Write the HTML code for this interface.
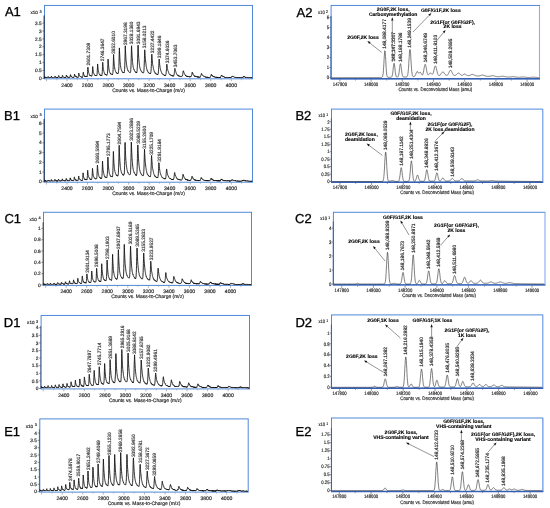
<!DOCTYPE html>
<html><head><meta charset="utf-8"><title>Figure</title>
<style>
html,body{margin:0;padding:0;background:#fff;}
body{width:550px;height:508px;overflow:hidden;}
svg{display:block;font-family:"Liberation Sans", Arial, sans-serif;text-rendering:geometricPrecision;}
</style></head><body>
<svg width="550" height="508" viewBox="0 0 550 508">
<defs><filter id="soft" x="0" y="0" width="550" height="508" filterUnits="userSpaceOnUse"><feGaussianBlur stdDeviation="0.32"/></filter></defs>
<rect x="0" y="0" width="550" height="508" fill="#ffffff"/>
<rect x="44.50" y="5.45" width="208.00" height="73.35" fill="#fff" stroke="#5088da" stroke-width="1"/>
<line x1="44.10" y1="15.60" x2="44.10" y2="78.80" stroke="#1a1a1a" stroke-width="0.9"/>
<line x1="42.30" y1="78.40" x2="44.10" y2="78.40" stroke="#333" stroke-width="0.5"/>
<line x1="42.30" y1="70.50" x2="44.10" y2="70.50" stroke="#333" stroke-width="0.5"/>
<line x1="42.30" y1="62.60" x2="44.10" y2="62.60" stroke="#333" stroke-width="0.5"/>
<line x1="42.30" y1="54.70" x2="44.10" y2="54.70" stroke="#333" stroke-width="0.5"/>
<line x1="42.30" y1="46.80" x2="44.10" y2="46.80" stroke="#333" stroke-width="0.5"/>
<line x1="42.30" y1="38.90" x2="44.10" y2="38.90" stroke="#333" stroke-width="0.5"/>
<line x1="42.30" y1="31.00" x2="44.10" y2="31.00" stroke="#333" stroke-width="0.5"/>
<line x1="42.30" y1="23.10" x2="44.10" y2="23.10" stroke="#333" stroke-width="0.5"/>
<line x1="46.46" y1="79.30" x2="46.46" y2="81.20" stroke="#667" stroke-width="0.5"/>
<line x1="56.73" y1="79.30" x2="56.73" y2="80.20" stroke="#667" stroke-width="0.5"/>
<line x1="67.00" y1="79.30" x2="67.00" y2="81.20" stroke="#667" stroke-width="0.5"/>
<line x1="77.27" y1="79.30" x2="77.27" y2="80.20" stroke="#667" stroke-width="0.5"/>
<line x1="87.54" y1="79.30" x2="87.54" y2="81.20" stroke="#667" stroke-width="0.5"/>
<line x1="97.81" y1="79.30" x2="97.81" y2="80.20" stroke="#667" stroke-width="0.5"/>
<line x1="108.08" y1="79.30" x2="108.08" y2="81.20" stroke="#667" stroke-width="0.5"/>
<line x1="118.35" y1="79.30" x2="118.35" y2="80.20" stroke="#667" stroke-width="0.5"/>
<line x1="128.62" y1="79.30" x2="128.62" y2="81.20" stroke="#667" stroke-width="0.5"/>
<line x1="138.89" y1="79.30" x2="138.89" y2="80.20" stroke="#667" stroke-width="0.5"/>
<line x1="149.16" y1="79.30" x2="149.16" y2="81.20" stroke="#667" stroke-width="0.5"/>
<line x1="159.43" y1="79.30" x2="159.43" y2="80.20" stroke="#667" stroke-width="0.5"/>
<line x1="169.70" y1="79.30" x2="169.70" y2="81.20" stroke="#667" stroke-width="0.5"/>
<line x1="179.97" y1="79.30" x2="179.97" y2="80.20" stroke="#667" stroke-width="0.5"/>
<line x1="190.24" y1="79.30" x2="190.24" y2="81.20" stroke="#667" stroke-width="0.5"/>
<line x1="200.51" y1="79.30" x2="200.51" y2="80.20" stroke="#667" stroke-width="0.5"/>
<line x1="210.78" y1="79.30" x2="210.78" y2="81.20" stroke="#667" stroke-width="0.5"/>
<line x1="221.05" y1="79.30" x2="221.05" y2="80.20" stroke="#667" stroke-width="0.5"/>
<line x1="231.32" y1="79.30" x2="231.32" y2="81.20" stroke="#667" stroke-width="0.5"/>
<line x1="241.59" y1="79.30" x2="241.59" y2="80.20" stroke="#667" stroke-width="0.5"/>
<rect x="44.50" y="109.10" width="208.00" height="73.10" fill="#fff" stroke="#5088da" stroke-width="1"/>
<line x1="44.10" y1="118.90" x2="44.10" y2="182.20" stroke="#1a1a1a" stroke-width="0.9"/>
<line x1="42.30" y1="181.80" x2="44.10" y2="181.80" stroke="#333" stroke-width="0.5"/>
<line x1="42.30" y1="172.05" x2="44.10" y2="172.05" stroke="#333" stroke-width="0.5"/>
<line x1="42.30" y1="162.30" x2="44.10" y2="162.30" stroke="#333" stroke-width="0.5"/>
<line x1="42.30" y1="152.55" x2="44.10" y2="152.55" stroke="#333" stroke-width="0.5"/>
<line x1="42.30" y1="142.80" x2="44.10" y2="142.80" stroke="#333" stroke-width="0.5"/>
<line x1="42.30" y1="133.05" x2="44.10" y2="133.05" stroke="#333" stroke-width="0.5"/>
<line x1="42.30" y1="123.30" x2="44.10" y2="123.30" stroke="#333" stroke-width="0.5"/>
<line x1="46.46" y1="182.70" x2="46.46" y2="184.60" stroke="#667" stroke-width="0.5"/>
<line x1="56.73" y1="182.70" x2="56.73" y2="183.60" stroke="#667" stroke-width="0.5"/>
<line x1="67.00" y1="182.70" x2="67.00" y2="184.60" stroke="#667" stroke-width="0.5"/>
<line x1="77.27" y1="182.70" x2="77.27" y2="183.60" stroke="#667" stroke-width="0.5"/>
<line x1="87.54" y1="182.70" x2="87.54" y2="184.60" stroke="#667" stroke-width="0.5"/>
<line x1="97.81" y1="182.70" x2="97.81" y2="183.60" stroke="#667" stroke-width="0.5"/>
<line x1="108.08" y1="182.70" x2="108.08" y2="184.60" stroke="#667" stroke-width="0.5"/>
<line x1="118.35" y1="182.70" x2="118.35" y2="183.60" stroke="#667" stroke-width="0.5"/>
<line x1="128.62" y1="182.70" x2="128.62" y2="184.60" stroke="#667" stroke-width="0.5"/>
<line x1="138.89" y1="182.70" x2="138.89" y2="183.60" stroke="#667" stroke-width="0.5"/>
<line x1="149.16" y1="182.70" x2="149.16" y2="184.60" stroke="#667" stroke-width="0.5"/>
<line x1="159.43" y1="182.70" x2="159.43" y2="183.60" stroke="#667" stroke-width="0.5"/>
<line x1="169.70" y1="182.70" x2="169.70" y2="184.60" stroke="#667" stroke-width="0.5"/>
<line x1="179.97" y1="182.70" x2="179.97" y2="183.60" stroke="#667" stroke-width="0.5"/>
<line x1="190.24" y1="182.70" x2="190.24" y2="184.60" stroke="#667" stroke-width="0.5"/>
<line x1="200.51" y1="182.70" x2="200.51" y2="183.60" stroke="#667" stroke-width="0.5"/>
<line x1="210.78" y1="182.70" x2="210.78" y2="184.60" stroke="#667" stroke-width="0.5"/>
<line x1="221.05" y1="182.70" x2="221.05" y2="183.60" stroke="#667" stroke-width="0.5"/>
<line x1="231.32" y1="182.70" x2="231.32" y2="184.60" stroke="#667" stroke-width="0.5"/>
<line x1="241.59" y1="182.70" x2="241.59" y2="183.60" stroke="#667" stroke-width="0.5"/>
<rect x="43.50" y="212.30" width="208.00" height="73.10" fill="#fff" stroke="#5088da" stroke-width="1"/>
<line x1="43.10" y1="222.30" x2="43.10" y2="285.40" stroke="#3a3a40" stroke-width="0.9"/>
<line x1="41.30" y1="285.00" x2="43.10" y2="285.00" stroke="#333" stroke-width="0.5"/>
<line x1="41.30" y1="273.68" x2="43.10" y2="273.68" stroke="#333" stroke-width="0.5"/>
<line x1="41.30" y1="262.36" x2="43.10" y2="262.36" stroke="#333" stroke-width="0.5"/>
<line x1="41.30" y1="251.04" x2="43.10" y2="251.04" stroke="#333" stroke-width="0.5"/>
<line x1="41.30" y1="239.72" x2="43.10" y2="239.72" stroke="#333" stroke-width="0.5"/>
<line x1="41.30" y1="228.40" x2="43.10" y2="228.40" stroke="#333" stroke-width="0.5"/>
<line x1="45.66" y1="285.90" x2="45.66" y2="287.80" stroke="#667" stroke-width="0.5"/>
<line x1="55.93" y1="285.90" x2="55.93" y2="286.80" stroke="#667" stroke-width="0.5"/>
<line x1="66.20" y1="285.90" x2="66.20" y2="287.80" stroke="#667" stroke-width="0.5"/>
<line x1="76.47" y1="285.90" x2="76.47" y2="286.80" stroke="#667" stroke-width="0.5"/>
<line x1="86.74" y1="285.90" x2="86.74" y2="287.80" stroke="#667" stroke-width="0.5"/>
<line x1="97.01" y1="285.90" x2="97.01" y2="286.80" stroke="#667" stroke-width="0.5"/>
<line x1="107.28" y1="285.90" x2="107.28" y2="287.80" stroke="#667" stroke-width="0.5"/>
<line x1="117.55" y1="285.90" x2="117.55" y2="286.80" stroke="#667" stroke-width="0.5"/>
<line x1="127.82" y1="285.90" x2="127.82" y2="287.80" stroke="#667" stroke-width="0.5"/>
<line x1="138.09" y1="285.90" x2="138.09" y2="286.80" stroke="#667" stroke-width="0.5"/>
<line x1="148.36" y1="285.90" x2="148.36" y2="287.80" stroke="#667" stroke-width="0.5"/>
<line x1="158.63" y1="285.90" x2="158.63" y2="286.80" stroke="#667" stroke-width="0.5"/>
<line x1="168.90" y1="285.90" x2="168.90" y2="287.80" stroke="#667" stroke-width="0.5"/>
<line x1="179.17" y1="285.90" x2="179.17" y2="286.80" stroke="#667" stroke-width="0.5"/>
<line x1="189.44" y1="285.90" x2="189.44" y2="287.80" stroke="#667" stroke-width="0.5"/>
<line x1="199.71" y1="285.90" x2="199.71" y2="286.80" stroke="#667" stroke-width="0.5"/>
<line x1="209.98" y1="285.90" x2="209.98" y2="287.80" stroke="#667" stroke-width="0.5"/>
<line x1="220.25" y1="285.90" x2="220.25" y2="286.80" stroke="#667" stroke-width="0.5"/>
<line x1="230.52" y1="285.90" x2="230.52" y2="287.80" stroke="#667" stroke-width="0.5"/>
<line x1="240.79" y1="285.90" x2="240.79" y2="286.80" stroke="#667" stroke-width="0.5"/>
<rect x="41.10" y="315.45" width="208.40" height="73.45" fill="#fff" stroke="#5088da" stroke-width="1"/>
<line x1="40.70" y1="326.00" x2="40.70" y2="388.90" stroke="#4a5f90" stroke-width="0.8"/>
<line x1="38.90" y1="388.50" x2="40.70" y2="388.50" stroke="#333" stroke-width="0.5"/>
<line x1="38.90" y1="380.90" x2="40.70" y2="380.90" stroke="#333" stroke-width="0.5"/>
<line x1="38.90" y1="373.30" x2="40.70" y2="373.30" stroke="#333" stroke-width="0.5"/>
<line x1="38.90" y1="365.70" x2="40.70" y2="365.70" stroke="#333" stroke-width="0.5"/>
<line x1="38.90" y1="358.10" x2="40.70" y2="358.10" stroke="#333" stroke-width="0.5"/>
<line x1="38.90" y1="350.50" x2="40.70" y2="350.50" stroke="#333" stroke-width="0.5"/>
<line x1="38.90" y1="342.90" x2="40.70" y2="342.90" stroke="#333" stroke-width="0.5"/>
<line x1="38.90" y1="335.30" x2="40.70" y2="335.30" stroke="#333" stroke-width="0.5"/>
<line x1="38.90" y1="327.70" x2="40.70" y2="327.70" stroke="#333" stroke-width="0.5"/>
<line x1="43.26" y1="389.40" x2="43.26" y2="391.30" stroke="#667" stroke-width="0.5"/>
<line x1="53.53" y1="389.40" x2="53.53" y2="390.30" stroke="#667" stroke-width="0.5"/>
<line x1="63.80" y1="389.40" x2="63.80" y2="391.30" stroke="#667" stroke-width="0.5"/>
<line x1="74.07" y1="389.40" x2="74.07" y2="390.30" stroke="#667" stroke-width="0.5"/>
<line x1="84.34" y1="389.40" x2="84.34" y2="391.30" stroke="#667" stroke-width="0.5"/>
<line x1="94.61" y1="389.40" x2="94.61" y2="390.30" stroke="#667" stroke-width="0.5"/>
<line x1="104.88" y1="389.40" x2="104.88" y2="391.30" stroke="#667" stroke-width="0.5"/>
<line x1="115.15" y1="389.40" x2="115.15" y2="390.30" stroke="#667" stroke-width="0.5"/>
<line x1="125.42" y1="389.40" x2="125.42" y2="391.30" stroke="#667" stroke-width="0.5"/>
<line x1="135.69" y1="389.40" x2="135.69" y2="390.30" stroke="#667" stroke-width="0.5"/>
<line x1="145.96" y1="389.40" x2="145.96" y2="391.30" stroke="#667" stroke-width="0.5"/>
<line x1="156.23" y1="389.40" x2="156.23" y2="390.30" stroke="#667" stroke-width="0.5"/>
<line x1="166.50" y1="389.40" x2="166.50" y2="391.30" stroke="#667" stroke-width="0.5"/>
<line x1="176.77" y1="389.40" x2="176.77" y2="390.30" stroke="#667" stroke-width="0.5"/>
<line x1="187.04" y1="389.40" x2="187.04" y2="391.30" stroke="#667" stroke-width="0.5"/>
<line x1="197.31" y1="389.40" x2="197.31" y2="390.30" stroke="#667" stroke-width="0.5"/>
<line x1="207.58" y1="389.40" x2="207.58" y2="391.30" stroke="#667" stroke-width="0.5"/>
<line x1="217.85" y1="389.40" x2="217.85" y2="390.30" stroke="#667" stroke-width="0.5"/>
<line x1="228.12" y1="389.40" x2="228.12" y2="391.30" stroke="#667" stroke-width="0.5"/>
<line x1="238.39" y1="389.40" x2="238.39" y2="390.30" stroke="#667" stroke-width="0.5"/>
<rect x="39.80" y="418.90" width="208.40" height="73.20" fill="#fff" stroke="#5088da" stroke-width="1"/>
<line x1="39.40" y1="429.30" x2="39.40" y2="492.10" stroke="#3d4f78" stroke-width="0.8"/>
<line x1="37.60" y1="491.70" x2="39.40" y2="491.70" stroke="#333" stroke-width="0.5"/>
<line x1="37.60" y1="484.37" x2="39.40" y2="484.37" stroke="#333" stroke-width="0.5"/>
<line x1="37.60" y1="477.03" x2="39.40" y2="477.03" stroke="#333" stroke-width="0.5"/>
<line x1="37.60" y1="469.69" x2="39.40" y2="469.69" stroke="#333" stroke-width="0.5"/>
<line x1="37.60" y1="462.36" x2="39.40" y2="462.36" stroke="#333" stroke-width="0.5"/>
<line x1="37.60" y1="455.02" x2="39.40" y2="455.02" stroke="#333" stroke-width="0.5"/>
<line x1="37.60" y1="447.69" x2="39.40" y2="447.69" stroke="#333" stroke-width="0.5"/>
<line x1="37.60" y1="440.36" x2="39.40" y2="440.36" stroke="#333" stroke-width="0.5"/>
<line x1="37.60" y1="433.02" x2="39.40" y2="433.02" stroke="#333" stroke-width="0.5"/>
<line x1="41.64" y1="492.60" x2="41.64" y2="494.50" stroke="#667" stroke-width="0.5"/>
<line x1="51.92" y1="492.60" x2="51.92" y2="493.50" stroke="#667" stroke-width="0.5"/>
<line x1="62.20" y1="492.60" x2="62.20" y2="494.50" stroke="#667" stroke-width="0.5"/>
<line x1="72.48" y1="492.60" x2="72.48" y2="493.50" stroke="#667" stroke-width="0.5"/>
<line x1="82.76" y1="492.60" x2="82.76" y2="494.50" stroke="#667" stroke-width="0.5"/>
<line x1="93.04" y1="492.60" x2="93.04" y2="493.50" stroke="#667" stroke-width="0.5"/>
<line x1="103.32" y1="492.60" x2="103.32" y2="494.50" stroke="#667" stroke-width="0.5"/>
<line x1="113.60" y1="492.60" x2="113.60" y2="493.50" stroke="#667" stroke-width="0.5"/>
<line x1="123.88" y1="492.60" x2="123.88" y2="494.50" stroke="#667" stroke-width="0.5"/>
<line x1="134.16" y1="492.60" x2="134.16" y2="493.50" stroke="#667" stroke-width="0.5"/>
<line x1="144.44" y1="492.60" x2="144.44" y2="494.50" stroke="#667" stroke-width="0.5"/>
<line x1="154.72" y1="492.60" x2="154.72" y2="493.50" stroke="#667" stroke-width="0.5"/>
<line x1="165.00" y1="492.60" x2="165.00" y2="494.50" stroke="#667" stroke-width="0.5"/>
<line x1="175.28" y1="492.60" x2="175.28" y2="493.50" stroke="#667" stroke-width="0.5"/>
<line x1="185.56" y1="492.60" x2="185.56" y2="494.50" stroke="#667" stroke-width="0.5"/>
<line x1="195.84" y1="492.60" x2="195.84" y2="493.50" stroke="#667" stroke-width="0.5"/>
<line x1="206.12" y1="492.60" x2="206.12" y2="494.50" stroke="#667" stroke-width="0.5"/>
<line x1="216.40" y1="492.60" x2="216.40" y2="493.50" stroke="#667" stroke-width="0.5"/>
<line x1="226.68" y1="492.60" x2="226.68" y2="494.50" stroke="#667" stroke-width="0.5"/>
<line x1="236.96" y1="492.60" x2="236.96" y2="493.50" stroke="#667" stroke-width="0.5"/>
<rect x="331.10" y="5.45" width="208.40" height="73.35" fill="#fff" stroke="#5088da" stroke-width="1"/>
<line x1="539.50" y1="5.95" x2="539.50" y2="78.80" stroke="#8db0ec" stroke-width="1.1"/>
<line x1="330.60" y1="78.80" x2="540.00" y2="78.80" stroke="#3560b5" stroke-width="1.4"/>
<line x1="331.00" y1="16.00" x2="331.00" y2="78.80" stroke="#3560b5" stroke-width="1.05"/>
<line x1="329.30" y1="77.60" x2="330.70" y2="77.60" stroke="#333" stroke-width="0.5"/>
<line x1="329.30" y1="67.60" x2="330.70" y2="67.60" stroke="#333" stroke-width="0.5"/>
<line x1="329.30" y1="57.60" x2="330.70" y2="57.60" stroke="#333" stroke-width="0.5"/>
<line x1="329.30" y1="47.60" x2="330.70" y2="47.60" stroke="#333" stroke-width="0.5"/>
<line x1="329.30" y1="37.60" x2="330.70" y2="37.60" stroke="#333" stroke-width="0.5"/>
<line x1="329.30" y1="27.60" x2="330.70" y2="27.60" stroke="#333" stroke-width="0.5"/>
<line x1="329.30" y1="17.60" x2="330.70" y2="17.60" stroke="#333" stroke-width="0.5"/>
<line x1="339.90" y1="79.40" x2="339.90" y2="81.70" stroke="#445" stroke-width="0.55"/>
<line x1="355.50" y1="79.40" x2="355.50" y2="80.50" stroke="#445" stroke-width="0.55"/>
<line x1="371.10" y1="79.40" x2="371.10" y2="81.70" stroke="#445" stroke-width="0.55"/>
<line x1="386.70" y1="79.40" x2="386.70" y2="80.50" stroke="#445" stroke-width="0.55"/>
<line x1="402.30" y1="79.40" x2="402.30" y2="81.70" stroke="#445" stroke-width="0.55"/>
<line x1="417.90" y1="79.40" x2="417.90" y2="80.50" stroke="#445" stroke-width="0.55"/>
<line x1="433.50" y1="79.40" x2="433.50" y2="81.70" stroke="#445" stroke-width="0.55"/>
<line x1="449.10" y1="79.40" x2="449.10" y2="80.50" stroke="#445" stroke-width="0.55"/>
<line x1="464.70" y1="79.40" x2="464.70" y2="81.70" stroke="#445" stroke-width="0.55"/>
<line x1="480.30" y1="79.40" x2="480.30" y2="80.50" stroke="#445" stroke-width="0.55"/>
<line x1="495.90" y1="79.40" x2="495.90" y2="81.70" stroke="#445" stroke-width="0.55"/>
<line x1="511.50" y1="79.40" x2="511.50" y2="80.50" stroke="#445" stroke-width="0.55"/>
<line x1="527.10" y1="79.40" x2="527.10" y2="81.70" stroke="#445" stroke-width="0.55"/>
<line x1="381.60" y1="52.40" x2="369.90" y2="43.00" stroke="#111" stroke-width="0.45"/>
<line x1="392.30" y1="62.00" x2="392.30" y2="20.40" stroke="#111" stroke-width="0.45"/>
<line x1="413.00" y1="32.00" x2="429.17" y2="15.30" stroke="#111" stroke-width="0.45"/>
<line x1="436.70" y1="40.70" x2="443.55" y2="32.46" stroke="#111" stroke-width="0.45"/>
<rect x="331.50" y="109.10" width="211.20" height="73.10" fill="#fff" stroke="#5088da" stroke-width="1"/>
<line x1="542.70" y1="109.60" x2="542.70" y2="182.20" stroke="#8db0ec" stroke-width="1.1"/>
<line x1="331.00" y1="182.20" x2="543.20" y2="182.20" stroke="#3560b5" stroke-width="1.4"/>
<line x1="331.40" y1="118.20" x2="331.40" y2="182.20" stroke="#3560b5" stroke-width="1.05"/>
<line x1="329.70" y1="181.50" x2="331.10" y2="181.50" stroke="#333" stroke-width="0.5"/>
<line x1="329.70" y1="174.04" x2="331.10" y2="174.04" stroke="#333" stroke-width="0.5"/>
<line x1="329.70" y1="166.57" x2="331.10" y2="166.57" stroke="#333" stroke-width="0.5"/>
<line x1="329.70" y1="159.11" x2="331.10" y2="159.11" stroke="#333" stroke-width="0.5"/>
<line x1="329.70" y1="151.65" x2="331.10" y2="151.65" stroke="#333" stroke-width="0.5"/>
<line x1="329.70" y1="144.19" x2="331.10" y2="144.19" stroke="#333" stroke-width="0.5"/>
<line x1="329.70" y1="136.72" x2="331.10" y2="136.72" stroke="#333" stroke-width="0.5"/>
<line x1="329.70" y1="129.26" x2="331.10" y2="129.26" stroke="#333" stroke-width="0.5"/>
<line x1="329.70" y1="121.80" x2="331.10" y2="121.80" stroke="#333" stroke-width="0.5"/>
<line x1="339.90" y1="182.80" x2="339.90" y2="185.10" stroke="#445" stroke-width="0.55"/>
<line x1="355.74" y1="182.80" x2="355.74" y2="183.90" stroke="#445" stroke-width="0.55"/>
<line x1="371.58" y1="182.80" x2="371.58" y2="185.10" stroke="#445" stroke-width="0.55"/>
<line x1="387.42" y1="182.80" x2="387.42" y2="183.90" stroke="#445" stroke-width="0.55"/>
<line x1="403.26" y1="182.80" x2="403.26" y2="185.10" stroke="#445" stroke-width="0.55"/>
<line x1="419.10" y1="182.80" x2="419.10" y2="183.90" stroke="#445" stroke-width="0.55"/>
<line x1="434.94" y1="182.80" x2="434.94" y2="185.10" stroke="#445" stroke-width="0.55"/>
<line x1="450.78" y1="182.80" x2="450.78" y2="183.90" stroke="#445" stroke-width="0.55"/>
<line x1="466.62" y1="182.80" x2="466.62" y2="185.10" stroke="#445" stroke-width="0.55"/>
<line x1="482.46" y1="182.80" x2="482.46" y2="183.90" stroke="#445" stroke-width="0.55"/>
<line x1="498.30" y1="182.80" x2="498.30" y2="185.10" stroke="#445" stroke-width="0.55"/>
<line x1="514.14" y1="182.80" x2="514.14" y2="183.90" stroke="#445" stroke-width="0.55"/>
<line x1="529.98" y1="182.80" x2="529.98" y2="185.10" stroke="#445" stroke-width="0.55"/>
<line x1="382.40" y1="155.40" x2="369.16" y2="145.51" stroke="#111" stroke-width="0.45"/>
<line x1="410.40" y1="131.00" x2="410.40" y2="124.80" stroke="#111" stroke-width="0.45"/>
<line x1="435.40" y1="140.70" x2="442.16" y2="133.79" stroke="#111" stroke-width="0.45"/>
<rect x="333.40" y="212.30" width="211.50" height="72.60" fill="#fff" stroke="#5088da" stroke-width="1"/>
<line x1="544.90" y1="212.80" x2="544.90" y2="284.90" stroke="#c3d4f6" stroke-width="1.5"/>
<line x1="332.90" y1="284.90" x2="545.40" y2="284.90" stroke="#3560b5" stroke-width="1.4"/>
<line x1="333.30" y1="221.50" x2="333.30" y2="284.90" stroke="#3560b5" stroke-width="1.05"/>
<line x1="331.60" y1="284.00" x2="333.00" y2="284.00" stroke="#333" stroke-width="0.5"/>
<line x1="331.60" y1="270.00" x2="333.00" y2="270.00" stroke="#333" stroke-width="0.5"/>
<line x1="331.60" y1="256.00" x2="333.00" y2="256.00" stroke="#333" stroke-width="0.5"/>
<line x1="331.60" y1="242.00" x2="333.00" y2="242.00" stroke="#333" stroke-width="0.5"/>
<line x1="331.60" y1="228.00" x2="333.00" y2="228.00" stroke="#333" stroke-width="0.5"/>
<line x1="341.70" y1="285.50" x2="341.70" y2="287.80" stroke="#445" stroke-width="0.55"/>
<line x1="357.56" y1="285.50" x2="357.56" y2="286.60" stroke="#445" stroke-width="0.55"/>
<line x1="373.42" y1="285.50" x2="373.42" y2="287.80" stroke="#445" stroke-width="0.55"/>
<line x1="389.28" y1="285.50" x2="389.28" y2="286.60" stroke="#445" stroke-width="0.55"/>
<line x1="405.14" y1="285.50" x2="405.14" y2="287.80" stroke="#445" stroke-width="0.55"/>
<line x1="421.00" y1="285.50" x2="421.00" y2="286.60" stroke="#445" stroke-width="0.55"/>
<line x1="436.86" y1="285.50" x2="436.86" y2="287.80" stroke="#445" stroke-width="0.55"/>
<line x1="452.72" y1="285.50" x2="452.72" y2="286.60" stroke="#445" stroke-width="0.55"/>
<line x1="468.58" y1="285.50" x2="468.58" y2="287.80" stroke="#445" stroke-width="0.55"/>
<line x1="484.44" y1="285.50" x2="484.44" y2="286.60" stroke="#445" stroke-width="0.55"/>
<line x1="500.30" y1="285.50" x2="500.30" y2="287.80" stroke="#445" stroke-width="0.55"/>
<line x1="516.16" y1="285.50" x2="516.16" y2="286.60" stroke="#445" stroke-width="0.55"/>
<line x1="532.02" y1="285.50" x2="532.02" y2="287.80" stroke="#445" stroke-width="0.55"/>
<line x1="385.00" y1="261.00" x2="375.00" y2="248.50" stroke="#111" stroke-width="0.45"/>
<line x1="409.00" y1="235.00" x2="402.02" y2="223.16" stroke="#111" stroke-width="0.45"/>
<line x1="440.50" y1="245.30" x2="448.07" y2="236.79" stroke="#111" stroke-width="0.45"/>
<rect x="331.50" y="314.90" width="211.20" height="73.30" fill="#fff" stroke="#5088da" stroke-width="1"/>
<line x1="542.70" y1="315.40" x2="542.70" y2="388.20" stroke="#8db0ec" stroke-width="1.1"/>
<line x1="331.00" y1="388.20" x2="543.20" y2="388.20" stroke="#3560b5" stroke-width="1.4"/>
<line x1="331.40" y1="324.50" x2="331.40" y2="388.20" stroke="#3560b5" stroke-width="1.05"/>
<line x1="329.70" y1="387.30" x2="331.10" y2="387.30" stroke="#333" stroke-width="0.5"/>
<line x1="329.70" y1="376.44" x2="331.10" y2="376.44" stroke="#333" stroke-width="0.5"/>
<line x1="329.70" y1="365.58" x2="331.10" y2="365.58" stroke="#333" stroke-width="0.5"/>
<line x1="329.70" y1="354.72" x2="331.10" y2="354.72" stroke="#333" stroke-width="0.5"/>
<line x1="329.70" y1="343.86" x2="331.10" y2="343.86" stroke="#333" stroke-width="0.5"/>
<line x1="329.70" y1="333.00" x2="331.10" y2="333.00" stroke="#333" stroke-width="0.5"/>
<line x1="339.60" y1="388.80" x2="339.60" y2="391.10" stroke="#445" stroke-width="0.55"/>
<line x1="355.50" y1="388.80" x2="355.50" y2="389.90" stroke="#445" stroke-width="0.55"/>
<line x1="371.40" y1="388.80" x2="371.40" y2="391.10" stroke="#445" stroke-width="0.55"/>
<line x1="387.30" y1="388.80" x2="387.30" y2="389.90" stroke="#445" stroke-width="0.55"/>
<line x1="403.20" y1="388.80" x2="403.20" y2="391.10" stroke="#445" stroke-width="0.55"/>
<line x1="419.10" y1="388.80" x2="419.10" y2="389.90" stroke="#445" stroke-width="0.55"/>
<line x1="435.00" y1="388.80" x2="435.00" y2="391.10" stroke="#445" stroke-width="0.55"/>
<line x1="450.90" y1="388.80" x2="450.90" y2="389.90" stroke="#445" stroke-width="0.55"/>
<line x1="466.80" y1="388.80" x2="466.80" y2="391.10" stroke="#445" stroke-width="0.55"/>
<line x1="482.70" y1="388.80" x2="482.70" y2="389.90" stroke="#445" stroke-width="0.55"/>
<line x1="498.60" y1="388.80" x2="498.60" y2="391.10" stroke="#445" stroke-width="0.55"/>
<line x1="514.50" y1="388.80" x2="514.50" y2="389.90" stroke="#445" stroke-width="0.55"/>
<line x1="530.40" y1="388.80" x2="530.40" y2="391.10" stroke="#445" stroke-width="0.55"/>
<line x1="383.00" y1="372.00" x2="366.73" y2="362.07" stroke="#111" stroke-width="0.45"/>
<line x1="400.40" y1="338.00" x2="387.40" y2="326.52" stroke="#111" stroke-width="0.45"/>
<line x1="431.60" y1="339.00" x2="431.60" y2="327.20" stroke="#111" stroke-width="0.45"/>
<line x1="455.80" y1="348.30" x2="461.54" y2="340.30" stroke="#111" stroke-width="0.45"/>
<rect x="331.50" y="418.00" width="211.30" height="73.50" fill="#fff" stroke="#5088da" stroke-width="1"/>
<line x1="542.80" y1="418.50" x2="542.80" y2="491.50" stroke="#8db0ec" stroke-width="1.1"/>
<line x1="331.00" y1="491.50" x2="543.30" y2="491.50" stroke="#3560b5" stroke-width="1.4"/>
<line x1="331.40" y1="428.00" x2="331.40" y2="491.50" stroke="#3560b5" stroke-width="1.05"/>
<line x1="329.70" y1="490.60" x2="331.10" y2="490.60" stroke="#333" stroke-width="0.5"/>
<line x1="329.70" y1="482.60" x2="331.10" y2="482.60" stroke="#333" stroke-width="0.5"/>
<line x1="329.70" y1="474.60" x2="331.10" y2="474.60" stroke="#333" stroke-width="0.5"/>
<line x1="329.70" y1="466.60" x2="331.10" y2="466.60" stroke="#333" stroke-width="0.5"/>
<line x1="329.70" y1="458.60" x2="331.10" y2="458.60" stroke="#333" stroke-width="0.5"/>
<line x1="329.70" y1="450.60" x2="331.10" y2="450.60" stroke="#333" stroke-width="0.5"/>
<line x1="329.70" y1="442.60" x2="331.10" y2="442.60" stroke="#333" stroke-width="0.5"/>
<line x1="329.70" y1="434.60" x2="331.10" y2="434.60" stroke="#333" stroke-width="0.5"/>
<line x1="339.30" y1="492.10" x2="339.30" y2="494.40" stroke="#445" stroke-width="0.55"/>
<line x1="355.20" y1="492.10" x2="355.20" y2="493.20" stroke="#445" stroke-width="0.55"/>
<line x1="371.10" y1="492.10" x2="371.10" y2="494.40" stroke="#445" stroke-width="0.55"/>
<line x1="387.00" y1="492.10" x2="387.00" y2="493.20" stroke="#445" stroke-width="0.55"/>
<line x1="402.90" y1="492.10" x2="402.90" y2="494.40" stroke="#445" stroke-width="0.55"/>
<line x1="418.80" y1="492.10" x2="418.80" y2="493.20" stroke="#445" stroke-width="0.55"/>
<line x1="434.70" y1="492.10" x2="434.70" y2="494.40" stroke="#445" stroke-width="0.55"/>
<line x1="450.60" y1="492.10" x2="450.60" y2="493.20" stroke="#445" stroke-width="0.55"/>
<line x1="466.50" y1="492.10" x2="466.50" y2="494.40" stroke="#445" stroke-width="0.55"/>
<line x1="482.40" y1="492.10" x2="482.40" y2="493.20" stroke="#445" stroke-width="0.55"/>
<line x1="498.30" y1="492.10" x2="498.30" y2="494.40" stroke="#445" stroke-width="0.55"/>
<line x1="514.20" y1="492.10" x2="514.20" y2="493.20" stroke="#445" stroke-width="0.55"/>
<line x1="530.10" y1="492.10" x2="530.10" y2="494.40" stroke="#445" stroke-width="0.55"/>
<line x1="434.00" y1="456.60" x2="408.86" y2="444.03" stroke="#111" stroke-width="0.45"/>
<line x1="461.40" y1="441.00" x2="461.40" y2="433.00" stroke="#111" stroke-width="0.45"/>
<line x1="487.60" y1="452.60" x2="494.40" y2="444.81" stroke="#111" stroke-width="0.45"/>
<g filter="url(#soft)">
<text x="4.90" y="16.10" font-size="13.0" fill="#000" stroke="#000" stroke-width="0.3">A1</text>
<text x="41.70" y="80.05" font-size="4.8" text-anchor="end" fill="#262626" stroke="#262626" stroke-width="0.16">0</text>
<text x="41.70" y="72.15" font-size="4.8" text-anchor="end" fill="#262626" stroke="#262626" stroke-width="0.16">0.5</text>
<text x="41.70" y="64.25" font-size="4.8" text-anchor="end" fill="#262626" stroke="#262626" stroke-width="0.16">1</text>
<text x="41.70" y="56.35" font-size="4.8" text-anchor="end" fill="#262626" stroke="#262626" stroke-width="0.16">1.5</text>
<text x="41.70" y="48.45" font-size="4.8" text-anchor="end" fill="#262626" stroke="#262626" stroke-width="0.16">2</text>
<text x="41.70" y="40.55" font-size="4.8" text-anchor="end" fill="#262626" stroke="#262626" stroke-width="0.16">2.5</text>
<text x="41.70" y="32.65" font-size="4.8" text-anchor="end" fill="#262626" stroke="#262626" stroke-width="0.16">3</text>
<text x="41.70" y="24.75" font-size="4.8" text-anchor="end" fill="#262626" stroke="#262626" stroke-width="0.16">3.5</text>
<text x="37.90" y="14.00" font-size="4.6" text-anchor="end" fill="#262626" stroke="#262626" stroke-width="0.16">x10</text>
<text x="39.50" y="12.70" font-size="3.8" fill="#262626" stroke="#262626" stroke-width="0.16">3</text>
<text x="67.00" y="86.60" font-size="5.1" text-anchor="middle" fill="#262626" stroke="#262626" stroke-width="0.16">2400</text>
<text x="87.54" y="86.60" font-size="5.1" text-anchor="middle" fill="#262626" stroke="#262626" stroke-width="0.16">2600</text>
<text x="108.08" y="86.60" font-size="5.1" text-anchor="middle" fill="#262626" stroke="#262626" stroke-width="0.16">2800</text>
<text x="128.62" y="86.60" font-size="5.1" text-anchor="middle" fill="#262626" stroke="#262626" stroke-width="0.16">3000</text>
<text x="149.16" y="86.60" font-size="5.1" text-anchor="middle" fill="#262626" stroke="#262626" stroke-width="0.16">3200</text>
<text x="169.70" y="86.60" font-size="5.1" text-anchor="middle" fill="#262626" stroke="#262626" stroke-width="0.16">3400</text>
<text x="190.24" y="86.60" font-size="5.1" text-anchor="middle" fill="#262626" stroke="#262626" stroke-width="0.16">3600</text>
<text x="210.78" y="86.60" font-size="5.1" text-anchor="middle" fill="#262626" stroke="#262626" stroke-width="0.16">3800</text>
<text x="231.32" y="86.60" font-size="5.1" text-anchor="middle" fill="#262626" stroke="#262626" stroke-width="0.16">4000</text>
<text x="148.50" y="91.70" font-size="4.95" text-anchor="middle" fill="#262626" stroke="#262626" stroke-width="0.16">Counts vs. Mass-to-Charge (m/z)</text>
<polyline points="44.5,76.82 44.6,76.83 44.7,76.71 44.8,77.02 44.9,76.86 45.0,77.52 45.1,76.96 45.2,77.46 45.3,77.35 45.4,77.50 45.5,77.26 45.6,77.88 45.7,77.63 45.8,77.66 45.9,77.43 46.0,77.82 46.1,77.68 46.2,77.81 46.3,77.67 46.5,77.59 46.6,77.87 46.7,77.51 46.8,77.56 46.9,77.63 47.0,77.57 47.1,77.83 47.2,77.74 47.3,77.88 47.4,77.76 47.5,77.60 47.6,77.73 47.7,77.53 47.8,77.32 47.9,76.98 48.0,76.62 48.1,76.63 48.2,77.02 48.3,76.95 48.4,76.85 48.5,77.10 48.6,77.34 48.7,77.53 48.8,77.56 48.9,77.20 49.0,77.51 49.1,77.65 49.2,77.54 49.3,77.25 49.4,77.59 49.5,77.53 49.6,77.59 49.7,77.71 49.8,77.85 49.9,77.73 50.0,77.71 50.1,77.59 50.3,77.55 50.4,77.54 50.5,77.65 50.6,77.55 50.7,77.83 50.8,77.49 50.9,77.59 51.0,77.67 51.1,77.43 51.2,77.31 51.3,76.77 51.4,76.31 51.5,76.02 51.6,76.85 51.7,77.05 51.8,77.05 51.9,77.06 52.0,77.05 52.1,77.22 52.2,77.68 52.3,77.45 52.4,77.30 52.5,77.44 52.6,77.38 52.7,77.57 52.8,77.59 52.9,77.55 53.0,77.52 53.1,77.57 53.2,77.60 53.3,77.74 53.4,77.57 53.5,77.62 53.6,77.46 53.7,77.45 53.8,77.63 53.9,77.72 54.1,77.77 54.2,77.59 54.3,77.65 54.4,77.70 54.5,77.59 54.6,77.61 54.7,77.19 54.8,77.06 54.9,76.33 55.0,76.04 55.1,76.08 55.2,76.62 55.3,76.61 55.4,76.69 55.5,77.11 55.6,77.10 55.7,77.15 55.8,77.46 55.9,77.24 56.0,77.20 56.1,77.53 56.2,77.36 56.3,77.67 56.4,77.48 56.5,77.77 56.6,77.33 56.7,77.47 56.8,77.55 56.9,77.69 57.0,77.36 57.1,77.25 57.2,77.89 57.3,77.38 57.4,77.33 57.5,77.54 57.6,77.80 57.7,77.46 57.9,77.64 58.0,77.70 58.1,77.77 58.2,77.40 58.3,77.20 58.4,77.14 58.5,76.51 58.6,76.25 58.7,75.53 58.8,75.94 58.9,76.25 59.0,76.46 59.1,76.49 59.2,76.66 59.3,76.82 59.4,76.99 59.5,77.09 59.6,77.07 59.7,77.19 59.8,77.17 59.9,77.37 60.0,77.76 60.1,77.21 60.2,77.05 60.3,77.36 60.4,77.47 60.5,77.49 60.6,77.50 60.7,77.49 60.8,77.69 60.9,77.60 61.0,77.69 61.1,77.49 61.2,77.59 61.3,77.46 61.4,77.57 61.5,77.38 61.7,77.51 61.8,77.16 61.9,77.79 62.0,77.46 62.1,76.98 62.2,76.33 62.3,76.26 62.4,75.61 62.5,75.35 62.6,75.46 62.7,76.03 62.8,76.11 62.9,76.48 63.0,76.81 63.1,76.69 63.2,76.77 63.3,76.74 63.4,77.06 63.5,77.21 63.6,77.07 63.7,77.17 63.8,77.21 63.9,77.30 64.0,77.13 64.1,77.29 64.2,77.05 64.3,77.20 64.4,77.30 64.5,77.69 64.6,77.33 64.7,77.38 64.8,77.32 64.9,77.29 65.0,77.54 65.1,77.34 65.2,77.58 65.3,77.17 65.5,77.71 65.6,77.77 65.7,77.73 65.8,77.54 65.9,77.43 66.0,76.66 66.1,76.60 66.2,76.18 66.3,75.12 66.4,75.11 66.5,75.61 66.6,75.58 66.7,75.89 66.8,76.29 66.9,76.18 67.0,76.54 67.1,76.43 67.2,76.73 67.3,76.64 67.4,76.96 67.5,77.25 67.6,76.70 67.7,77.24 67.8,77.23 67.9,77.34 68.0,77.29 68.1,77.25 68.2,77.28 68.3,77.22 68.4,77.05 68.5,77.38 68.6,77.58 68.7,77.58 68.8,77.51 68.9,77.69 69.0,77.28 69.1,77.51 69.3,77.48 69.4,77.43 69.5,77.67 69.6,77.57 69.7,77.28 69.8,77.22 69.9,77.25 70.0,76.60 70.1,76.67 70.2,75.88 70.3,75.15 70.4,75.07 70.5,74.66 70.6,75.29 70.7,75.83 70.8,75.58 70.9,76.04 71.0,76.25 71.1,76.58 71.2,76.59 71.3,76.97 71.4,76.68 71.5,76.95 71.6,76.93 71.7,76.81 71.8,77.02 71.9,77.06 72.0,77.10 72.1,77.30 72.2,77.06 72.3,76.97 72.4,77.12 72.5,77.12 72.6,77.43 72.7,77.44 72.8,77.55 72.9,77.11 73.1,77.37 73.2,77.11 73.3,77.48 73.4,77.42 73.5,77.34 73.6,77.20 73.7,77.34 73.8,77.29 73.9,77.26 74.0,77.10 74.1,77.06 74.2,76.43 74.3,75.85 74.4,75.04 74.5,74.20 74.6,74.32 74.7,74.69 74.8,75.11 74.9,75.32 75.0,75.53 75.1,76.05 75.2,75.99 75.3,75.91 75.4,76.64 75.5,76.66 75.6,76.77 75.7,76.75 75.8,76.51 75.9,76.84 76.0,77.02 76.1,76.85 76.2,77.09 76.3,76.84 76.4,77.01 76.5,76.85 76.6,77.22 76.7,76.63 76.9,77.01 77.0,77.06 77.1,77.19 77.2,77.31 77.3,77.35 77.4,77.23 77.5,77.35 77.6,77.18 77.7,77.37 77.8,77.13 77.9,77.07 78.0,77.33 78.1,76.97 78.2,77.11 78.3,76.69 78.4,76.46 78.5,75.79 78.6,75.35 78.7,74.26 78.8,73.14 78.9,73.52 79.0,74.29 79.1,74.73 79.2,75.21 79.3,75.47 79.4,75.47 79.5,75.42 79.6,75.91 79.7,75.95 79.8,76.17 79.9,76.28 80.0,76.42 80.1,76.51 80.2,76.48 80.3,76.82 80.4,76.52 80.5,76.59 80.7,76.82 80.8,76.69 80.9,76.97 81.0,76.98 81.1,76.89 81.2,76.97 81.3,77.03 81.4,77.09 81.5,77.08 81.6,76.85 81.7,77.34 81.8,76.97 81.9,77.08 82.0,76.92 82.1,76.96 82.2,77.51 82.3,76.95 82.4,76.97 82.5,76.97 82.6,76.94 82.7,76.50 82.8,76.32 82.9,75.32 83.0,74.62 83.1,73.23 83.2,72.57 83.3,72.20 83.4,72.49 83.5,73.06 83.6,73.70 83.7,74.39 83.8,74.58 83.9,74.72 84.0,75.12 84.1,75.34 84.2,75.55 84.3,75.84 84.5,75.92 84.6,76.19 84.7,75.77 84.8,76.23 84.9,76.14 85.0,76.46 85.1,76.21 85.2,76.70 85.3,76.28 85.4,76.47 85.5,76.14 85.6,76.73 85.7,76.53 85.8,76.50 85.9,76.37 86.0,76.66 86.1,76.58 86.2,76.96 86.3,76.75 86.4,76.54 86.5,76.44 86.6,76.67 86.7,76.28 86.8,76.32 86.9,76.59 87.0,76.91 87.1,76.66 87.2,76.22 87.3,75.41 87.4,74.71 87.5,73.82 87.6,71.74 87.7,69.32 87.8,67.63 87.9,67.14 88.0,67.91 88.1,69.31 88.3,70.31 88.4,70.95 88.5,71.68 88.6,72.33 88.7,72.56 88.8,73.00 88.9,73.42 89.0,73.89 89.1,73.96 89.2,74.40 89.3,74.53 89.4,74.61 89.5,74.81 89.6,74.79 89.7,75.13 89.8,75.59 89.9,75.60 90.0,75.26 90.1,75.61 90.2,75.56 90.3,75.82 90.4,75.57 90.5,75.84 90.6,75.58 90.7,75.95 90.8,75.71 90.9,75.82 91.0,76.09 91.1,75.81 91.2,76.17 91.3,76.18 91.4,75.94 91.5,76.17 91.6,76.16 91.7,76.08 91.8,76.08 91.9,75.53 92.1,75.19 92.2,74.62 92.3,73.54 92.4,71.91 92.5,69.75 92.6,67.85 92.7,66.55 92.8,67.15 92.9,68.41 93.0,69.39 93.1,69.88 93.2,70.99 93.3,71.62 93.4,72.41 93.5,72.79 93.6,72.89 93.7,73.43 93.8,73.54 93.9,74.08 94.0,74.26 94.1,74.23 94.2,74.28 94.3,74.58 94.4,74.62 94.5,74.66 94.6,74.88 94.7,75.30 94.8,75.25 94.9,75.21 95.0,75.45 95.1,75.37 95.2,75.76 95.3,75.68 95.4,75.50 95.5,76.00 95.6,75.85 95.7,75.70 95.8,76.01 96.0,75.74 96.1,75.90 96.2,75.84 96.3,75.85 96.4,75.78 96.5,75.91 96.6,75.78 96.7,75.82 96.8,75.49 96.9,75.01 97.0,74.75 97.1,73.91 97.2,72.83 97.3,70.70 97.4,68.65 97.5,66.19 97.6,63.98 97.7,64.56 97.8,65.78 97.9,66.91 98.0,68.27 98.1,69.05 98.2,69.56 98.3,70.37 98.4,71.01 98.5,71.43 98.6,72.20 98.7,72.39 98.8,72.61 98.9,72.88 99.0,73.55 99.1,73.70 99.2,73.80 99.3,74.10 99.4,74.28 99.5,74.25 99.6,74.55 99.8,74.91 99.9,74.65 100.0,74.88 100.1,75.01 100.2,75.22 100.3,74.86 100.4,75.46 100.5,75.43 100.6,75.24 100.7,75.04 100.8,75.07 100.9,75.51 101.0,75.39 101.1,75.64 101.2,75.25 101.3,75.69 101.4,75.48 101.5,75.30 101.6,75.50 101.7,75.18 101.8,75.47 101.9,75.07 102.0,74.62 102.1,74.15 102.2,72.87 102.3,71.50 102.4,69.80 102.5,66.36 102.6,64.27 102.7,62.32 102.8,63.28 102.9,64.50 103.0,65.86 103.1,66.79 103.2,67.81 103.3,68.42 103.4,69.45 103.6,70.04 103.7,70.64 103.8,71.23 103.9,71.68 104.0,71.86 104.1,72.26 104.2,72.80 104.3,73.15 104.4,73.21 104.5,73.22 104.6,73.61 104.7,73.48 104.8,74.05 104.9,74.03 105.0,74.59 105.1,74.38 105.2,74.43 105.3,74.38 105.4,74.26 105.5,74.61 105.6,74.44 105.7,74.62 105.8,74.62 105.9,74.91 106.0,74.65 106.1,75.09 106.2,74.87 106.3,75.14 106.4,75.09 106.5,75.28 106.6,75.14 106.7,75.00 106.8,75.07 106.9,75.25 107.0,74.70 107.1,74.73 107.2,74.30 107.4,73.79 107.5,73.13 107.6,71.96 107.7,69.84 107.8,66.93 107.9,64.32 108.0,61.04 108.1,59.21 108.2,60.37 108.3,62.38 108.4,63.33 108.5,64.79 108.6,65.75 108.7,66.85 108.8,67.61 108.9,68.52 109.0,69.05 109.1,70.02 109.2,70.47 109.3,70.63 109.4,71.17 109.5,71.57 109.6,71.88 109.7,72.06 109.8,72.49 109.9,72.54 110.0,72.98 110.1,73.08 110.2,73.01 110.3,73.14 110.4,73.63 110.5,73.43 110.6,73.85 110.7,73.65 110.8,74.17 110.9,74.12 111.0,74.09 111.2,74.10 111.3,73.89 111.4,74.03 111.5,73.96 111.6,74.07 111.7,74.35 111.8,74.39 111.9,74.20 112.0,74.39 112.1,74.45 112.2,74.66 112.3,74.45 112.4,74.87 112.5,74.42 112.6,74.35 112.7,73.79 112.8,73.49 112.9,72.64 113.0,71.08 113.1,69.60 113.2,66.81 113.3,63.97 113.4,60.04 113.5,56.58 113.6,54.48 113.7,56.84 113.8,58.54 113.9,60.22 114.0,61.76 114.1,63.04 114.2,64.15 114.3,65.19 114.4,66.33 114.5,67.17 114.6,67.27 114.7,68.00 114.8,69.11 115.0,69.31 115.1,69.73 115.2,70.11 115.3,70.56 115.4,71.06 115.5,71.22 115.6,71.53 115.7,71.65 115.8,71.92 115.9,72.08 116.0,72.06 116.1,72.17 116.2,72.70 116.3,72.70 116.4,72.87 116.5,72.63 116.6,72.93 116.7,72.76 116.8,73.16 116.9,73.14 117.0,73.43 117.1,73.05 117.2,73.37 117.3,73.61 117.4,73.50 117.5,73.82 117.6,73.48 117.7,73.48 117.8,73.47 117.9,73.28 118.0,73.56 118.1,73.32 118.2,73.28 118.3,73.12 118.4,72.98 118.5,71.73 118.6,70.78 118.8,68.90 118.9,66.57 119.0,62.95 119.1,58.87 119.2,54.41 119.3,50.33 119.4,47.95 119.5,50.61 119.6,53.00 119.7,54.66 119.8,57.16 119.9,58.77 120.0,60.35 120.1,61.41 120.2,62.76 120.3,64.13 120.4,64.81 120.5,65.43 120.6,66.02 120.7,67.10 120.8,67.54 120.9,68.00 121.0,68.58 121.1,68.80 121.2,69.27 121.3,69.57 121.4,70.06 121.5,69.97 121.6,70.49 121.7,70.51 121.8,71.01 121.9,71.04 122.0,71.42 122.1,71.63 122.2,71.74 122.3,71.77 122.4,71.92 122.6,71.75 122.7,72.30 122.8,72.39 122.9,72.01 123.0,72.28 123.1,72.77 123.2,72.45 123.3,72.56 123.4,73.02 123.5,72.78 123.6,72.77 123.7,72.69 123.8,72.69 123.9,72.85 124.0,72.68 124.1,72.82 124.2,72.79 124.3,72.52 124.4,71.78 124.5,71.38 124.6,69.66 124.7,68.06 124.8,65.30 124.9,61.69 125.0,57.38 125.1,53.30 125.2,48.79 125.3,45.84 125.4,48.18 125.5,50.42 125.6,53.13 125.7,54.71 125.8,56.48 125.9,58.13 126.0,59.38 126.1,61.04 126.2,61.79 126.4,63.12 126.5,63.80 126.6,64.80 126.7,65.36 126.8,66.03 126.9,67.01 127.0,67.34 127.1,67.82 127.2,68.30 127.3,68.79 127.4,68.72 127.5,69.33 127.6,69.41 127.7,70.04 127.8,70.37 127.9,70.40 128.0,70.73 128.1,70.43 128.2,70.96 128.3,70.98 128.4,71.36 128.5,71.51 128.6,71.59 128.7,71.65 128.8,71.67 128.9,71.94 129.0,72.13 129.1,72.28 129.2,72.20 129.3,72.16 129.4,72.26 129.5,72.40 129.6,72.56 129.7,72.49 129.8,72.47 129.9,72.61 130.0,72.61 130.2,72.64 130.3,72.41 130.4,72.51 130.5,72.15 130.6,71.67 130.7,70.89 130.8,69.62 130.9,68.07 131.0,65.72 131.1,62.94 131.2,58.73 131.3,54.04 131.4,50.06 131.5,46.36 131.6,45.74 131.7,48.15 131.8,50.57 131.9,52.84 132.0,54.65 132.1,56.17 132.2,57.76 132.3,58.84 132.4,60.31 132.5,61.54 132.6,62.50 132.7,63.57 132.8,64.49 132.9,65.04 133.0,65.66 133.1,66.58 133.2,66.99 133.3,67.47 133.4,67.82 133.5,68.32 133.6,68.58 133.7,68.98 133.8,69.14 134.0,69.88 134.1,69.59 134.2,69.87 134.3,70.32 134.4,70.42 134.5,70.62 134.6,71.02 134.7,71.03 134.8,71.07 134.9,71.29 135.0,71.29 135.1,71.57 135.2,71.68 135.3,71.93 135.4,71.95 135.5,72.06 135.6,71.79 135.7,72.11 135.8,72.39 135.9,72.23 136.0,72.39 136.1,72.92 136.2,72.39 136.3,72.78 136.4,72.45 136.5,72.72 136.6,72.78 136.7,72.39 136.8,72.55 136.9,72.08 137.0,71.46 137.1,70.59 137.2,69.35 137.3,67.73 137.4,65.47 137.5,61.90 137.6,58.53 137.8,53.86 137.9,49.91 138.0,46.02 138.1,45.18 138.2,48.07 138.3,50.12 138.4,52.12 138.5,53.99 138.6,55.83 138.7,57.27 138.8,58.76 138.9,60.14 139.0,60.91 139.1,62.19 139.2,62.80 139.3,63.77 139.4,64.78 139.5,65.36 139.6,66.02 139.7,66.69 139.8,66.99 139.9,67.64 140.0,67.73 140.1,68.26 140.2,68.92 140.3,69.12 140.4,69.47 140.5,69.98 140.6,69.83 140.7,70.07 140.8,70.30 140.9,70.74 141.0,70.68 141.1,71.07 141.2,71.05 141.3,71.06 141.4,71.49 141.6,71.88 141.7,71.83 141.8,71.79 141.9,71.80 142.0,72.30 142.1,72.24 142.2,72.27 142.3,72.32 142.4,72.33 142.5,72.71 142.6,72.70 142.7,72.53 142.8,72.70 142.9,72.75 143.0,72.69 143.1,72.90 143.2,72.86 143.3,73.00 143.4,73.13 143.5,73.02 143.6,72.58 143.7,72.28 143.8,71.78 143.9,70.76 144.0,69.70 144.1,67.79 144.2,65.52 144.3,62.79 144.4,59.66 144.5,55.38 144.6,52.05 144.7,49.84 144.8,49.85 144.9,51.79 145.0,53.79 145.1,55.37 145.2,57.18 145.4,58.41 145.5,59.73 145.6,60.92 145.7,61.99 145.8,62.89 145.9,63.65 146.0,64.69 146.1,65.41 146.2,65.98 146.3,66.64 146.4,67.12 146.5,67.58 146.6,67.95 146.7,68.62 146.8,69.37 146.9,69.37 147.0,69.64 147.1,70.04 147.2,70.32 147.3,70.96 147.4,70.71 147.5,71.08 147.6,71.48 147.7,71.57 147.8,71.75 147.9,71.68 148.0,71.84 148.1,71.83 148.2,72.11 148.3,72.57 148.4,72.70 148.5,72.39 148.6,72.43 148.7,72.83 148.8,72.79 148.9,73.22 149.0,73.38 149.2,73.33 149.3,73.27 149.4,73.37 149.5,73.39 149.6,73.50 149.7,73.37 149.8,73.30 149.9,73.58 150.0,73.30 150.1,73.78 150.2,73.79 150.3,73.64 150.4,73.74 150.5,73.41 150.6,73.56 150.7,72.98 150.8,72.76 150.9,71.74 151.0,71.34 151.1,70.05 151.2,68.34 151.3,66.63 151.4,63.66 151.5,60.87 151.6,58.05 151.7,55.75 151.8,54.14 151.9,55.18 152.0,56.67 152.1,58.05 152.2,59.79 152.3,61.02 152.4,61.99 152.5,63.28 152.6,63.97 152.7,64.57 152.8,65.21 153.0,66.13 153.1,66.55 153.2,67.35 153.3,67.93 153.4,68.48 153.5,68.88 153.6,69.38 153.7,69.74 153.8,70.19 153.9,70.36 154.0,70.71 154.1,71.24 154.2,71.29 154.3,71.63 154.4,72.05 154.5,71.84 154.6,71.85 154.7,71.90 154.8,72.20 154.9,72.76 155.0,72.56 155.1,72.71 155.2,73.35 155.3,73.00 155.4,73.15 155.5,73.33 155.6,73.41 155.7,73.54 155.8,73.36 155.9,73.78 156.0,73.83 156.1,73.87 156.2,73.90 156.3,74.30 156.4,73.84 156.5,74.10 156.6,74.10 156.8,74.21 156.9,74.33 157.0,74.41 157.1,74.38 157.2,74.41 157.3,74.29 157.4,74.45 157.5,74.55 157.6,74.21 157.7,74.73 157.8,74.69 157.9,74.31 158.0,74.23 158.1,74.21 158.2,73.54 158.3,72.99 158.4,71.83 158.5,70.99 158.6,69.28 158.7,67.62 158.8,65.71 158.9,63.51 159.0,61.33 159.1,60.05 159.2,59.12 159.3,60.51 159.4,61.32 159.5,62.80 159.6,63.47 159.7,64.97 159.8,65.24 159.9,66.09 160.0,66.87 160.1,67.48 160.2,68.09 160.3,68.52 160.4,69.10 160.6,69.84 160.7,69.99 160.8,69.98 160.9,70.70 161.0,70.99 161.1,71.41 161.2,71.59 161.3,71.85 161.4,72.17 161.5,72.21 161.6,72.71 161.7,72.77 161.8,72.85 161.9,73.15 162.0,73.46 162.1,73.31 162.2,73.70 162.3,73.74 162.4,73.93 162.5,73.92 162.6,74.08 162.7,74.18 162.8,74.09 162.9,73.99 163.0,74.43 163.1,74.36 163.2,74.58 163.3,74.58 163.4,74.47 163.5,74.71 163.6,74.92 163.7,74.96 163.8,75.00 163.9,74.95 164.0,74.85 164.1,75.27 164.2,75.26 164.4,75.29 164.5,75.46 164.6,74.99 164.7,75.26 164.8,74.97 164.9,75.55 165.0,75.13 165.1,75.48 165.2,75.44 165.3,75.54 165.4,75.51 165.5,75.51 165.6,75.16 165.7,75.25 165.8,74.83 165.9,74.43 166.0,73.82 166.1,73.24 166.2,72.34 166.3,71.23 166.4,70.04 166.5,68.54 166.6,67.25 166.7,65.77 166.8,64.18 166.9,64.31 167.0,65.30 167.1,65.77 167.2,66.77 167.3,67.53 167.4,68.30 167.5,68.51 167.6,69.36 167.7,69.76 167.8,70.02 167.9,70.52 168.0,70.95 168.2,71.33 168.3,71.44 168.4,71.56 168.5,72.31 168.6,72.39 168.7,72.41 168.8,72.77 168.9,73.28 169.0,73.43 169.1,73.64 169.2,73.86 169.3,73.97 169.4,73.97 169.5,74.25 169.6,74.13 169.7,74.38 169.8,74.57 169.9,74.47 170.0,74.66 170.1,74.76 170.2,74.72 170.3,74.88 170.4,75.07 170.5,74.96 170.6,75.14 170.7,74.77 170.8,75.13 170.9,75.18 171.0,75.21 171.1,75.46 171.2,75.31 171.3,75.57 171.4,75.76 171.5,75.75 171.6,75.61 171.7,76.00 171.8,75.74 172.0,75.93 172.1,75.73 172.2,76.00 172.3,75.60 172.4,75.81 172.5,76.18 172.6,75.70 172.7,76.06 172.8,76.17 172.9,76.24 173.0,75.99 173.1,75.85 173.2,76.20 173.3,76.26 173.4,76.26 173.5,75.78 173.6,75.68 173.7,75.90 173.8,75.58 173.9,75.42 174.0,75.09 174.1,74.47 174.2,73.98 174.3,73.29 174.4,72.55 174.5,71.41 174.6,70.58 174.7,69.52 174.8,68.62 174.9,68.33 175.0,68.67 175.1,69.24 175.2,69.69 175.3,70.38 175.4,70.84 175.5,70.79 175.6,71.25 175.8,71.64 175.9,71.82 176.0,72.35 176.1,72.72 176.2,72.89 176.3,73.52 176.4,73.62 176.5,73.52 176.6,73.83 176.7,74.23 176.8,74.08 176.9,74.18 177.0,74.38 177.1,74.63 177.2,74.89 177.3,74.85 177.4,74.91 177.5,75.14 177.6,75.08 177.7,75.21 177.8,75.30 177.9,75.77 178.0,75.33 178.1,75.29 178.2,75.71 178.3,75.95 178.4,75.65 178.5,75.89 178.6,76.03 178.7,75.71 178.8,76.19 178.9,75.88 179.0,76.25 179.1,75.84 179.2,76.04 179.3,76.20 179.4,76.17 179.6,76.13 179.7,76.12 179.8,76.14 179.9,76.22 180.0,76.42 180.1,76.25 180.2,76.60 180.3,76.24 180.4,76.29 180.5,76.22 180.6,76.57 180.7,76.46 180.8,76.37 180.9,76.48 181.0,76.62 181.1,76.51 181.2,76.56 181.3,76.42 181.4,76.70 181.5,76.54 181.6,76.55 181.7,76.46 181.8,76.57 181.9,76.50 182.0,76.46 182.1,76.34 182.2,76.20 182.3,76.06 182.4,75.27 182.5,75.53 182.6,75.15 182.7,74.56 182.8,73.93 182.9,73.12 183.0,72.16 183.1,71.39 183.2,71.00 183.4,71.04 183.5,70.82 183.6,71.51 183.7,71.75 183.8,72.21 183.9,72.28 184.0,72.76 184.1,72.81 184.2,73.12 184.3,73.48 184.4,73.65 184.5,73.73 184.6,74.14 184.7,74.10 184.8,74.43 184.9,74.54 185.0,74.60 185.1,74.65 185.2,74.91 185.3,75.11 185.4,75.11 185.5,75.59 185.6,75.16 185.7,75.74 185.8,75.46 185.9,75.78 186.0,75.68 186.1,75.85 186.2,75.85 186.3,76.10 186.4,76.38 186.5,76.01 186.6,76.23 186.7,76.28 186.8,76.34 186.9,75.94 187.0,76.40 187.2,76.29 187.3,76.57 187.4,76.16 187.5,76.54 187.6,76.91 187.7,76.06 187.8,76.72 187.9,76.35 188.0,76.47 188.1,76.51 188.2,76.68 188.3,76.63 188.4,76.48 188.5,76.75 188.6,76.68 188.7,76.58 188.8,76.74 188.9,76.84 189.0,76.55 189.1,76.75 189.2,76.84 189.3,76.96 189.4,77.01 189.5,76.71 189.6,76.72 189.7,77.25 189.8,77.00 189.9,76.75 190.0,76.51 190.1,76.56 190.2,76.77 190.3,76.70 190.4,77.00 190.5,76.77 190.6,77.08 190.7,76.93 190.8,76.72 191.0,76.32 191.1,76.44 191.2,76.35 191.3,76.21 191.4,76.13 191.5,75.48 191.6,75.24 191.7,74.68 191.8,74.35 191.9,73.65 192.0,73.39 192.1,72.59 192.2,72.12 192.3,72.30 192.4,72.40 192.5,72.98 192.6,73.21 192.7,73.46 192.8,73.92 192.9,73.62 193.0,74.02 193.1,74.41 193.2,74.69 193.3,74.60 193.4,74.71 193.5,74.97 193.6,75.09 193.7,75.28 193.8,75.36 193.9,75.25 194.0,75.33 194.1,75.91 194.2,75.73 194.3,76.03 194.4,76.13 194.5,75.89 194.6,76.19 194.8,76.64 194.9,76.07 195.0,76.02 195.1,75.95 195.2,76.40 195.3,76.14 195.4,76.86 195.5,76.64 195.6,76.42 195.7,76.47 195.8,76.36 195.9,76.45 196.0,76.66 196.1,76.42 196.2,76.59 196.3,76.45 196.4,76.89 196.5,76.73 196.6,76.87 196.7,76.69 196.8,76.88 196.9,76.91 197.0,77.10 197.1,76.85 197.2,76.73 197.3,76.77 197.4,77.45 197.5,77.24 197.6,76.65 197.7,77.03 197.8,77.03 197.9,76.83 198.0,77.00 198.1,77.15 198.2,77.09 198.3,76.75 198.4,77.31 198.5,76.87 198.7,77.15 198.8,77.15 198.9,76.81 199.0,77.23 199.1,76.99 199.2,77.20 199.3,77.38 199.4,77.17 199.5,76.95 199.6,77.17 199.7,77.04 199.8,77.09 199.9,77.09 200.0,77.13 200.1,76.99 200.2,77.27 200.3,76.91 200.4,77.01 200.5,76.50 200.6,76.28 200.7,76.22 200.8,75.66 200.9,75.38 201.0,75.01 201.1,74.72 201.2,74.17 201.3,73.70 201.4,73.68 201.5,73.58 201.6,73.49 201.7,74.29 201.8,74.55 201.9,74.61 202.0,74.46 202.1,74.63 202.2,74.73 202.3,74.95 202.5,74.85 202.6,74.97 202.7,75.16 202.8,75.66 202.9,75.52 203.0,75.82 203.1,75.85 203.2,76.03 203.3,75.94 203.4,75.93 203.5,76.08 203.6,76.36 203.7,76.48 203.8,76.41 203.9,76.47 204.0,76.27 204.1,76.50 204.2,76.53 204.3,76.57 204.4,76.41 204.5,76.36 204.6,76.59 204.7,76.74 204.8,76.50 204.9,76.69 205.0,76.87 205.1,76.66 205.2,76.82 205.3,77.12 205.4,76.80 205.5,76.88 205.6,77.26 205.7,77.33 205.8,76.97 205.9,76.90 206.0,76.93 206.1,77.27 206.3,77.12 206.4,76.97 206.5,77.35 206.6,77.09 206.7,77.09 206.8,76.98 206.9,77.56 207.0,77.14 207.1,76.84 207.2,77.29 207.3,77.25 207.4,77.05 207.5,77.34 207.6,77.03 207.7,77.14 207.8,77.50 207.9,77.23 208.0,77.50 208.1,77.11 208.2,77.55 208.3,77.58 208.4,77.48 208.5,77.43 208.6,77.08 208.7,77.31 208.8,77.26 208.9,77.14 209.0,77.44 209.1,77.42 209.2,77.46 209.3,77.18 209.4,77.03 209.5,77.25 209.6,77.37 209.7,77.32 209.8,77.37 209.9,77.00 210.1,77.22 210.2,76.98 210.3,77.00 210.4,76.95 210.5,76.86 210.6,76.36 210.7,75.91 210.8,75.72 210.9,75.40 211.0,75.24 211.1,74.94 211.2,74.74 211.3,74.41 211.4,74.28 211.5,74.80 211.6,75.16 211.7,74.87 211.8,75.38 211.9,75.25 212.0,75.54 212.1,75.56 212.2,75.11 212.3,75.91 212.4,75.97 212.5,75.90 212.6,76.05 212.7,76.19 212.8,76.31 212.9,76.17 213.0,76.15 213.1,76.55 213.2,76.64 213.3,76.20 213.4,76.79 213.5,76.49 213.6,76.58 213.7,76.88 213.9,76.61 214.0,76.96 214.1,76.99 214.2,77.08 214.3,76.74 214.4,76.98 214.5,76.76 214.6,77.10 214.7,76.89 214.8,76.79 214.9,77.06 215.0,77.25 215.1,77.14 215.2,76.90 215.3,77.00 215.4,77.21 215.5,77.45 215.6,77.06 215.7,76.93 215.8,76.94 215.9,77.15 216.0,77.27 216.1,77.38 216.2,77.36 216.3,77.55 216.4,76.94 216.5,77.31 216.6,76.92 216.7,77.34 216.8,77.60 216.9,77.03 217.0,77.49 217.1,77.43 217.2,77.10 217.3,77.14 217.4,77.72 217.5,77.39 217.7,77.58 217.8,77.32 217.9,77.11 218.0,77.51 218.1,77.18 218.2,77.59 218.3,77.08 218.4,77.58 218.5,77.53 218.6,77.41 218.7,77.69 218.8,77.21 218.9,77.65 219.0,77.37 219.1,77.69 219.2,77.46 219.3,77.48 219.4,77.54 219.5,77.40 219.6,77.66 219.7,77.21 219.8,77.41 219.9,77.89 220.0,77.07 220.1,77.29 220.2,77.05 220.3,77.27 220.4,77.54 220.5,77.13 220.6,77.14 220.7,76.80 220.8,76.71 220.9,76.41 221.0,76.54 221.1,76.03 221.2,75.91 221.3,75.54 221.5,75.77 221.6,75.47 221.7,75.23 221.8,75.81 221.9,75.60 222.0,75.60 222.1,75.92 222.2,75.85 222.3,75.92 222.4,75.91 222.5,76.31 222.6,76.34 222.7,76.26 222.8,76.58 222.9,76.50 223.0,76.69 223.1,77.01 223.2,76.62 223.3,76.44 223.4,76.83 223.5,76.79 223.6,76.92 223.7,77.01 223.8,76.90 223.9,76.78 224.0,76.62 224.1,76.88 224.2,77.21 224.3,77.31 224.4,76.89 224.5,77.08 224.6,77.25 224.7,77.35 224.8,77.33 224.9,77.01 225.0,77.24 225.1,77.49 225.3,77.13 225.4,77.24 225.5,77.35 225.6,77.22 225.7,77.47 225.8,77.19 225.9,77.59 226.0,77.52 226.1,77.61 226.2,77.46 226.3,77.53 226.4,77.48 226.5,77.42 226.6,77.34 226.7,77.42 226.8,77.41 226.9,77.20 227.0,77.51 227.1,77.72 227.2,77.33 227.3,77.19 227.4,77.47 227.5,77.37 227.6,77.62 227.7,77.49 227.8,77.42 227.9,77.47 228.0,77.63 228.1,77.27 228.2,77.52 228.3,77.40 228.4,77.49 228.5,77.42 228.6,77.41 228.7,77.61 228.8,77.44 228.9,77.22 229.1,77.25 229.2,77.46 229.3,77.31 229.4,77.81 229.5,77.35 229.6,77.59 229.7,77.90 229.8,77.58 229.9,77.44 230.0,77.72 230.1,77.29 230.2,77.38 230.3,77.81 230.4,77.43 230.5,77.57 230.6,77.67 230.7,77.61 230.8,77.61 230.9,77.71 231.0,77.55 231.1,77.31 231.2,77.13 231.3,77.05 231.4,77.30 231.5,77.13 231.6,77.14 231.7,76.70 231.8,77.00 231.9,76.81 232.0,76.54 232.1,76.26 232.2,76.23 232.3,76.08 232.4,76.09 232.5,76.14 232.6,76.43 232.7,76.39 232.9,76.30 233.0,76.42 233.1,76.34 233.2,76.71 233.3,76.49 233.4,76.45 233.5,76.77 233.6,76.75 233.7,76.80 233.8,76.79 233.9,76.85 234.0,76.71 234.1,76.91 234.2,76.88 234.3,77.00 234.4,77.26 234.5,77.05 234.6,77.18 234.7,77.28 234.8,77.35 234.9,77.23 235.0,77.34 235.1,76.93 235.2,77.02 235.3,77.35 235.4,77.21 235.5,77.15 235.6,77.39 235.7,77.07 235.8,77.24 235.9,77.42 236.0,77.72 236.1,77.59 236.2,77.39 236.3,77.53 236.4,77.47 236.5,77.61 236.7,77.45 236.8,77.57 236.9,77.76 237.0,77.57 237.1,77.62 237.2,77.79 237.3,77.31 237.4,77.56 237.5,77.61 237.6,77.44 237.7,77.58 237.8,77.45 237.9,77.83 238.0,77.76 238.1,77.51 238.2,77.35 238.3,77.60 238.4,77.58 238.5,77.75 238.6,77.63 238.7,77.74 238.8,77.66 238.9,77.52 239.0,77.97 239.1,77.61 239.2,77.78 239.3,77.76 239.4,77.47 239.5,77.61 239.6,77.51 239.7,77.96 239.8,77.74 239.9,77.75 240.0,77.77 240.1,77.61 240.2,77.53 240.3,77.87 240.5,77.85 240.6,77.90 240.7,77.50 240.8,77.78 240.9,77.71 241.0,77.75 241.1,77.86 241.2,77.64 241.3,77.64 241.4,77.54 241.5,77.74 241.6,77.75 241.7,77.79 241.8,77.44 241.9,77.52 242.0,77.68 242.1,77.55 242.2,77.74 242.3,77.28 242.4,77.69 242.5,77.62 242.6,77.57 242.7,77.18 242.8,77.37 242.9,77.15 243.0,77.27 243.1,77.36 243.2,76.93 243.3,77.07 243.4,77.08 243.5,76.83 243.6,76.57 243.7,76.31 243.8,76.80 243.9,76.99 244.0,76.53 244.1,76.68 244.3,76.88 244.4,76.76 244.5,76.75 244.6,76.60 244.7,76.98 244.8,76.78 244.9,77.11 245.0,77.15 245.1,77.03 245.2,77.31 245.3,77.38 245.4,77.03 245.5,77.54 245.6,77.22 245.7,77.32 245.8,77.35 245.9,77.53 246.0,77.67 246.1,77.46 246.2,77.56 246.3,77.46 246.4,77.39 246.5,77.54 246.6,77.61 246.7,77.40 246.8,77.59 246.9,77.64 247.0,77.54 247.1,77.45 247.2,77.16 247.3,77.26 247.4,77.74 247.5,77.77 247.6,77.54 247.7,77.47 247.8,77.60 247.9,77.22 248.1,77.40 248.2,77.33 248.3,77.68 248.4,77.76 248.5,77.80 248.6,77.65 248.7,77.84 248.8,77.74 248.9,77.72 249.0,77.49 249.1,77.73 249.2,77.89 249.3,77.74 249.4,77.64 249.5,77.58 249.6,77.83 249.7,77.58 249.8,77.46 249.9,77.61 250.0,77.66 250.1,77.77 250.2,77.80 250.3,78.04 250.4,77.61 250.5,77.77 250.6,77.69 250.7,77.64 250.8,77.85 250.9,77.56 251.0,77.71 251.1,77.48 251.2,77.70 251.3,77.68 251.4,77.78 251.5,77.49 251.6,78.09 251.7,77.83 251.9,77.80 252.0,78.00" fill="none" stroke="#0a0a0a" stroke-width="0.85" stroke-linejoin="round"/>
<text transform="translate(89.62 65.42) rotate(-90)" font-size="4.8" fill="#333" stroke="#333" stroke-width="0.16">2601.7309</text>
<text transform="translate(104.47 61.14) rotate(-90)" font-size="4.8" fill="#333" stroke="#333" stroke-width="0.16">2746.3647</text>
<text transform="translate(115.32 53.82) rotate(-90)" font-size="4.8" fill="#333" stroke="#333" stroke-width="0.16">2852.6010</text>
<text transform="translate(127.04 45.08) rotate(-90)" font-size="4.8" fill="#333" stroke="#333" stroke-width="0.16">2967.3198</text>
<text transform="translate(133.26 44.28) rotate(-90)" font-size="4.8" fill="#333" stroke="#333" stroke-width="0.16">3028.1380</text>
<text transform="translate(139.74 44.14) rotate(-90)" font-size="4.8" fill="#333" stroke="#333" stroke-width="0.16">3091.6943</text>
<text transform="translate(146.49 48.17) rotate(-90)" font-size="4.8" fill="#333" stroke="#333" stroke-width="0.16">3158.0213</text>
<text transform="translate(153.54 53.19) rotate(-90)" font-size="4.8" fill="#333" stroke="#333" stroke-width="0.16">3227.4422</text>
<text transform="translate(160.90 58.23) rotate(-90)" font-size="4.8" fill="#333" stroke="#333" stroke-width="0.16">3299.1846</text>
<text transform="translate(168.59 63.28) rotate(-90)" font-size="4.8" fill="#333" stroke="#333" stroke-width="0.16">3374.6036</text>
<text transform="translate(176.65 67.22) rotate(-90)" font-size="4.8" fill="#333" stroke="#333" stroke-width="0.16">3453.7063</text>
<text x="4.00" y="119.90" font-size="13.0" fill="#000" stroke="#000" stroke-width="0.3">B1</text>
<text x="41.70" y="183.45" font-size="4.8" text-anchor="end" fill="#262626" stroke="#262626" stroke-width="0.16">0</text>
<text x="41.70" y="173.70" font-size="4.8" text-anchor="end" fill="#262626" stroke="#262626" stroke-width="0.16">1</text>
<text x="41.70" y="163.95" font-size="4.8" text-anchor="end" fill="#262626" stroke="#262626" stroke-width="0.16">2</text>
<text x="41.70" y="154.20" font-size="4.8" text-anchor="end" fill="#262626" stroke="#262626" stroke-width="0.16">3</text>
<text x="41.70" y="144.45" font-size="4.8" text-anchor="end" fill="#262626" stroke="#262626" stroke-width="0.16">4</text>
<text x="41.70" y="134.70" font-size="4.8" text-anchor="end" fill="#262626" stroke="#262626" stroke-width="0.16">5</text>
<text x="41.70" y="124.95" font-size="4.8" text-anchor="end" fill="#262626" stroke="#262626" stroke-width="0.16">6</text>
<text x="37.90" y="117.50" font-size="4.6" text-anchor="end" fill="#262626" stroke="#262626" stroke-width="0.16">x10</text>
<text x="39.50" y="116.20" font-size="3.8" fill="#262626" stroke="#262626" stroke-width="0.16">3</text>
<text x="67.00" y="190.00" font-size="5.1" text-anchor="middle" fill="#262626" stroke="#262626" stroke-width="0.16">2400</text>
<text x="87.54" y="190.00" font-size="5.1" text-anchor="middle" fill="#262626" stroke="#262626" stroke-width="0.16">2600</text>
<text x="108.08" y="190.00" font-size="5.1" text-anchor="middle" fill="#262626" stroke="#262626" stroke-width="0.16">2800</text>
<text x="128.62" y="190.00" font-size="5.1" text-anchor="middle" fill="#262626" stroke="#262626" stroke-width="0.16">3000</text>
<text x="149.16" y="190.00" font-size="5.1" text-anchor="middle" fill="#262626" stroke="#262626" stroke-width="0.16">3200</text>
<text x="169.70" y="190.00" font-size="5.1" text-anchor="middle" fill="#262626" stroke="#262626" stroke-width="0.16">3400</text>
<text x="190.24" y="190.00" font-size="5.1" text-anchor="middle" fill="#262626" stroke="#262626" stroke-width="0.16">3600</text>
<text x="210.78" y="190.00" font-size="5.1" text-anchor="middle" fill="#262626" stroke="#262626" stroke-width="0.16">3800</text>
<text x="231.32" y="190.00" font-size="5.1" text-anchor="middle" fill="#262626" stroke="#262626" stroke-width="0.16">4000</text>
<text x="148.50" y="195.10" font-size="4.95" text-anchor="middle" fill="#262626" stroke="#262626" stroke-width="0.16">Counts vs. Mass-to-Charge (m/z)</text>
<polyline points="44.5,179.75 44.6,180.29 44.7,180.45 44.8,180.69 44.9,180.46 45.0,181.11 45.1,180.47 45.2,180.97 45.3,180.83 45.4,180.96 45.5,180.70 45.6,181.34 45.7,181.06 45.8,181.09 45.9,180.83 46.0,181.24 46.1,181.09 46.2,181.22 46.3,181.07 46.5,180.98 46.6,181.28 46.7,180.89 46.8,180.94 46.9,181.01 47.0,180.95 47.1,181.22 47.2,181.12 47.3,181.25 47.4,181.09 47.5,180.84 47.6,180.85 47.7,180.48 47.8,180.17 47.9,180.08 48.0,180.27 48.1,180.33 48.2,180.66 48.3,180.53 48.4,180.37 48.5,180.61 48.6,180.83 48.7,181.00 48.8,181.02 48.9,180.62 49.0,180.94 49.1,181.08 49.2,180.95 49.3,180.64 49.4,181.00 49.5,180.92 49.6,180.99 49.7,181.11 49.8,181.25 49.9,181.12 50.0,181.10 50.1,180.97 50.3,180.93 50.4,180.91 50.5,181.03 50.6,180.92 50.7,181.20 50.8,180.81 50.9,180.86 51.0,180.83 51.1,180.41 51.2,180.12 51.3,179.56 51.4,179.63 51.5,179.73 51.6,180.53 51.7,180.67 51.8,180.62 51.9,180.59 52.0,180.54 52.1,180.70 52.2,181.16 52.3,180.90 52.4,180.73 52.5,180.86 52.6,180.80 52.7,180.99 52.8,181.00 52.9,180.95 53.0,180.92 53.1,180.97 53.2,180.99 53.3,181.14 53.4,180.96 53.5,181.01 53.6,180.84 53.7,180.83 53.8,181.01 53.9,181.11 54.1,181.16 54.2,180.96 54.3,181.00 54.4,181.00 54.5,180.79 54.6,180.65 54.7,180.03 54.8,179.79 54.9,179.31 55.0,179.72 55.1,179.90 55.2,180.37 55.3,180.29 55.4,180.31 55.5,180.70 55.6,180.66 55.7,180.67 55.8,180.97 55.9,180.72 56.0,180.66 56.1,180.99 56.2,180.81 56.3,181.12 56.4,180.92 56.5,181.21 56.6,180.74 56.7,180.88 56.8,180.96 56.9,181.11 57.0,180.75 57.1,180.64 57.2,181.32 57.3,180.78 57.4,180.71 57.5,180.94 57.6,181.21 57.7,180.85 57.9,181.01 58.0,181.03 58.1,181.03 58.2,180.50 58.3,180.09 58.4,179.86 58.5,179.20 58.6,179.55 58.7,179.48 58.8,179.84 58.9,180.07 59.0,180.21 59.1,180.16 59.2,180.29 59.3,180.41 59.4,180.55 59.5,180.62 59.6,180.57 59.7,180.68 59.8,180.64 59.9,180.84 60.0,181.24 60.1,180.65 60.2,180.47 60.3,180.79 60.4,180.90 60.5,180.92 60.6,180.93 60.7,180.91 60.8,181.12 60.9,181.02 61.0,181.11 61.1,180.90 61.2,181.00 61.3,180.86 61.4,180.97 61.5,180.76 61.7,180.86 61.8,180.43 61.9,180.98 62.0,180.46 62.1,179.72 62.2,178.87 62.3,178.89 62.4,179.06 62.5,179.41 62.6,179.39 62.7,179.88 62.8,179.88 62.9,180.20 63.0,180.48 63.1,180.30 63.2,180.35 63.3,180.28 63.4,180.58 63.5,180.72 63.6,180.55 63.7,180.64 63.8,180.67 63.9,180.75 64.0,180.56 64.1,180.72 64.2,180.46 64.3,180.62 64.4,180.71 64.5,181.12 64.6,180.74 64.7,180.78 64.8,180.72 64.9,180.68 65.0,180.94 65.1,180.73 65.2,180.97 65.3,180.53 65.5,181.08 65.6,181.11 65.7,180.97 65.8,180.62 65.9,180.28 66.0,179.19 66.1,178.94 66.2,178.60 66.3,178.46 66.4,179.10 66.5,179.50 66.6,179.37 66.7,179.61 66.8,179.96 66.9,179.78 67.0,180.12 67.1,179.96 67.2,180.23 67.3,180.12 67.4,180.43 67.5,180.71 67.6,180.11 67.7,180.68 67.8,180.65 67.9,180.76 68.0,180.70 68.1,180.64 68.2,180.66 68.3,180.60 68.4,180.41 68.5,180.76 68.6,180.96 68.7,180.96 68.8,180.88 68.9,181.06 69.0,180.63 69.1,180.87 69.3,180.84 69.4,180.77 69.5,180.99 69.6,180.84 69.7,180.44 69.8,180.19 69.9,179.95 70.0,178.93 70.1,178.71 70.2,177.88 70.3,178.02 70.4,178.90 70.5,178.42 70.6,178.99 70.7,179.48 70.8,179.15 70.9,179.58 71.0,179.75 71.1,180.06 71.2,180.04 71.3,180.41 71.4,180.08 71.5,180.35 71.6,180.31 71.7,180.17 71.8,180.38 71.9,180.41 72.0,180.44 72.1,180.64 72.2,180.39 72.3,180.29 72.4,180.44 72.5,180.44 72.6,180.76 72.7,180.77 72.8,180.88 72.9,180.42 73.1,180.69 73.2,180.40 73.3,180.79 73.4,180.73 73.5,180.63 73.6,180.46 73.7,180.55 73.8,180.40 73.9,180.18 74.0,179.72 74.1,179.29 74.2,178.21 74.3,177.34 74.4,176.87 74.5,177.33 74.6,178.00 74.7,178.29 74.8,178.66 74.9,178.81 75.0,178.99 75.1,179.49 75.2,179.39 75.3,179.28 75.4,180.02 75.5,180.01 75.6,180.11 75.7,180.08 75.8,179.82 75.9,180.15 76.0,180.33 76.1,180.14 76.2,180.39 76.3,180.12 76.4,180.29 76.5,180.13 76.6,180.51 76.7,179.88 76.9,180.28 77.0,180.33 77.1,180.47 77.2,180.60 77.3,180.63 77.4,180.51 77.5,180.63 77.6,180.45 77.7,180.64 77.8,180.37 77.9,180.27 78.0,180.46 78.1,179.94 78.2,179.84 78.3,179.02 78.4,178.31 78.5,177.13 78.6,176.46 78.7,175.98 78.8,176.35 78.9,177.25 79.0,177.95 79.1,178.32 79.2,178.75 79.3,178.96 79.4,178.90 79.5,178.80 79.6,179.27 79.7,179.29 79.8,179.49 79.9,179.57 80.0,179.70 80.1,179.78 80.2,179.73 80.3,180.08 80.4,179.75 80.5,179.81 80.7,180.04 80.8,179.90 80.9,180.19 81.0,180.18 81.1,180.08 81.2,180.16 81.3,180.22 81.4,180.27 81.5,180.27 81.6,180.01 81.7,180.53 81.8,180.13 81.9,180.24 82.0,180.07 82.1,180.09 82.2,180.65 82.3,179.99 82.4,179.91 82.5,179.70 82.6,179.32 82.7,178.32 82.8,177.41 82.9,175.55 83.0,174.21 83.1,172.86 83.2,174.19 83.3,175.18 83.4,175.44 83.5,176.01 83.6,176.66 83.7,177.37 83.8,177.54 83.9,177.67 84.0,178.09 84.1,178.31 84.2,178.52 84.3,178.83 84.5,178.90 84.6,179.19 84.7,178.74 84.8,179.23 84.9,179.15 85.0,179.49 85.1,179.23 85.2,179.75 85.3,179.31 85.4,179.52 85.5,179.18 85.6,179.82 85.7,179.60 85.8,179.58 85.9,179.45 86.0,179.76 86.1,179.69 86.2,180.10 86.3,179.88 86.4,179.66 86.5,179.56 86.6,179.80 86.7,179.37 86.8,179.38 86.9,179.59 87.0,179.78 87.1,179.25 87.2,178.37 87.3,176.92 87.4,175.48 87.5,173.96 87.6,171.68 87.7,170.31 87.8,171.87 87.9,172.96 88.0,173.35 88.1,174.46 88.3,175.21 88.4,175.63 88.5,176.17 88.6,176.66 88.7,176.74 88.8,177.06 88.9,177.38 89.0,177.78 89.1,177.77 89.2,178.16 89.3,178.22 89.4,178.26 89.5,178.42 89.6,178.35 89.7,178.68 89.8,179.13 89.9,179.11 90.0,178.74 90.1,179.09 90.2,179.01 90.3,179.28 90.4,178.99 90.5,179.27 90.6,178.98 90.7,179.36 90.8,179.09 90.9,179.19 91.0,179.46 91.1,179.16 91.2,179.52 91.3,179.51 91.4,179.23 91.5,179.42 91.6,179.30 91.7,179.03 91.8,178.73 91.9,177.65 92.1,176.58 92.2,175.05 92.3,172.95 92.4,170.53 92.5,168.44 92.6,169.14 92.7,170.65 92.8,171.52 92.9,172.62 93.0,173.45 93.1,173.80 93.2,174.81 93.3,175.35 93.4,176.07 93.5,176.37 93.6,176.39 93.7,176.90 93.8,176.95 93.9,177.46 94.0,177.60 94.1,177.53 94.2,177.54 94.3,177.83 94.4,177.84 94.5,177.86 94.6,178.07 94.7,178.50 94.8,178.43 94.9,178.36 95.0,178.60 95.1,178.50 95.2,178.90 95.3,178.81 95.4,178.61 95.5,179.13 95.6,178.96 95.7,178.79 95.8,179.11 96.0,178.82 96.1,178.99 96.2,178.91 96.3,178.90 96.4,178.79 96.5,178.84 96.6,178.57 96.7,178.37 96.8,177.59 96.9,176.43 97.0,175.21 97.1,173.10 97.2,170.65 97.3,167.37 97.4,165.12 97.5,165.37 97.6,166.78 97.7,168.28 97.8,169.37 97.9,170.39 98.0,171.68 98.1,172.38 98.2,172.81 98.3,173.57 98.4,174.16 98.5,174.53 98.6,175.29 98.7,175.43 98.8,175.62 98.9,175.87 99.0,176.54 99.1,176.67 99.2,176.75 99.3,177.04 99.4,177.21 99.5,177.16 99.6,177.46 99.8,177.83 99.9,177.55 100.0,177.77 100.1,177.90 100.2,178.12 100.3,177.73 100.4,178.36 100.5,178.32 100.6,178.11 100.7,177.89 100.8,177.92 100.9,178.38 101.0,178.24 101.1,178.50 101.2,178.08 101.3,178.52 101.4,178.28 101.5,178.03 101.6,178.13 101.7,177.59 101.8,177.55 101.9,176.56 102.0,175.22 102.1,173.53 102.2,170.71 102.3,167.70 102.4,164.74 102.5,161.07 102.6,162.27 102.7,164.22 102.8,166.11 102.9,167.27 103.0,168.61 103.1,169.50 103.2,170.50 103.3,171.07 103.4,172.10 103.6,172.68 103.7,173.27 103.8,173.86 103.9,174.30 104.0,174.46 104.1,174.86 104.2,175.41 104.3,175.76 104.4,175.82 104.5,175.81 104.6,176.21 104.7,176.07 104.8,176.66 104.9,176.63 105.0,177.22 105.1,176.99 105.2,177.03 105.3,176.98 105.4,176.85 105.5,177.21 105.6,177.03 105.7,177.22 105.8,177.22 105.9,177.52 106.0,177.24 106.1,177.71 106.2,177.47 106.3,177.75 106.4,177.70 106.5,177.88 106.6,177.71 106.7,177.51 106.8,177.49 106.9,177.50 107.0,176.60 107.1,176.10 107.2,174.84 107.4,173.12 107.5,170.86 107.6,167.80 107.7,163.75 107.8,159.49 107.9,157.12 108.0,158.38 108.1,160.77 108.2,162.48 108.3,164.52 108.4,165.45 108.5,166.94 108.6,167.90 108.7,169.02 108.8,169.79 108.9,170.72 109.0,171.25 109.1,172.25 109.2,172.71 109.3,172.87 109.4,173.43 109.5,173.84 109.6,174.16 109.7,174.34 109.8,174.80 109.9,174.84 110.0,175.31 110.1,175.41 110.2,175.34 110.3,175.47 110.4,175.99 110.5,175.78 110.6,176.22 110.7,176.01 110.8,176.57 110.9,176.51 111.0,176.48 111.2,176.49 111.3,176.28 111.4,176.42 111.5,176.36 111.6,176.47 111.7,176.77 111.8,176.81 111.9,176.60 112.0,176.80 112.1,176.84 112.2,177.02 112.3,176.72 112.4,177.00 112.5,176.23 112.6,175.69 112.7,174.35 112.8,172.92 112.9,170.50 113.0,166.92 113.1,163.23 113.2,158.38 113.3,154.41 113.4,151.46 113.5,154.06 113.6,156.42 113.7,158.89 113.8,160.58 113.9,162.26 114.0,163.81 114.1,165.10 114.2,166.21 114.3,167.26 114.4,168.42 114.5,169.27 114.6,169.35 114.7,170.10 114.8,171.25 115.0,171.44 115.1,171.87 115.2,172.26 115.3,172.73 115.4,173.25 115.5,173.41 115.6,173.73 115.7,173.86 115.8,174.14 115.9,174.31 116.0,174.29 116.1,174.41 116.2,174.98 116.3,174.98 116.4,175.16 116.5,174.91 116.6,175.23 116.7,175.06 116.8,175.48 116.9,175.47 117.0,175.78 117.1,175.37 117.2,175.73 117.3,175.97 117.4,175.87 117.5,176.21 117.6,175.84 117.7,175.83 117.8,175.78 117.9,175.50 118.0,175.67 118.1,175.17 118.2,174.72 118.3,173.89 118.4,172.76 118.5,170.04 118.6,167.18 118.8,162.98 118.9,158.22 119.0,152.52 119.1,147.62 119.2,145.29 119.3,148.52 119.4,151.14 119.5,153.68 119.6,155.96 119.7,157.49 119.8,159.95 119.9,161.49 120.0,163.00 120.1,164.00 120.2,165.32 120.3,166.67 120.4,167.30 120.5,167.88 120.6,168.43 120.7,169.52 120.8,169.94 120.9,170.37 121.0,170.95 121.1,171.15 121.2,171.62 121.3,171.91 121.4,172.41 121.5,172.30 121.6,172.82 121.7,172.83 121.8,173.35 121.9,173.37 122.0,173.77 122.1,173.98 122.2,174.09 122.3,174.11 122.4,174.27 122.6,174.08 122.7,174.66 122.8,174.75 122.9,174.35 123.0,174.63 123.1,175.15 123.2,174.80 123.3,174.92 123.4,175.40 123.5,175.14 123.6,175.12 123.7,175.00 123.8,174.95 123.9,175.02 124.0,174.67 124.1,174.52 124.2,174.02 124.3,173.00 124.4,171.13 124.5,169.20 124.6,165.44 124.7,161.45 124.8,156.15 124.9,150.37 125.0,145.04 125.1,142.44 125.2,145.31 125.3,148.17 125.4,150.97 125.5,153.12 125.6,155.78 125.7,157.27 125.8,158.98 125.9,160.58 126.0,161.78 126.1,163.43 126.2,164.13 126.4,165.45 126.5,166.10 126.6,167.09 126.7,167.62 126.8,168.29 126.9,169.28 127.0,169.59 127.1,170.07 127.2,170.54 127.3,171.03 127.4,170.94 127.5,171.56 127.6,171.63 127.7,172.28 127.8,172.62 127.9,172.65 128.0,172.98 128.1,172.66 128.2,173.22 128.3,173.23 128.4,173.63 128.5,173.79 128.6,173.87 128.7,173.93 128.8,173.96 128.9,174.24 129.0,174.43 129.1,174.60 129.2,174.51 129.3,174.48 129.4,174.57 129.5,174.73 129.6,174.89 129.7,174.81 129.8,174.76 129.9,174.85 130.0,174.76 130.2,174.64 130.3,174.13 130.4,173.80 130.5,172.75 130.6,171.27 130.7,169.09 130.8,165.99 130.9,162.23 131.0,157.46 131.1,152.41 131.2,146.64 131.3,142.04 131.4,142.82 131.5,145.98 131.6,148.65 131.7,150.95 131.8,153.30 131.9,155.52 132.0,157.27 132.1,158.73 132.2,160.28 132.3,161.31 132.4,162.77 132.5,163.98 132.6,164.92 132.7,165.98 132.8,166.90 132.9,167.44 133.0,168.05 133.1,168.98 133.2,169.38 133.3,169.86 133.4,170.20 133.5,170.71 133.6,170.97 133.7,171.38 133.8,171.54 134.0,172.32 134.1,172.00 134.2,172.29 134.3,172.76 134.4,172.87 134.5,173.08 134.6,173.50 134.7,173.51 134.8,173.56 134.9,173.79 135.0,173.80 135.1,174.10 135.2,174.22 135.3,174.49 135.4,174.52 135.5,174.64 135.6,174.36 135.7,174.70 135.8,175.00 135.9,174.84 136.0,175.01 136.1,175.57 136.2,174.99 136.3,175.37 136.4,174.98 136.5,175.16 136.6,175.05 136.7,174.35 136.8,174.10 136.9,172.96 137.0,171.41 137.1,169.28 137.2,166.45 137.3,162.99 137.4,158.78 137.5,153.47 137.6,149.14 137.8,144.91 137.9,145.37 138.0,147.88 138.1,150.42 138.2,153.06 138.3,154.87 138.4,156.66 138.5,158.35 138.6,160.03 138.7,161.32 138.8,162.69 138.9,163.96 139.0,164.60 139.1,165.81 139.2,166.31 139.3,167.22 139.4,168.19 139.5,168.70 139.6,169.31 139.7,169.94 139.8,170.19 139.9,170.81 140.0,170.85 140.1,171.36 140.2,172.01 140.3,172.18 140.4,172.51 140.5,173.02 140.6,172.83 140.7,173.06 140.8,173.28 140.9,173.73 141.0,173.65 141.1,174.05 141.2,174.01 141.3,174.00 141.4,174.44 141.6,174.85 141.7,174.78 141.8,174.73 141.9,174.74 142.0,175.26 142.1,175.19 142.2,175.21 142.3,175.26 142.4,175.26 142.5,175.67 142.6,175.65 142.7,175.46 142.8,175.63 142.9,175.67 143.0,175.57 143.1,175.75 143.2,175.62 143.3,175.64 143.4,175.56 143.5,175.13 143.6,174.20 143.7,173.22 143.8,171.81 143.9,169.60 144.0,167.15 144.1,163.69 144.2,159.90 144.3,156.00 144.4,152.48 144.5,149.18 144.6,150.70 144.7,153.48 144.8,155.13 144.9,156.84 145.0,158.64 145.1,160.03 145.2,161.69 145.4,162.75 145.5,163.94 145.6,165.01 145.7,165.98 145.8,166.77 145.9,167.44 146.0,168.42 146.1,169.06 146.2,169.57 146.3,170.18 146.4,170.60 146.5,171.01 146.6,171.34 146.7,171.98 146.8,172.72 146.9,172.67 147.0,172.91 147.1,173.29 147.2,173.55 147.3,174.19 147.4,173.91 147.5,174.26 147.6,174.67 147.7,174.74 147.8,174.91 147.9,174.81 148.0,174.97 148.1,174.94 148.2,175.23 148.3,175.70 148.4,175.83 148.5,175.50 148.6,175.52 148.7,175.94 148.8,175.89 148.9,176.34 149.0,176.50 149.2,176.45 149.3,176.38 149.4,176.48 149.5,176.50 149.6,176.61 149.7,176.46 149.8,176.38 149.9,176.66 150.0,176.34 150.1,176.81 150.2,176.75 150.3,176.50 150.4,176.44 150.5,175.86 150.6,175.69 150.7,174.60 150.8,173.74 150.9,171.87 151.0,170.50 151.1,168.07 151.2,165.20 151.3,162.52 151.4,158.95 151.5,156.37 151.6,155.42 151.7,157.55 151.8,159.24 151.9,160.39 152.0,161.69 152.1,162.89 152.2,164.50 152.3,165.58 152.4,166.42 152.5,167.61 152.6,168.18 152.7,168.68 152.8,169.22 153.0,170.09 153.1,170.42 153.2,171.17 153.3,171.69 153.4,172.20 153.5,172.55 153.6,173.01 153.7,173.34 153.8,173.76 153.9,173.89 154.0,174.21 154.1,174.73 154.2,174.75 154.3,175.08 154.4,175.50 154.5,175.25 154.6,175.24 154.7,175.26 154.8,175.56 154.9,176.14 155.0,175.91 155.1,176.05 155.2,176.72 155.3,176.34 155.4,176.48 155.5,176.67 155.6,176.74 155.7,176.87 155.8,176.69 155.9,177.12 156.0,177.17 156.1,177.21 156.2,177.23 156.3,177.66 156.4,177.17 156.5,177.43 156.6,177.43 156.8,177.55 156.9,177.67 157.0,177.75 157.1,177.72 157.2,177.74 157.3,177.59 157.4,177.74 157.5,177.80 157.6,177.38 157.7,177.83 157.8,177.65 157.9,177.04 158.0,176.66 158.1,176.27 158.2,175.09 158.3,173.94 158.4,172.09 158.5,170.57 158.6,168.21 158.7,166.15 158.8,164.24 158.9,162.69 159.0,162.92 159.1,164.64 159.2,165.31 159.3,166.48 159.4,167.05 159.5,168.36 159.6,168.84 159.7,170.22 159.8,170.31 159.9,171.02 160.0,171.69 160.1,172.19 160.2,172.70 160.3,173.02 160.4,173.53 160.6,174.20 160.7,174.27 160.8,174.17 160.9,174.85 161.0,175.09 161.1,175.47 161.2,175.60 161.3,175.82 161.4,176.11 161.5,176.10 161.6,176.59 161.7,176.62 161.8,176.66 161.9,176.94 162.0,177.25 162.1,177.06 162.2,177.45 162.3,177.47 162.4,177.64 162.5,177.61 162.6,177.76 162.7,177.86 162.8,177.74 162.9,177.63 163.0,178.08 163.1,177.99 163.2,178.21 163.3,178.20 163.4,178.08 163.5,178.33 163.6,178.53 163.7,178.57 163.8,178.60 163.9,178.54 164.0,178.44 164.1,178.87 164.2,178.86 164.4,178.88 164.5,179.06 164.6,178.56 164.7,178.83 164.8,178.52 164.9,179.12 165.0,178.65 165.1,179.00 165.2,178.92 165.3,178.97 165.4,178.86 165.5,178.75 165.6,178.23 165.7,178.14 165.8,177.44 165.9,176.74 166.0,175.76 166.1,174.82 166.2,173.56 166.3,172.18 166.4,170.91 166.5,169.60 166.6,168.96 166.7,169.31 166.8,169.62 166.9,170.67 167.0,171.45 167.1,171.70 167.2,172.52 167.3,173.13 167.4,173.74 167.5,173.79 167.6,174.52 167.7,174.80 167.8,174.94 167.9,175.34 168.0,175.68 168.2,175.98 168.3,175.99 168.4,176.03 168.5,176.74 168.6,176.74 168.7,176.69 168.8,177.02 168.9,177.49 169.0,177.59 169.1,177.76 169.2,177.95 169.3,178.02 169.4,177.98 169.5,178.23 169.6,178.08 169.7,178.30 169.8,178.48 169.9,178.34 170.0,178.51 170.1,178.60 170.2,178.53 170.3,178.67 170.4,178.86 170.5,178.73 170.6,178.89 170.7,178.49 170.8,178.85 170.9,178.89 171.0,178.91 171.1,179.17 171.2,178.99 171.3,179.25 171.4,179.44 171.5,179.43 171.6,179.27 171.7,179.67 171.8,179.39 172.0,179.58 172.1,179.35 172.2,179.64 172.3,179.20 172.4,179.42 172.5,179.80 172.6,179.29 172.7,179.66 172.8,179.76 172.9,179.82 173.0,179.54 173.1,179.37 173.2,179.71 173.3,179.73 173.4,179.68 173.5,179.09 173.6,178.87 173.7,178.97 173.8,178.47 173.9,178.11 174.0,177.54 174.1,176.66 174.2,175.93 174.3,175.05 174.4,174.23 174.5,173.15 174.6,172.66 174.7,172.50 174.8,173.01 174.9,173.76 175.0,174.06 175.1,174.49 175.2,174.81 175.3,175.39 175.4,175.74 175.5,175.56 175.6,175.93 175.8,176.25 175.9,176.33 176.0,176.81 176.1,177.11 176.2,177.21 176.3,177.81 176.4,177.84 176.5,177.68 176.6,177.95 176.7,178.32 176.8,178.11 176.9,178.17 177.0,178.34 177.1,178.56 177.2,178.80 177.3,178.73 177.4,178.76 177.5,178.97 177.6,178.88 177.7,179.00 177.8,179.06 177.9,179.54 178.0,179.05 178.1,178.99 178.2,179.42 178.3,179.65 178.4,179.33 178.5,179.57 178.6,179.69 178.7,179.35 178.8,179.84 178.9,179.51 179.0,179.89 179.1,179.44 179.2,179.64 179.3,179.80 179.4,179.76 179.6,179.71 179.7,179.69 179.8,179.71 179.9,179.78 180.0,179.98 180.1,179.80 180.2,180.17 180.3,179.78 180.4,179.82 180.5,179.75 180.6,180.11 180.7,179.99 180.8,179.89 180.9,180.00 181.0,180.14 181.1,180.02 181.2,180.07 181.3,179.91 181.4,180.19 181.5,180.00 181.6,179.98 181.7,179.85 181.8,179.92 181.9,179.77 182.0,179.65 182.1,179.41 182.2,179.14 182.3,178.84 182.4,177.84 182.5,177.95 182.6,177.40 182.7,176.67 182.8,175.97 182.9,175.20 183.0,174.44 183.1,174.25 183.2,174.90 183.4,175.75 183.5,175.59 183.6,176.20 183.7,176.35 183.8,176.74 183.9,176.71 184.0,177.13 184.1,177.11 184.2,177.36 184.3,177.68 184.4,177.80 184.5,177.81 184.6,178.19 184.7,178.11 184.8,178.40 184.9,178.48 185.0,178.50 185.1,178.51 185.2,178.76 185.3,178.93 185.4,178.90 185.5,179.38 185.6,178.90 185.7,179.49 185.8,179.17 185.9,179.49 186.0,179.36 186.1,179.53 186.2,179.51 186.3,179.75 186.4,180.04 186.5,179.63 186.6,179.85 186.7,179.90 186.8,179.95 186.9,179.51 187.0,179.99 187.2,179.86 187.3,180.15 187.4,179.71 187.5,180.10 187.6,180.49 187.7,179.58 187.8,180.27 187.9,179.87 188.0,179.99 188.1,180.03 188.2,180.20 188.3,180.14 188.4,179.98 188.5,180.27 188.6,180.18 188.7,180.08 188.8,180.24 188.9,180.35 189.0,180.03 189.1,180.24 189.2,180.34 189.3,180.46 189.4,180.51 189.5,180.19 189.6,180.19 189.7,180.75 189.8,180.48 189.9,180.21 190.0,179.95 190.1,180.00 190.2,180.20 190.3,180.11 190.4,180.41 190.5,180.14 190.6,180.42 190.7,180.21 190.8,179.92 191.0,179.42 191.1,179.45 191.2,179.25 191.3,178.99 191.4,178.80 191.5,178.01 191.6,177.69 191.7,177.09 191.8,176.83 191.9,176.27 192.0,176.41 192.1,176.34 192.2,176.47 192.3,176.79 192.4,176.81 192.5,177.34 192.6,177.51 192.7,177.70 192.8,178.12 192.9,177.75 193.0,178.11 193.1,178.47 193.2,178.72 193.3,178.58 193.4,178.65 193.5,178.89 193.6,178.98 193.7,179.14 193.8,179.20 193.9,179.05 194.0,179.11 194.1,179.70 194.2,179.48 194.3,179.78 194.4,179.86 194.5,179.58 194.6,179.89 194.8,180.34 194.9,179.73 195.0,179.66 195.1,179.57 195.2,180.04 195.3,179.75 195.4,180.50 195.5,180.26 195.6,180.01 195.7,180.05 195.8,179.93 195.9,180.02 196.0,180.23 196.1,179.97 196.2,180.14 196.3,179.98 196.4,180.45 196.5,180.27 196.6,180.42 196.7,180.22 196.8,180.42 196.9,180.44 197.0,180.65 197.1,180.37 197.2,180.25 197.3,180.28 197.4,181.00 197.5,180.77 197.6,180.14 197.7,180.54 197.8,180.55 197.9,180.33 198.0,180.51 198.1,180.66 198.2,180.60 198.3,180.24 198.4,180.82 198.5,180.36 198.7,180.65 198.8,180.65 198.9,180.28 199.0,180.73 199.1,180.47 199.2,180.69 199.3,180.87 199.4,180.65 199.5,180.41 199.6,180.63 199.7,180.48 199.8,180.50 199.9,180.48 200.0,180.49 200.1,180.29 200.2,180.55 200.3,180.11 200.4,180.16 200.5,179.56 200.6,179.27 200.7,179.16 200.8,178.55 200.9,178.28 201.0,177.96 201.1,177.79 201.2,177.46 201.3,177.48 201.4,177.97 201.5,178.17 201.6,177.99 201.7,178.76 201.8,178.96 201.9,178.96 202.0,178.73 202.1,178.86 202.2,178.91 202.3,179.09 202.5,178.93 202.6,179.02 202.7,179.18 202.8,179.67 202.9,179.48 203.0,179.76 203.1,179.77 203.2,179.92 203.3,179.80 203.4,179.76 203.5,179.89 203.6,180.17 203.7,180.27 203.8,180.18 203.9,180.23 204.0,179.99 204.1,180.22 204.2,180.23 204.3,180.26 204.4,180.07 204.5,180.00 204.6,180.24 204.7,180.39 204.8,180.12 204.9,180.31 205.0,180.49 205.1,180.26 205.2,180.42 205.3,180.72 205.4,180.38 205.5,180.45 205.6,180.85 205.7,180.92 205.8,180.53 205.9,180.45 206.0,180.47 206.1,180.83 206.3,180.67 206.4,180.50 206.5,180.90 206.6,180.62 206.7,180.61 206.8,180.49 206.9,181.10 207.0,180.65 207.1,180.33 207.2,180.80 207.3,180.76 207.4,180.54 207.5,180.85 207.6,180.52 207.7,180.63 207.8,181.01 207.9,180.72 208.0,181.00 208.1,180.58 208.2,181.05 208.3,181.08 208.4,180.97 208.5,180.91 208.6,180.54 208.7,180.78 208.8,180.73 208.9,180.59 209.0,180.89 209.1,180.87 209.2,180.90 209.3,180.60 209.4,180.42 209.5,180.62 209.6,180.73 209.7,180.64 209.8,180.66 209.9,180.22 210.1,180.40 210.2,180.09 210.3,180.05 210.4,179.95 210.5,179.82 210.6,179.26 210.7,178.79 210.8,178.63 210.9,178.39 211.0,178.39 211.1,178.45 211.2,178.62 211.3,178.54 211.4,178.35 211.5,178.86 211.6,179.19 211.7,178.84 211.8,179.34 211.9,179.16 212.0,179.43 212.1,179.42 212.2,178.92 212.3,179.72 212.4,179.77 212.5,179.67 212.6,179.80 212.7,179.93 212.8,180.03 212.9,179.86 213.0,179.82 213.1,180.23 213.2,180.30 213.3,179.82 213.4,180.44 213.5,180.10 213.6,180.18 213.7,180.48 213.9,180.19 214.0,180.55 214.1,180.57 214.2,180.65 214.3,180.29 214.4,180.54 214.5,180.29 214.6,180.64 214.7,180.41 214.8,180.29 214.9,180.58 215.0,180.78 215.1,180.65 215.2,180.39 215.3,180.50 215.4,180.71 215.5,180.96 215.6,180.54 215.7,180.39 215.8,180.40 215.9,180.63 216.0,180.75 216.1,180.86 216.2,180.84 216.3,181.04 216.4,180.38 216.5,180.77 216.6,180.35 216.7,180.79 216.8,181.07 216.9,180.47 217.0,180.95 217.1,180.89 217.2,180.53 217.3,180.57 217.4,181.19 217.5,180.84 217.7,181.03 217.8,180.75 217.9,180.54 218.0,180.95 218.1,180.60 218.2,181.03 218.3,180.49 218.4,181.02 218.5,180.96 218.6,180.84 218.7,181.14 218.8,180.62 218.9,181.08 219.0,180.79 219.1,181.12 219.2,180.88 219.3,180.89 219.4,180.95 219.5,180.79 219.6,181.05 219.7,180.56 219.8,180.76 219.9,181.24 220.0,180.35 220.1,180.55 220.2,180.27 220.3,180.46 220.4,180.70 220.5,180.23 220.6,180.21 220.7,179.82 220.8,179.71 220.9,179.40 221.0,179.56 221.1,179.09 221.2,179.07 221.3,178.94 221.5,179.45 221.6,179.33 221.7,179.06 221.8,179.65 221.9,179.39 222.0,179.37 222.1,179.68 222.2,179.57 222.3,179.63 222.4,179.60 222.5,180.00 222.6,180.01 222.7,179.90 222.8,180.23 222.9,180.13 223.0,180.31 223.1,180.64 223.2,180.21 223.3,180.01 223.4,180.41 223.5,180.36 223.6,180.49 223.7,180.57 223.8,180.44 223.9,180.31 224.0,180.13 224.1,180.40 224.2,180.74 224.3,180.84 224.4,180.38 224.5,180.58 224.6,180.76 224.7,180.85 224.8,180.83 224.9,180.48 225.0,180.72 225.1,180.98 225.3,180.59 225.4,180.70 225.5,180.82 225.6,180.68 225.7,180.94 225.8,180.64 225.9,181.07 226.0,180.99 226.1,181.08 226.2,180.92 226.3,180.99 226.4,180.93 226.5,180.87 226.6,180.78 226.7,180.86 226.8,180.85 226.9,180.62 227.0,180.96 227.1,181.17 227.2,180.75 227.3,180.61 227.4,180.90 227.5,180.79 227.6,181.06 227.7,180.92 227.8,180.84 227.9,180.89 228.0,181.06 228.1,180.68 228.2,180.94 228.3,180.81 228.4,180.91 228.5,180.83 228.6,180.83 228.7,181.03 228.8,180.85 228.9,180.62 229.1,180.65 229.2,180.87 229.3,180.71 229.4,181.24 229.5,180.76 229.6,181.00 229.7,181.33 229.8,180.99 229.9,180.85 230.0,181.14 230.1,180.67 230.2,180.77 230.3,181.22 230.4,180.81 230.5,180.95 230.6,181.04 230.7,180.97 230.8,180.95 230.9,181.03 231.0,180.84 231.1,180.57 231.2,180.35 231.3,180.25 231.4,180.50 231.5,180.30 231.6,180.30 231.7,179.84 231.8,180.19 231.9,180.03 232.0,179.82 232.1,179.64 232.2,179.82 232.3,179.82 232.4,179.89 232.5,179.92 232.6,180.20 232.7,180.13 232.9,180.02 233.0,180.12 233.1,180.03 233.2,180.39 233.3,180.14 233.4,180.09 233.5,180.41 233.6,180.37 233.7,180.41 233.8,180.39 233.9,180.44 234.0,180.28 234.1,180.48 234.2,180.44 234.3,180.56 234.4,180.82 234.5,180.59 234.6,180.72 234.7,180.82 234.8,180.88 234.9,180.75 235.0,180.86 235.1,180.42 235.2,180.51 235.3,180.85 235.4,180.69 235.5,180.63 235.6,180.88 235.7,180.53 235.8,180.71 235.9,180.90 236.0,181.21 236.1,181.07 236.2,180.85 236.3,181.00 236.4,180.93 236.5,181.07 236.7,180.90 236.8,181.03 236.9,181.23 237.0,181.03 237.1,181.07 237.2,181.25 237.3,180.74 237.4,181.00 237.5,181.05 237.6,180.87 237.7,181.02 237.8,180.88 237.9,181.28 238.0,181.20 238.1,180.93 238.2,180.77 238.3,181.03 238.4,181.00 238.5,181.19 238.6,181.05 238.7,181.17 238.8,181.08 238.9,180.93 239.0,181.41 239.1,181.03 239.2,181.21 239.3,181.18 239.4,180.87 239.5,181.02 239.6,180.91 239.7,181.39 239.8,181.16 239.9,181.17 240.0,181.19 240.1,181.01 240.2,180.94 240.3,181.29 240.5,181.27 240.6,181.32 240.7,180.90 240.8,181.19 240.9,181.12 241.0,181.16 241.1,181.27 241.2,181.04 241.3,181.03 241.4,180.93 241.5,181.13 241.6,181.14 241.7,181.18 241.8,180.81 241.9,180.87 242.0,181.04 242.1,180.89 242.2,181.08 242.3,180.58 242.4,180.99 242.5,180.90 242.6,180.84 242.7,180.40 242.8,180.60 242.9,180.35 243.0,180.47 243.1,180.57 243.2,180.13 243.3,180.30 243.4,180.35 243.5,180.16 243.6,180.02 243.7,179.87 243.8,180.47 243.9,180.66 244.0,180.15 244.1,180.30 244.3,180.49 244.4,180.36 244.5,180.34 244.6,180.16 244.7,180.55 244.8,180.33 244.9,180.67 245.0,180.70 245.1,180.56 245.2,180.86 245.3,180.91 245.4,180.54 245.5,181.07 245.6,180.73 245.7,180.82 245.8,180.85 245.9,181.04 246.0,181.18 246.1,180.95 246.2,181.05 246.3,180.94 246.4,180.86 246.5,181.02 246.6,181.09 246.7,180.86 246.8,181.06 246.9,181.10 247.0,181.00 247.1,180.90 247.2,180.59 247.3,180.69 247.4,181.20 247.5,181.22 247.6,180.99 247.7,180.91 247.8,181.03 247.9,180.64 248.1,180.82 248.2,180.74 248.3,181.11 248.4,181.20 248.5,181.24 248.6,181.07 248.7,181.28 248.8,181.18 248.9,181.14 249.0,180.91 249.1,181.16 249.2,181.33 249.3,181.16 249.4,181.06 249.5,181.00 249.6,181.26 249.7,180.99 249.8,180.86 249.9,181.02 250.0,181.07 250.1,181.19 250.2,181.22 250.3,181.48 250.4,181.02 250.5,181.19 250.6,181.10 250.7,181.04 250.8,181.27 250.9,180.96 251.0,181.12 251.1,180.88 251.2,181.11 251.3,181.09 251.4,181.19 251.5,180.89 251.6,181.52 251.7,181.24 251.9,181.20 252.0,181.42" fill="none" stroke="#0a0a0a" stroke-width="0.85" stroke-linejoin="round"/>
<text transform="translate(99.14 163.42) rotate(-90)" font-size="4.8" fill="#333" stroke="#333" stroke-width="0.16">2693.5994</text>
<text transform="translate(109.59 155.92) rotate(-90)" font-size="4.8" fill="#333" stroke="#333" stroke-width="0.16">2795.1773</text>
<text transform="translate(120.86 144.41) rotate(-90)" font-size="4.8" fill="#333" stroke="#333" stroke-width="0.16">2904.7594</text>
<text transform="translate(133.04 140.78) rotate(-90)" font-size="4.8" fill="#333" stroke="#333" stroke-width="0.16">3023.2886</text>
<text transform="translate(139.51 143.68) rotate(-90)" font-size="4.8" fill="#333" stroke="#333" stroke-width="0.16">3089.5229</text>
<text transform="translate(146.26 148.63) rotate(-90)" font-size="4.8" fill="#333" stroke="#333" stroke-width="0.16">3155.2600</text>
<text transform="translate(153.31 154.68) rotate(-90)" font-size="4.8" fill="#333" stroke="#333" stroke-width="0.16">3225.1709</text>
<text transform="translate(160.66 161.71) rotate(-90)" font-size="4.8" fill="#333" stroke="#333" stroke-width="0.16">3291.9184</text>
<text x="4.40" y="223.20" font-size="13.0" fill="#000" stroke="#000" stroke-width="0.3">C1</text>
<text x="40.70" y="286.65" font-size="4.8" text-anchor="end" fill="#262626" stroke="#262626" stroke-width="0.16">0</text>
<text x="40.70" y="275.33" font-size="4.8" text-anchor="end" fill="#262626" stroke="#262626" stroke-width="0.16">0.2</text>
<text x="40.70" y="264.01" font-size="4.8" text-anchor="end" fill="#262626" stroke="#262626" stroke-width="0.16">0.4</text>
<text x="40.70" y="252.69" font-size="4.8" text-anchor="end" fill="#262626" stroke="#262626" stroke-width="0.16">0.6</text>
<text x="40.70" y="241.37" font-size="4.8" text-anchor="end" fill="#262626" stroke="#262626" stroke-width="0.16">0.8</text>
<text x="40.70" y="230.05" font-size="4.8" text-anchor="end" fill="#262626" stroke="#262626" stroke-width="0.16">1</text>
<text x="36.90" y="220.70" font-size="4.6" text-anchor="end" fill="#262626" stroke="#262626" stroke-width="0.16">x10</text>
<text x="38.50" y="219.40" font-size="3.8" fill="#262626" stroke="#262626" stroke-width="0.16">4</text>
<text x="66.20" y="293.20" font-size="5.1" text-anchor="middle" fill="#262626" stroke="#262626" stroke-width="0.16">2400</text>
<text x="86.74" y="293.20" font-size="5.1" text-anchor="middle" fill="#262626" stroke="#262626" stroke-width="0.16">2600</text>
<text x="107.28" y="293.20" font-size="5.1" text-anchor="middle" fill="#262626" stroke="#262626" stroke-width="0.16">2800</text>
<text x="127.82" y="293.20" font-size="5.1" text-anchor="middle" fill="#262626" stroke="#262626" stroke-width="0.16">3000</text>
<text x="148.36" y="293.20" font-size="5.1" text-anchor="middle" fill="#262626" stroke="#262626" stroke-width="0.16">3200</text>
<text x="168.90" y="293.20" font-size="5.1" text-anchor="middle" fill="#262626" stroke="#262626" stroke-width="0.16">3400</text>
<text x="189.44" y="293.20" font-size="5.1" text-anchor="middle" fill="#262626" stroke="#262626" stroke-width="0.16">3600</text>
<text x="209.98" y="293.20" font-size="5.1" text-anchor="middle" fill="#262626" stroke="#262626" stroke-width="0.16">3800</text>
<text x="230.52" y="293.20" font-size="5.1" text-anchor="middle" fill="#262626" stroke="#262626" stroke-width="0.16">4000</text>
<text x="147.50" y="298.30" font-size="4.95" text-anchor="middle" fill="#262626" stroke="#262626" stroke-width="0.16">Counts vs. Mass-to-Charge (m/z)</text>
<polyline points="43.5,283.84 43.6,284.01 43.7,283.81 43.8,284.01 43.9,283.79 44.0,284.41 44.1,283.80 44.2,284.28 44.3,284.14 44.4,284.28 44.5,284.01 44.6,284.64 44.7,284.36 44.8,284.39 44.9,284.14 45.0,284.53 45.1,284.39 45.2,284.51 45.3,284.36 45.5,284.28 45.6,284.57 45.7,284.19 45.8,284.23 45.9,284.31 46.0,284.24 46.1,284.51 46.2,284.42 46.3,284.56 46.4,284.44 46.5,284.29 46.6,284.47 46.7,284.34 46.8,284.25 46.9,284.06 47.0,283.79 47.1,283.61 47.2,283.95 47.3,283.83 47.4,283.68 47.5,283.91 47.6,284.13 47.7,284.30 47.8,284.31 47.9,283.93 48.0,284.24 48.1,284.38 48.2,284.25 48.3,283.94 48.4,284.29 48.5,284.22 48.6,284.28 48.7,284.40 48.8,284.54 48.9,284.41 49.0,284.39 49.1,284.26 49.3,284.22 49.4,284.21 49.5,284.32 49.6,284.22 49.7,284.50 49.8,284.16 49.9,284.27 50.0,284.38 50.1,284.19 50.2,284.16 50.3,283.75 50.4,283.41 50.5,283.06 50.6,283.78 50.7,283.93 50.8,283.89 50.9,283.87 51.0,283.83 51.1,283.99 51.2,284.43 51.3,284.18 51.4,284.03 51.5,284.16 51.6,284.09 51.7,284.27 51.8,284.29 51.9,284.23 52.0,284.21 52.1,284.25 52.2,284.27 52.3,284.41 52.4,284.24 52.5,284.29 52.6,284.12 52.7,284.12 52.8,284.29 52.9,284.39 53.1,284.43 53.2,284.25 53.3,284.31 53.4,284.37 53.5,284.28 53.6,284.34 53.7,283.99 53.8,283.97 53.9,283.37 54.0,283.15 54.1,282.98 54.2,283.48 54.3,283.44 54.4,283.48 54.5,283.89 54.6,283.86 54.7,283.89 54.8,284.19 54.9,283.96 55.0,283.91 55.1,284.23 55.2,284.06 55.3,284.36 55.4,284.17 55.5,284.45 55.6,284.00 55.7,284.14 55.8,284.22 55.9,284.36 56.0,284.02 56.1,283.91 56.2,284.56 56.3,284.04 56.4,283.98 56.5,284.20 56.6,284.46 56.7,284.12 56.9,284.29 57.0,284.36 57.1,284.45 57.2,284.09 57.3,283.95 57.4,283.99 57.5,283.47 57.6,283.32 57.7,282.58 57.8,282.78 57.9,283.06 58.0,283.25 58.1,283.25 58.2,283.40 58.3,283.55 58.4,283.71 58.5,283.79 58.6,283.77 58.7,283.88 58.8,283.85 58.9,284.06 59.0,284.45 59.1,283.88 59.2,283.71 59.3,284.03 59.4,284.13 59.5,284.15 59.6,284.16 59.7,284.15 59.8,284.35 59.9,284.25 60.0,284.34 60.1,284.14 60.2,284.23 60.3,284.10 60.4,284.22 60.5,284.03 60.7,284.15 60.8,283.81 60.9,284.46 61.0,284.17 61.1,283.75 61.2,283.18 61.3,283.22 61.4,282.64 61.5,282.26 61.6,282.22 61.7,282.78 61.8,282.84 61.9,283.20 62.0,283.52 62.1,283.38 62.2,283.46 62.3,283.42 62.4,283.73 62.5,283.88 62.6,283.73 62.7,283.83 62.8,283.86 62.9,283.95 63.0,283.77 63.1,283.93 63.2,283.69 63.3,283.84 63.4,283.93 63.5,284.33 63.6,283.96 63.7,284.00 63.8,283.94 63.9,283.91 64.0,284.16 64.1,283.96 64.2,284.20 64.3,283.78 64.5,284.33 64.6,284.40 64.7,284.36 64.8,284.18 64.9,284.10 65.0,283.36 65.1,283.38 65.2,283.01 65.3,281.95 65.4,281.75 65.5,282.16 65.6,282.14 65.7,282.46 65.8,282.87 65.9,282.75 66.0,283.12 66.1,283.00 66.2,283.30 66.3,283.22 66.4,283.54 66.5,283.83 66.6,283.27 66.7,283.82 66.8,283.81 66.9,283.92 67.0,283.87 67.1,283.82 67.2,283.85 67.3,283.79 67.4,283.61 67.5,283.95 67.6,284.15 67.7,284.15 67.8,284.08 67.9,284.25 68.0,283.84 68.1,284.07 68.3,284.04 68.4,283.99 68.5,284.23 68.6,284.13 68.7,283.84 68.8,283.78 68.9,283.82 69.0,283.17 69.1,283.25 69.2,282.42 69.3,281.61 69.4,281.36 69.5,280.77 69.6,281.47 69.7,282.07 69.8,281.84 69.9,282.35 70.0,282.59 70.1,282.94 70.2,282.97 70.3,283.37 70.4,283.09 70.5,283.38 70.6,283.37 70.7,283.25 70.8,283.46 70.9,283.52 71.0,283.55 71.1,283.76 71.2,283.52 71.3,283.43 71.4,283.59 71.5,283.58 71.6,283.90 71.7,283.91 71.8,284.02 71.9,283.58 72.1,283.84 72.2,283.57 72.3,283.95 72.4,283.89 72.5,283.81 72.6,283.67 72.7,283.80 72.8,283.75 72.9,283.72 73.0,283.54 73.1,283.49 73.2,282.81 73.3,282.14 73.4,281.17 73.5,280.09 73.6,279.87 73.7,280.36 73.8,280.89 73.9,281.19 74.0,281.48 74.1,282.08 74.2,282.07 74.3,282.03 74.4,282.81 74.5,282.85 74.6,282.99 74.7,283.00 74.8,282.77 74.9,283.13 75.0,283.32 75.1,283.15 75.2,283.41 75.3,283.16 75.4,283.34 75.5,283.19 75.6,283.57 75.7,282.96 75.9,283.36 76.0,283.41 76.1,283.54 76.2,283.67 76.3,283.71 76.4,283.59 76.5,283.71 76.6,283.54 76.7,283.73 76.8,283.49 76.9,283.43 77.0,283.69 77.1,283.31 77.2,283.44 77.3,282.97 77.4,282.67 77.5,281.86 77.6,281.22 77.7,279.81 77.8,278.31 77.9,278.36 78.0,279.35 78.1,279.96 78.2,280.59 78.3,280.98 78.4,281.08 78.5,281.12 78.6,281.69 78.7,281.80 78.8,282.07 78.9,282.22 79.0,282.40 79.1,282.53 79.2,282.53 79.3,282.90 79.4,282.61 79.5,282.70 79.7,282.95 79.8,282.83 79.9,283.13 80.0,283.14 80.1,283.06 80.2,283.15 80.3,283.22 80.4,283.28 80.5,283.28 80.6,283.04 80.7,283.55 80.8,283.17 80.9,283.28 81.0,283.13 81.1,283.17 81.2,283.73 81.3,283.16 81.4,283.17 81.5,283.16 81.6,283.09 81.7,282.58 81.8,282.27 81.9,281.04 82.0,280.00 82.1,278.12 82.2,276.90 82.3,275.93 82.4,276.47 82.5,277.34 82.6,278.24 82.7,279.16 82.8,279.53 82.9,279.82 83.0,280.37 83.1,280.70 83.2,281.01 83.3,281.40 83.5,281.55 83.6,281.90 83.7,281.52 83.8,282.04 83.9,282.01 84.0,282.37 84.1,282.16 84.2,282.69 84.3,282.29 84.4,282.52 84.5,282.21 84.6,282.84 84.7,282.65 84.8,282.64 84.9,282.52 85.0,282.84 85.1,282.78 85.2,283.18 85.3,282.98 85.4,282.78 85.5,282.68 85.6,282.93 85.7,282.55 85.8,282.60 85.9,282.89 86.0,283.24 86.1,283.03 86.2,282.63 86.3,281.88 86.4,281.29 86.5,280.56 86.6,278.64 86.7,276.36 86.8,274.74 86.9,273.86 87.0,274.59 87.1,275.96 87.3,276.94 87.4,277.56 87.5,278.27 87.6,278.91 87.7,279.11 87.8,279.55 87.9,279.96 88.0,280.43 88.1,280.49 88.2,280.92 88.3,281.04 88.4,281.12 88.5,281.31 88.6,281.28 88.7,281.63 88.8,282.09 88.9,282.09 89.0,281.75 89.1,282.10 89.2,282.05 89.3,282.31 89.4,282.05 89.5,282.32 89.6,282.05 89.7,282.42 89.8,282.17 89.9,282.28 90.0,282.54 90.1,282.25 90.2,282.61 90.3,282.61 90.4,282.36 90.5,282.59 90.6,282.56 90.7,282.47 90.8,282.46 90.9,281.86 91.1,281.47 91.2,280.79 91.3,279.53 91.4,277.63 91.5,275.10 91.6,272.75 91.7,271.00 91.8,271.47 91.9,272.99 92.0,274.18 92.1,274.85 92.2,276.12 92.3,276.90 92.4,277.81 92.5,278.29 92.6,278.47 92.7,279.10 92.8,279.27 92.9,279.87 93.0,280.10 93.1,280.11 93.2,280.19 93.3,280.53 93.4,280.60 93.5,280.66 93.6,280.91 93.7,281.36 93.8,281.32 93.9,281.29 94.0,281.55 94.1,281.48 94.2,281.89 94.3,281.82 94.4,281.64 94.5,282.15 94.6,282.00 94.7,281.86 94.9,282.18 95.0,281.91 95.1,282.08 95.2,282.02 95.3,282.03 95.4,281.97 95.5,282.09 95.6,281.96 95.7,282.00 95.8,281.64 95.9,281.13 96.0,280.82 96.1,279.87 96.2,278.62 96.3,276.21 96.4,273.81 96.5,270.92 96.6,268.28 96.7,268.70 96.8,270.15 96.9,271.50 97.0,273.05 97.1,273.99 97.2,274.63 97.3,275.57 97.4,276.31 97.5,276.82 97.6,277.67 97.7,277.93 97.8,278.20 97.9,278.52 98.0,279.25 98.1,279.43 98.2,279.56 98.3,279.89 98.4,280.10 98.5,280.08 98.6,280.40 98.8,280.78 98.9,280.53 99.0,280.77 99.1,280.91 99.2,281.13 99.3,280.77 99.4,281.39 99.5,281.36 99.6,281.17 99.7,280.96 99.8,280.99 99.9,281.45 100.0,281.32 100.1,281.57 100.2,281.17 100.3,281.62 100.4,281.41 100.5,281.21 100.6,281.41 100.7,281.07 100.8,281.33 100.9,280.86 101.0,280.28 101.1,279.61 101.2,278.00 101.3,276.13 101.4,273.76 101.5,269.45 101.6,266.45 101.7,263.73 101.8,264.79 101.9,266.50 102.0,268.31 102.1,269.63 102.2,270.99 102.3,271.88 102.4,273.18 102.6,274.00 102.7,274.79 102.8,275.56 102.9,276.17 103.0,276.47 103.1,276.99 103.2,277.64 103.3,278.09 103.4,278.23 103.5,278.31 103.6,278.76 103.7,278.69 103.8,279.32 103.9,279.34 104.0,279.95 104.1,279.77 104.2,279.85 104.3,279.83 104.4,279.73 104.5,280.11 104.6,279.96 104.7,280.17 104.8,280.19 104.9,280.50 105.0,280.24 105.1,280.71 105.2,280.49 105.3,280.78 105.4,280.75 105.5,280.94 105.6,280.81 105.7,280.68 105.8,280.75 105.9,280.93 106.0,280.35 106.1,280.33 106.2,279.81 106.4,279.13 106.5,278.21 106.6,276.64 106.7,273.93 106.8,270.25 106.9,266.74 107.0,262.55 107.1,260.08 107.2,261.63 107.3,264.15 107.4,265.52 107.5,267.38 107.6,268.68 107.7,270.08 107.8,271.10 107.9,272.25 108.0,272.98 108.1,274.14 108.2,274.75 108.3,275.04 108.4,275.71 108.5,276.22 108.6,276.63 108.7,276.89 108.8,277.41 108.9,277.52 109.0,278.03 109.1,278.18 109.2,278.16 109.3,278.34 109.4,278.88 109.5,278.70 109.6,279.16 109.7,278.99 109.8,279.55 109.9,279.52 110.0,279.51 110.2,279.53 110.3,279.34 110.4,279.50 110.5,279.45 110.6,279.57 110.7,279.87 110.8,279.92 110.9,279.73 111.0,279.94 111.1,280.01 111.2,280.23 111.3,280.02 111.4,280.45 111.5,279.96 111.6,279.86 111.7,279.21 111.8,278.77 111.9,277.67 112.0,275.72 112.1,273.68 112.2,270.13 112.3,266.35 112.4,261.36 112.5,256.95 112.6,254.38 112.7,257.45 112.8,259.69 112.9,261.85 113.0,263.82 113.1,265.48 113.2,266.92 113.3,268.25 113.4,269.66 113.5,270.74 113.6,271.03 113.7,271.95 113.8,273.25 114.0,273.58 114.1,274.13 114.2,274.63 114.3,275.20 114.4,275.79 114.5,276.04 114.6,276.42 114.7,276.61 114.8,276.95 114.9,277.17 115.0,277.19 115.1,277.36 115.2,277.94 115.3,277.98 115.4,278.19 115.5,277.98 115.6,278.32 115.7,278.18 115.8,278.60 115.9,278.61 116.0,278.93 116.1,278.56 116.2,278.91 116.3,279.17 116.4,279.08 116.5,279.42 116.6,279.09 116.7,279.10 116.8,279.11 116.9,278.92 117.0,279.21 117.1,278.96 117.2,278.90 117.3,278.69 117.4,278.48 117.5,277.07 117.6,275.89 117.8,273.65 117.9,270.84 118.0,266.59 118.1,261.78 118.2,256.56 118.3,251.87 118.4,249.66 118.5,252.74 118.6,255.50 118.7,257.48 118.8,260.29 118.9,262.17 119.0,263.98 119.1,265.24 119.2,266.78 119.3,268.32 119.4,269.14 119.5,269.88 119.6,270.58 119.7,271.78 119.8,272.31 119.9,272.85 120.0,273.50 120.1,273.78 120.2,274.32 120.3,274.67 120.4,275.21 120.5,275.15 120.6,275.71 120.7,275.76 120.8,276.30 120.9,276.35 121.0,276.76 121.1,276.99 121.2,277.12 121.3,277.16 121.4,277.33 121.6,277.16 121.7,277.74 121.8,277.83 121.9,277.46 122.0,277.74 122.1,278.25 122.2,277.92 122.3,278.04 122.4,278.51 122.5,278.27 122.6,278.27 122.7,278.19 122.8,278.19 122.9,278.34 123.0,278.16 123.1,278.27 123.2,278.19 123.3,277.83 123.4,276.92 123.5,276.26 123.6,274.14 123.7,271.98 123.8,268.44 123.9,263.85 124.0,258.40 124.1,253.17 124.2,247.68 124.3,244.42 124.4,247.81 124.5,250.63 124.6,253.87 124.7,255.91 124.8,258.08 124.9,260.11 125.0,261.68 125.1,263.65 125.2,264.66 125.4,266.23 125.5,267.12 125.6,268.32 125.7,269.05 125.8,269.88 125.9,271.01 126.0,271.46 126.1,272.06 126.2,272.64 126.3,273.22 126.4,273.23 126.5,273.93 126.6,274.07 126.7,274.78 126.8,275.17 126.9,275.26 127.0,275.64 127.1,275.38 127.2,275.96 127.3,276.01 127.4,276.44 127.5,276.63 127.6,276.74 127.7,276.82 127.8,276.88 127.9,277.17 128.0,277.39 128.1,277.56 128.2,277.50 128.3,277.49 128.4,277.60 128.5,277.77 128.6,277.95 128.7,277.89 128.8,277.88 128.9,278.04 129.0,278.04 129.2,278.08 129.3,277.83 129.4,277.89 129.5,277.46 129.6,276.86 129.7,275.86 129.8,274.29 129.9,272.30 130.0,269.35 130.1,265.81 130.2,260.69 130.3,255.05 130.4,250.24 130.5,246.07 130.6,246.37 130.7,249.25 130.8,252.10 130.9,254.76 131.0,256.92 131.1,258.75 131.2,260.62 131.3,261.95 131.4,263.66 131.5,265.10 131.6,266.25 131.7,267.49 131.8,268.57 131.9,269.26 132.0,270.00 132.1,271.05 132.2,271.55 132.3,272.13 132.4,272.56 132.5,273.15 132.6,273.48 132.7,273.95 132.8,274.16 133.0,274.98 133.1,274.72 133.2,275.06 133.3,275.56 133.4,275.70 133.5,275.94 133.6,276.37 133.7,276.42 133.8,276.49 133.9,276.74 134.0,276.77 134.1,277.08 134.2,277.22 134.3,277.49 134.4,277.54 134.5,277.67 134.6,277.40 134.7,277.75 134.8,278.06 134.9,277.91 135.0,278.09 135.1,278.65 135.2,278.12 135.3,278.52 135.4,278.20 135.5,278.48 135.6,278.54 135.7,278.11 135.8,278.25 135.9,277.71 136.0,276.98 136.1,275.93 136.2,274.44 136.3,272.48 136.4,269.77 136.5,265.65 136.6,261.69 136.8,256.42 136.9,252.01 137.0,247.96 137.1,248.21 137.2,251.37 137.3,253.66 137.4,255.88 137.5,257.95 137.6,259.96 137.7,261.56 137.8,263.21 137.9,264.72 138.0,265.60 138.1,267.00 138.2,267.70 138.3,268.77 138.4,269.87 138.5,270.52 138.6,271.24 138.7,271.99 138.8,272.34 138.9,273.04 139.0,273.17 139.1,273.75 139.2,274.46 139.3,274.69 139.4,275.07 139.5,275.62 139.6,275.49 139.7,275.76 139.8,276.02 139.9,276.49 140.0,276.45 140.1,276.87 140.2,276.86 140.3,276.88 140.4,277.33 140.6,277.75 140.7,277.70 140.8,277.68 140.9,277.70 141.0,278.22 141.1,278.17 141.2,278.21 141.3,278.27 141.4,278.29 141.5,278.69 141.6,278.69 141.7,278.52 141.8,278.70 141.9,278.76 142.0,278.71 142.1,278.93 142.2,278.88 142.3,279.02 142.4,279.14 142.5,279.00 142.6,278.51 142.7,278.12 142.8,277.50 142.9,276.29 143.0,274.99 143.1,272.76 143.2,270.10 143.3,266.92 143.4,263.33 143.5,258.64 143.6,255.07 143.7,252.98 143.8,254.06 143.9,256.18 144.0,258.33 144.1,260.05 144.2,262.00 144.4,263.34 144.5,264.77 144.6,266.06 144.7,267.22 144.8,268.20 144.9,269.03 145.0,270.16 145.1,270.93 145.2,271.57 145.3,272.28 145.4,272.81 145.5,273.31 145.6,273.73 145.7,274.44 145.8,275.24 145.9,275.27 146.0,275.56 146.1,275.99 146.2,276.30 146.3,276.98 146.4,276.75 146.5,277.14 146.6,277.58 146.7,277.68 146.8,277.88 146.9,277.82 147.0,278.01 147.1,278.01 147.2,278.31 147.3,278.80 147.4,278.94 147.5,278.64 147.6,278.69 147.7,279.11 147.8,279.08 147.9,279.54 148.0,279.71 148.2,279.67 148.3,279.62 148.4,279.73 148.5,279.76 148.6,279.88 148.7,279.76 148.8,279.70 148.9,280.00 149.0,279.71 149.1,280.21 149.2,280.23 149.3,280.08 149.4,280.18 149.5,279.84 149.6,279.99 149.7,279.37 149.8,279.12 149.9,278.04 150.0,277.59 150.1,276.22 150.2,274.42 150.3,272.65 150.4,269.62 150.5,266.83 150.6,264.11 150.7,262.05 150.8,261.25 150.9,262.56 151.0,263.99 151.1,265.32 151.2,267.01 151.3,268.20 151.4,269.13 151.5,270.39 151.6,271.04 151.7,271.60 151.8,272.21 152.0,273.12 152.1,273.51 152.2,274.29 152.3,274.85 152.4,275.40 152.5,275.78 152.6,276.26 152.7,276.62 152.8,277.06 152.9,277.22 153.0,277.56 153.1,278.09 153.2,278.13 153.3,278.47 153.4,278.89 153.5,278.66 153.6,278.67 153.7,278.71 153.8,279.01 153.9,279.58 154.0,279.37 154.1,279.52 154.2,280.17 154.3,279.80 154.4,279.96 154.5,280.14 154.6,280.22 154.7,280.35 154.8,280.17 154.9,280.60 155.0,280.65 155.1,280.69 155.2,280.71 155.3,281.13 155.4,280.66 155.5,280.92 155.6,280.92 155.8,281.04 155.9,281.16 156.0,281.24 156.1,281.21 156.2,281.25 156.3,281.12 156.4,281.29 156.5,281.39 156.6,281.04 156.7,281.58 156.8,281.54 156.9,281.15 157.0,281.07 157.1,281.05 157.2,280.38 157.3,279.85 157.4,278.71 157.5,277.93 157.6,276.29 157.7,274.76 157.8,273.04 157.9,271.08 158.0,269.23 158.1,268.38 158.2,268.26 158.3,269.48 158.4,270.11 158.5,271.45 158.6,271.98 158.7,273.38 158.8,273.52 158.9,274.26 159.0,274.95 159.1,275.47 159.2,276.00 159.3,276.35 159.4,276.87 159.6,277.55 159.7,277.64 159.8,277.56 159.9,278.24 160.0,278.49 160.1,278.87 160.2,279.01 160.3,279.24 160.4,279.52 160.5,279.53 160.6,280.01 160.7,280.05 160.8,280.10 160.9,280.37 161.0,280.67 161.1,280.50 161.2,280.88 161.3,280.90 161.4,281.07 161.5,281.04 161.6,281.19 161.7,281.28 161.8,281.17 161.9,281.06 162.0,281.50 162.1,281.42 162.2,281.63 162.3,281.61 162.4,281.50 162.5,281.74 162.6,281.94 162.7,281.97 162.8,282.00 162.9,281.95 163.0,281.84 163.1,282.26 163.2,282.25 163.4,282.27 163.5,282.44 163.6,281.96 163.7,282.22 163.8,281.92 163.9,282.51 164.0,282.08 164.1,282.43 164.2,282.39 164.3,282.48 164.4,282.45 164.5,282.45 164.6,282.09 164.7,282.19 164.8,281.77 164.9,281.39 165.0,280.80 165.1,280.27 165.2,279.43 165.3,278.42 165.4,277.37 165.5,276.05 165.6,275.01 165.7,273.82 165.8,272.58 165.9,273.29 166.0,274.13 166.1,274.44 166.2,275.31 166.3,275.96 166.4,276.61 166.5,276.71 166.6,277.47 166.7,277.78 166.8,277.95 166.9,278.38 167.0,278.74 167.2,279.06 167.3,279.10 167.4,279.17 167.5,279.87 167.6,279.90 167.7,279.87 167.8,280.20 167.9,280.67 168.0,280.79 168.1,280.97 168.2,281.16 168.3,281.24 168.4,281.21 168.5,281.47 168.6,281.33 168.7,281.55 168.8,281.73 168.9,281.60 169.0,281.78 169.1,281.86 169.2,281.80 169.3,281.95 169.4,282.13 169.5,282.01 169.6,282.17 169.7,281.78 169.8,282.14 169.9,282.18 170.0,282.20 170.1,282.45 170.2,282.28 170.3,282.54 170.4,282.72 170.5,282.71 170.6,282.56 170.7,282.95 170.8,282.68 171.0,282.87 171.1,282.65 171.2,282.93 171.3,282.51 171.4,282.72 171.5,283.09 171.6,282.60 171.7,282.96 171.8,283.06 171.9,283.13 172.0,282.87 172.1,282.72 172.2,283.08 172.3,283.14 172.4,283.14 172.5,282.64 172.6,282.54 172.7,282.76 172.8,282.44 172.9,282.29 173.0,281.97 173.1,281.37 173.2,280.92 173.3,280.29 173.4,279.64 173.5,278.61 173.6,277.93 173.7,277.06 173.8,276.40 173.9,276.57 174.0,276.92 174.1,277.39 174.2,277.75 174.3,278.35 174.4,278.73 174.5,278.59 174.6,278.98 174.8,279.32 174.9,279.43 175.0,279.91 175.1,280.23 175.2,280.35 175.3,280.95 175.4,281.00 175.5,280.86 175.6,281.14 175.7,281.51 175.8,281.32 175.9,281.39 176.0,281.57 176.1,281.80 176.2,282.04 176.3,281.97 176.4,282.01 176.5,282.23 176.6,282.15 176.7,282.27 176.8,282.34 176.9,282.80 177.0,282.34 177.1,282.28 177.2,282.70 177.3,282.93 177.4,282.62 177.5,282.86 177.6,282.98 177.7,282.65 177.8,283.13 177.9,282.81 178.0,283.18 178.1,282.75 178.2,282.95 178.3,283.11 178.4,283.07 178.6,283.02 178.7,283.00 178.8,283.03 178.9,283.10 179.0,283.30 179.1,283.12 179.2,283.48 179.3,283.11 179.4,283.15 179.5,283.08 179.6,283.43 179.7,283.32 179.8,283.22 179.9,283.33 180.0,283.47 180.1,283.36 180.2,283.41 180.3,283.26 180.4,283.54 180.5,283.38 180.6,283.38 180.7,283.29 180.8,283.41 180.9,283.33 181.0,283.30 181.1,283.19 181.2,283.06 181.3,282.93 181.4,282.15 181.5,282.47 181.6,282.14 181.7,281.62 181.8,281.08 181.9,280.39 182.0,279.57 182.1,278.98 182.2,278.79 182.4,279.15 182.5,279.00 182.6,279.61 182.7,279.76 182.8,280.14 182.9,280.13 183.0,280.54 183.1,280.52 183.2,280.77 183.3,281.08 183.4,281.20 183.5,281.22 183.6,281.59 183.7,281.51 183.8,281.80 183.9,281.87 184.0,281.89 184.1,281.91 184.2,282.15 184.3,282.32 184.4,282.29 184.5,282.76 184.6,282.29 184.7,282.87 184.8,282.55 184.9,282.86 185.0,282.74 185.1,282.90 185.2,282.88 185.3,283.12 185.4,283.39 185.5,283.00 185.6,283.21 185.7,283.25 185.8,283.30 185.9,282.88 186.0,283.34 186.2,283.22 186.3,283.50 186.4,283.07 186.5,283.45 186.6,283.82 186.7,282.94 186.8,283.61 186.9,283.22 187.0,283.34 187.1,283.37 187.2,283.54 187.3,283.49 187.4,283.33 187.5,283.60 187.6,283.52 187.7,283.42 187.8,283.58 187.9,283.68 188.0,283.37 188.1,283.57 188.2,283.66 188.3,283.78 188.4,283.83 188.5,283.52 188.6,283.52 188.7,284.06 188.8,283.80 188.9,283.54 189.0,283.30 189.1,283.35 189.2,283.56 189.3,283.48 189.4,283.80 189.5,283.56 189.6,283.87 189.7,283.72 189.8,283.51 190.0,283.11 190.1,283.23 190.2,283.16 190.3,283.03 190.4,282.98 190.5,282.36 190.6,282.17 190.7,281.67 190.8,281.43 190.9,280.83 191.0,280.70 191.1,280.03 191.2,279.77 191.3,280.09 191.4,280.12 191.5,280.65 191.6,280.82 191.7,281.01 191.8,281.42 191.9,281.07 192.0,281.43 192.1,281.78 192.2,282.03 192.3,281.90 192.4,281.97 192.5,282.20 192.6,282.30 192.7,282.46 192.8,282.51 192.9,282.37 193.0,282.44 193.1,283.01 193.2,282.80 193.3,283.09 193.4,283.17 193.5,282.90 193.6,283.20 193.8,283.64 193.9,283.04 194.0,282.98 194.1,282.89 194.2,283.35 194.3,283.07 194.4,283.80 194.5,283.56 194.6,283.33 194.7,283.37 194.8,283.25 194.9,283.34 195.0,283.54 195.1,283.29 195.2,283.46 195.3,283.30 195.4,283.75 195.5,283.59 195.6,283.73 195.7,283.54 195.8,283.73 195.9,283.75 196.0,283.95 196.1,283.68 196.2,283.56 196.3,283.59 196.4,284.29 196.5,284.07 196.6,283.46 196.7,283.85 196.8,283.85 196.9,283.64 197.0,283.81 197.1,283.96 197.2,283.90 197.3,283.55 197.4,284.12 197.6,283.67 197.7,283.95 197.8,283.95 197.9,283.60 198.0,284.03 198.1,283.79 198.2,284.00 198.3,284.18 198.4,283.97 198.5,283.74 198.6,283.97 198.7,283.84 198.8,283.89 198.9,283.89 199.0,283.94 199.1,283.81 199.2,284.11 199.3,283.76 199.4,283.89 199.5,283.41 199.6,283.23 199.7,283.23 199.8,282.73 199.9,282.54 200.0,282.28 200.1,282.11 200.2,281.69 200.3,281.36 200.4,281.50 200.5,281.63 200.6,281.45 200.7,282.19 200.8,282.38 200.9,282.38 201.0,282.16 201.1,282.28 201.2,282.33 201.3,282.50 201.5,282.34 201.6,282.42 201.7,282.58 201.8,283.05 201.9,282.86 202.0,283.14 202.1,283.14 202.2,283.29 202.3,283.17 202.4,283.13 202.5,283.26 202.6,283.52 202.7,283.62 202.8,283.53 202.9,283.58 203.0,283.35 203.1,283.57 203.2,283.58 203.3,283.60 203.4,283.42 203.5,283.36 203.6,283.59 203.7,283.73 203.8,283.47 203.9,283.65 204.0,283.82 204.1,283.60 204.2,283.75 204.3,284.05 204.4,283.71 204.5,283.79 204.6,284.17 204.7,284.23 204.8,283.86 204.9,283.78 205.0,283.80 205.1,284.15 205.3,283.99 205.4,283.82 205.5,284.21 205.6,283.94 205.7,283.93 205.8,283.82 205.9,284.40 206.0,283.97 206.1,283.66 206.2,284.11 206.3,284.07 206.4,283.86 206.5,284.16 206.6,283.84 206.7,283.95 206.8,284.31 206.9,284.04 207.0,284.31 207.1,283.90 207.2,284.35 207.3,284.38 207.4,284.27 207.5,284.22 207.6,283.86 207.7,284.09 207.8,284.04 207.9,283.91 208.0,284.21 208.1,284.19 208.2,284.24 208.3,283.95 208.4,283.80 208.5,284.02 208.6,284.15 208.7,284.10 208.8,284.16 208.9,283.79 209.1,284.03 209.2,283.80 209.3,283.84 209.4,283.83 209.5,283.79 209.6,283.32 209.7,282.94 209.8,282.81 209.9,282.58 210.0,282.52 210.1,282.32 210.2,282.23 210.3,282.08 210.4,281.89 210.5,282.38 210.6,282.69 210.7,282.34 210.8,282.82 210.9,282.64 211.0,282.90 211.1,282.88 211.2,282.39 211.3,283.17 211.4,283.20 211.5,283.10 211.6,283.22 211.7,283.34 211.8,283.44 211.9,283.27 212.0,283.23 212.1,283.62 212.2,283.69 212.3,283.22 212.4,283.81 212.5,283.48 212.6,283.56 212.7,283.85 212.9,283.57 213.0,283.91 213.1,283.93 213.2,284.01 213.3,283.65 213.4,283.89 213.5,283.65 213.6,283.99 213.7,283.77 213.8,283.65 213.9,283.92 214.0,284.11 214.1,283.99 214.2,283.74 214.3,283.84 214.4,284.04 214.5,284.29 214.6,283.88 214.7,283.74 214.8,283.74 214.9,283.96 215.0,284.08 215.1,284.19 215.2,284.16 215.3,284.35 215.4,283.72 215.5,284.09 215.6,283.69 215.7,284.11 215.8,284.38 215.9,283.80 216.0,284.27 216.1,284.20 216.2,283.85 216.3,283.89 216.4,284.49 216.5,284.15 216.7,284.34 216.8,284.07 216.9,283.86 217.0,284.26 217.1,283.92 217.2,284.34 217.3,283.81 217.4,284.33 217.5,284.27 217.6,284.15 217.7,284.44 217.8,283.94 217.9,284.39 218.0,284.10 218.1,284.43 218.2,284.19 218.3,284.21 218.4,284.28 218.5,284.12 218.6,284.39 218.7,283.93 218.8,284.14 218.9,284.64 219.0,283.80 219.1,284.03 219.2,283.80 219.3,284.04 219.4,284.33 219.5,283.93 219.6,283.97 219.7,283.66 219.8,283.61 219.9,283.36 220.0,283.55 220.1,283.10 220.2,283.05 220.3,282.75 220.5,283.07 220.6,282.89 220.7,282.62 220.8,283.18 220.9,282.93 221.0,282.89 221.1,283.18 221.2,283.07 221.3,283.12 221.4,283.09 221.5,283.46 221.6,283.47 221.7,283.36 221.8,283.66 221.9,283.57 222.0,283.73 222.1,284.05 222.2,283.63 222.3,283.43 222.4,283.81 222.5,283.76 222.6,283.88 222.7,283.95 222.8,283.83 222.9,283.69 223.0,283.52 223.1,283.78 223.2,284.10 223.3,284.20 223.4,283.75 223.5,283.93 223.6,284.11 223.7,284.20 223.8,284.17 223.9,283.84 224.0,284.06 224.1,284.31 224.3,283.94 224.4,284.04 224.5,284.16 224.6,284.01 224.7,284.27 224.8,283.97 224.9,284.39 225.0,284.31 225.1,284.39 225.2,284.24 225.3,284.30 225.4,284.24 225.5,284.19 225.6,284.10 225.7,284.18 225.8,284.17 225.9,283.94 226.0,284.27 226.1,284.47 226.2,284.07 226.3,283.92 226.4,284.21 226.5,284.10 226.6,284.36 226.7,284.22 226.8,284.15 226.9,284.20 227.0,284.36 227.1,283.99 227.2,284.24 227.3,284.12 227.4,284.21 227.5,284.13 227.6,284.13 227.7,284.33 227.8,284.15 227.9,283.93 228.1,283.96 228.2,284.17 228.3,284.02 228.4,284.53 228.5,284.06 228.6,284.30 228.7,284.62 228.8,284.29 228.9,284.15 229.0,284.43 229.1,283.99 229.2,284.08 229.3,284.53 229.4,284.13 229.5,284.28 229.6,284.38 229.7,284.33 229.8,284.33 229.9,284.44 230.0,284.28 230.1,284.05 230.2,283.89 230.3,283.83 230.4,284.11 230.5,283.96 230.6,284.01 230.7,283.60 230.8,283.96 230.9,283.82 231.0,283.61 231.1,283.38 231.2,283.42 231.3,283.34 231.4,283.40 231.5,283.41 231.6,283.68 231.7,283.60 231.9,283.49 232.0,283.58 232.1,283.48 232.2,283.83 232.3,283.58 232.4,283.52 232.5,283.82 232.6,283.78 232.7,283.82 232.8,283.79 232.9,283.84 233.0,283.68 233.1,283.87 233.2,283.83 233.3,283.94 233.4,284.19 233.5,283.96 233.6,284.09 233.7,284.17 233.8,284.23 233.9,284.11 234.0,284.21 234.1,283.77 234.2,283.86 234.3,284.19 234.4,284.04 234.5,283.97 234.6,284.21 234.7,283.87 234.8,284.04 234.9,284.22 235.0,284.52 235.1,284.39 235.2,284.18 235.3,284.31 235.4,284.25 235.5,284.39 235.7,284.22 235.8,284.34 235.9,284.53 236.0,284.33 236.1,284.38 236.2,284.55 236.3,284.05 236.4,284.31 236.5,284.36 236.6,284.18 236.7,284.33 236.8,284.19 236.9,284.57 237.0,284.50 237.1,284.23 237.2,284.08 237.3,284.33 237.4,284.30 237.5,284.48 237.6,284.35 237.7,284.47 237.8,284.38 237.9,284.23 238.0,284.69 238.1,284.32 238.2,284.50 238.3,284.47 238.4,284.17 238.5,284.32 238.6,284.21 238.7,284.67 238.8,284.44 238.9,284.45 239.0,284.48 239.1,284.31 239.2,284.23 239.3,284.57 239.5,284.55 239.6,284.60 239.7,284.19 239.8,284.48 239.9,284.41 240.0,284.45 240.1,284.56 240.2,284.33 240.3,284.33 240.4,284.24 240.5,284.43 240.6,284.44 240.7,284.49 240.8,284.14 240.9,284.21 241.0,284.38 241.1,284.26 241.2,284.46 241.3,283.99 241.4,284.42 241.5,284.36 241.6,284.34 241.7,283.95 241.8,284.18 241.9,283.98 242.0,284.13 242.1,284.27 242.2,283.88 242.3,284.06 242.4,284.12 242.5,283.92 242.6,283.71 242.7,283.49 242.8,284.06 242.9,284.22 243.0,283.72 243.1,283.86 243.3,284.03 243.4,283.89 243.5,283.86 243.6,283.68 243.7,284.04 243.8,283.83 243.9,284.14 244.0,284.17 244.1,284.02 244.2,284.30 244.3,284.35 244.4,283.98 244.5,284.49 244.6,284.15 244.7,284.24 244.8,284.26 244.9,284.43 245.0,284.56 245.1,284.34 245.2,284.44 245.3,284.32 245.4,284.24 245.5,284.39 245.6,284.46 245.7,284.23 245.8,284.42 245.9,284.46 246.0,284.35 246.1,284.26 246.2,283.96 246.3,284.05 246.4,284.54 246.5,284.56 246.6,284.33 246.7,284.25 246.8,284.37 246.9,283.98 247.1,284.16 247.2,284.08 247.3,284.43 247.4,284.52 247.5,284.55 247.6,284.39 247.7,284.59 247.8,284.49 247.9,284.46 248.0,284.23 248.1,284.47 248.2,284.63 248.3,284.47 248.4,284.37 248.5,284.31 248.6,284.56 248.7,284.30 248.8,284.17 248.9,284.33 249.0,284.37 249.1,284.49 249.2,284.52 249.3,284.76 249.4,284.32 249.5,284.48 249.6,284.40 249.7,284.34 249.8,284.56 249.9,284.25 250.0,284.41 250.1,284.18 250.2,284.40 250.3,284.38 250.4,284.48 250.5,284.18 250.6,284.79 250.7,284.53 250.9,284.49 251.0,284.70" fill="none" stroke="#0a0a0a" stroke-width="0.85" stroke-linejoin="round"/>
<text transform="translate(88.63 272.65) rotate(-90)" font-size="4.8" fill="#333" stroke="#333" stroke-width="0.16">2601.9134</text>
<text transform="translate(98.35 266.94) rotate(-90)" font-size="4.8" fill="#333" stroke="#333" stroke-width="0.16">2696.5008</text>
<text transform="translate(108.79 259.04) rotate(-90)" font-size="4.8" fill="#333" stroke="#333" stroke-width="0.16">2798.1903</text>
<text transform="translate(120.06 248.89) rotate(-90)" font-size="4.8" fill="#333" stroke="#333" stroke-width="0.16">2907.8907</text>
<text transform="translate(132.24 244.36) rotate(-90)" font-size="4.8" fill="#333" stroke="#333" stroke-width="0.16">3026.5189</text>
<text transform="translate(138.72 246.65) rotate(-90)" font-size="4.8" fill="#333" stroke="#333" stroke-width="0.16">3089.5365</text>
<text transform="translate(145.47 251.74) rotate(-90)" font-size="4.8" fill="#333" stroke="#333" stroke-width="0.16">3155.2833</text>
<text transform="translate(152.51 260.21) rotate(-90)" font-size="4.8" fill="#333" stroke="#333" stroke-width="0.16">3223.9527</text>
<text x="3.80" y="326.80" font-size="13.0" fill="#000" stroke="#000" stroke-width="0.3">D1</text>
<text x="38.30" y="390.15" font-size="4.8" text-anchor="end" fill="#262626" stroke="#262626" stroke-width="0.16">0</text>
<text x="38.30" y="382.55" font-size="4.8" text-anchor="end" fill="#262626" stroke="#262626" stroke-width="0.16">0.5</text>
<text x="38.30" y="374.95" font-size="4.8" text-anchor="end" fill="#262626" stroke="#262626" stroke-width="0.16">1</text>
<text x="38.30" y="367.35" font-size="4.8" text-anchor="end" fill="#262626" stroke="#262626" stroke-width="0.16">1.5</text>
<text x="38.30" y="359.75" font-size="4.8" text-anchor="end" fill="#262626" stroke="#262626" stroke-width="0.16">2</text>
<text x="38.30" y="352.15" font-size="4.8" text-anchor="end" fill="#262626" stroke="#262626" stroke-width="0.16">2.5</text>
<text x="38.30" y="344.55" font-size="4.8" text-anchor="end" fill="#262626" stroke="#262626" stroke-width="0.16">3</text>
<text x="38.30" y="336.95" font-size="4.8" text-anchor="end" fill="#262626" stroke="#262626" stroke-width="0.16">3.5</text>
<text x="38.30" y="329.35" font-size="4.8" text-anchor="end" fill="#262626" stroke="#262626" stroke-width="0.16">4</text>
<text x="34.50" y="324.00" font-size="4.6" text-anchor="end" fill="#262626" stroke="#262626" stroke-width="0.16">x10</text>
<text x="36.10" y="322.70" font-size="3.8" fill="#262626" stroke="#262626" stroke-width="0.16">3</text>
<text x="63.80" y="396.70" font-size="5.1" text-anchor="middle" fill="#262626" stroke="#262626" stroke-width="0.16">2400</text>
<text x="84.34" y="396.70" font-size="5.1" text-anchor="middle" fill="#262626" stroke="#262626" stroke-width="0.16">2600</text>
<text x="104.88" y="396.70" font-size="5.1" text-anchor="middle" fill="#262626" stroke="#262626" stroke-width="0.16">2800</text>
<text x="125.42" y="396.70" font-size="5.1" text-anchor="middle" fill="#262626" stroke="#262626" stroke-width="0.16">3000</text>
<text x="145.96" y="396.70" font-size="5.1" text-anchor="middle" fill="#262626" stroke="#262626" stroke-width="0.16">3200</text>
<text x="166.50" y="396.70" font-size="5.1" text-anchor="middle" fill="#262626" stroke="#262626" stroke-width="0.16">3400</text>
<text x="187.04" y="396.70" font-size="5.1" text-anchor="middle" fill="#262626" stroke="#262626" stroke-width="0.16">3600</text>
<text x="207.58" y="396.70" font-size="5.1" text-anchor="middle" fill="#262626" stroke="#262626" stroke-width="0.16">3800</text>
<text x="228.12" y="396.70" font-size="5.1" text-anchor="middle" fill="#262626" stroke="#262626" stroke-width="0.16">4000</text>
<text x="145.30" y="401.80" font-size="4.95" text-anchor="middle" fill="#262626" stroke="#262626" stroke-width="0.16">Counts vs. Mass-to-Charge (m/z)</text>
<polyline points="41.1,386.60 41.2,386.56 41.3,386.47 41.4,386.83 41.5,386.69 41.6,387.43 41.7,386.82 41.8,387.38 41.9,387.27 42.0,387.44 42.1,387.19 42.2,387.87 42.3,387.59 42.4,387.64 42.5,387.38 42.6,387.81 42.7,387.66 42.8,387.81 42.9,387.65 43.1,387.56 43.2,387.88 43.3,387.48 43.4,387.53 43.5,387.61 43.6,387.54 43.7,387.83 43.8,387.74 43.9,387.88 44.0,387.75 44.1,387.56 44.2,387.68 44.3,387.42 44.4,387.12 44.5,386.67 44.6,386.23 44.7,386.33 44.8,386.79 44.9,386.74 45.0,386.65 45.1,386.95 45.2,387.22 45.3,387.44 45.4,387.48 45.5,387.09 45.6,387.44 45.7,387.60 45.8,387.48 45.9,387.16 46.0,387.55 46.1,387.48 46.2,387.55 46.3,387.68 46.4,387.84 46.5,387.70 46.6,387.69 46.7,387.55 46.9,387.51 47.0,387.50 47.1,387.62 47.2,387.52 47.3,387.81 47.4,387.44 47.5,387.54 47.6,387.61 47.7,387.30 47.8,387.09 47.9,386.40 48.0,385.81 48.1,385.57 48.2,386.53 48.3,386.79 48.4,386.81 48.5,386.85 48.6,386.85 48.7,387.06 48.8,387.58 48.9,387.34 49.0,387.19 49.1,387.34 49.2,387.29 49.3,387.50 49.4,387.53 49.5,387.48 49.6,387.46 49.7,387.51 49.8,387.54 49.9,387.70 50.0,387.52 50.1,387.57 50.2,387.40 50.3,387.39 50.4,387.58 50.5,387.69 50.7,387.74 50.8,387.55 50.9,387.61 51.0,387.66 51.1,387.52 51.2,387.49 51.3,386.97 51.4,386.72 51.5,385.81 51.6,385.44 51.7,385.65 51.8,386.28 51.9,386.31 52.0,386.41 52.1,386.90 52.2,386.91 52.3,386.97 52.4,387.33 52.5,387.10 52.6,387.07 52.7,387.43 52.8,387.26 52.9,387.60 53.0,387.40 53.1,387.71 53.2,387.23 53.3,387.38 53.4,387.48 53.5,387.63 53.6,387.27 53.7,387.15 53.8,387.86 53.9,387.30 54.0,387.24 54.1,387.48 54.2,387.77 54.3,387.39 54.5,387.58 54.6,387.64 54.7,387.70 54.8,387.25 54.9,386.96 55.0,386.79 55.1,385.94 55.2,385.53 55.3,384.84 55.4,385.40 55.5,385.80 55.6,386.07 55.7,386.13 55.8,386.35 55.9,386.55 56.0,386.75 56.1,386.87 56.2,386.86 56.3,387.01 56.4,386.99 56.5,387.23 56.6,387.66 56.7,387.06 56.8,386.88 56.9,387.23 57.0,387.35 57.1,387.38 57.2,387.39 57.3,387.38 57.4,387.61 57.5,387.51 57.6,387.60 57.7,387.39 57.8,387.49 57.9,387.36 58.0,387.48 58.1,387.27 58.3,387.40 58.4,387.00 58.5,387.66 58.6,387.24 58.7,386.59 58.8,385.71 58.9,385.41 59.0,384.55 59.1,384.51 59.2,384.71 59.3,385.40 59.4,385.55 59.5,386.01 59.6,386.41 59.7,386.31 59.8,386.43 59.9,386.41 60.0,386.78 60.1,386.96 60.2,386.82 60.3,386.95 60.4,387.00 60.5,387.11 60.6,386.92 60.7,387.10 60.8,386.85 60.9,387.02 61.0,387.13 61.1,387.56 61.2,387.17 61.3,387.22 61.4,387.17 61.5,387.13 61.6,387.41 61.7,387.19 61.8,387.46 61.9,387.00 62.1,387.60 62.2,387.66 62.3,387.59 62.4,387.33 62.5,387.13 62.6,386.13 62.7,385.86 62.8,385.15 62.9,383.84 63.0,384.13 63.1,384.77 63.2,384.82 63.3,385.23 63.4,385.72 63.5,385.64 63.6,386.08 63.7,385.99 63.8,386.34 63.9,386.27 64.0,386.64 64.1,386.97 64.2,386.38 64.3,386.99 64.4,386.98 64.5,387.12 64.6,387.07 64.7,387.03 64.8,387.06 64.9,387.01 65.0,386.82 65.1,387.19 65.2,387.42 65.3,387.42 65.4,387.34 65.5,387.54 65.6,387.09 65.7,387.34 65.9,387.32 66.0,387.26 66.1,387.51 66.2,387.39 66.3,387.06 66.4,386.93 66.5,386.86 66.6,385.98 66.7,385.81 66.8,384.66 66.9,383.65 67.0,383.82 67.1,383.56 67.2,384.35 67.3,385.02 67.4,384.81 67.5,385.37 67.6,385.65 67.7,386.04 67.8,386.09 67.9,386.53 68.0,386.24 68.1,386.56 68.2,386.55 68.3,386.44 68.4,386.67 68.5,386.73 68.6,386.78 68.7,387.00 68.8,386.75 68.9,386.66 69.0,386.83 69.1,386.83 69.2,387.17 69.3,387.19 69.4,387.31 69.5,386.83 69.7,387.12 69.8,386.82 69.9,387.23 70.0,387.18 70.1,387.08 70.2,386.93 70.3,387.06 70.4,386.97 70.5,386.87 70.6,386.57 70.7,386.31 70.8,385.30 70.9,384.24 71.0,382.94 71.1,381.82 71.2,382.50 71.3,383.08 71.4,383.69 71.5,384.04 71.6,384.39 71.7,385.05 71.8,385.06 71.9,385.04 72.0,385.89 72.1,385.95 72.2,386.11 72.3,386.13 72.4,385.90 72.5,386.29 72.6,386.50 72.7,386.33 72.8,386.61 72.9,386.35 73.0,386.55 73.1,386.39 73.2,386.80 73.3,386.16 73.5,386.59 73.6,386.64 73.7,386.79 73.8,386.93 73.9,386.98 74.0,386.86 74.1,386.99 74.2,386.80 74.3,387.01 74.4,386.75 74.5,386.68 74.6,386.94 74.7,386.49 74.8,386.55 74.9,385.90 75.0,385.35 75.1,384.19 75.2,383.20 75.3,381.52 75.4,380.15 75.5,381.28 75.6,382.34 75.7,383.00 75.8,383.67 75.9,384.09 76.0,384.19 76.1,384.23 76.2,384.85 76.3,384.96 76.4,385.26 76.5,385.43 76.6,385.62 76.7,385.76 76.8,385.76 76.9,386.16 77.0,385.85 77.1,385.95 77.3,386.22 77.4,386.10 77.5,386.42 77.6,386.44 77.7,386.35 77.8,386.45 77.9,386.53 78.0,386.60 78.1,386.60 78.2,386.35 78.3,386.89 78.4,386.49 78.5,386.61 78.6,386.45 78.7,386.50 78.8,387.10 78.9,386.47 79.0,386.47 79.1,386.41 79.2,386.26 79.3,385.57 79.4,385.04 79.5,383.46 79.6,382.10 79.7,379.97 79.8,378.93 79.9,379.41 80.0,379.98 80.1,380.82 80.2,381.71 80.3,382.63 80.4,382.97 80.5,383.24 80.6,383.78 80.7,384.11 80.8,384.41 80.9,384.81 81.1,384.95 81.2,385.30 81.3,384.88 81.4,385.43 81.5,385.38 81.6,385.76 81.7,385.53 81.8,386.10 81.9,385.66 82.0,385.90 82.1,385.56 82.2,386.24 82.3,386.03 82.4,386.02 82.5,385.89 82.6,386.23 82.7,386.16 82.8,386.60 82.9,386.38 83.0,386.16 83.1,386.06 83.2,386.33 83.3,385.91 83.4,385.96 83.5,386.26 83.6,386.60 83.7,386.31 83.8,385.77 83.9,384.80 84.0,383.94 84.1,382.89 84.2,380.62 84.3,378.18 84.4,376.93 84.5,377.75 84.6,378.37 84.7,379.71 84.9,380.64 85.0,381.21 85.1,381.89 85.2,382.50 85.3,382.66 85.4,383.07 85.5,383.47 85.6,383.93 85.7,383.96 85.8,384.40 85.9,384.50 86.0,384.57 86.1,384.76 86.2,384.71 86.3,385.07 86.4,385.56 86.5,385.55 86.6,385.17 86.7,385.54 86.8,385.47 86.9,385.75 87.0,385.46 87.1,385.76 87.2,385.46 87.3,385.85 87.4,385.58 87.5,385.69 87.6,385.97 87.7,385.66 87.8,386.04 87.9,386.04 88.0,385.76 88.1,386.00 88.2,385.95 88.3,385.81 88.4,385.73 88.5,384.97 88.7,384.37 88.8,383.39 88.9,381.75 89.0,379.45 89.1,376.66 89.2,374.48 89.3,374.29 89.4,375.53 89.5,376.97 89.6,378.08 89.7,378.66 89.8,379.89 89.9,380.62 90.0,381.50 90.1,381.93 90.2,382.06 90.3,382.67 90.4,382.80 90.5,383.41 90.6,383.61 90.7,383.58 90.8,383.64 90.9,383.98 91.0,384.03 91.1,384.08 91.2,384.32 91.3,384.79 91.4,384.74 91.5,384.69 91.6,384.96 91.7,384.87 91.8,385.30 91.9,385.21 92.0,385.02 92.1,385.56 92.2,385.40 92.3,385.23 92.5,385.57 92.6,385.28 92.7,385.46 92.8,385.39 92.9,385.39 93.0,385.31 93.1,385.43 93.2,385.26 93.3,385.25 93.4,384.77 93.5,384.06 93.6,383.47 93.7,382.11 93.8,380.36 93.9,377.38 94.0,374.58 94.1,371.71 94.2,370.43 94.3,372.30 94.4,373.70 94.5,375.00 94.6,376.55 94.7,377.46 94.8,378.05 94.9,378.98 95.0,379.71 95.1,380.19 95.2,381.06 95.3,381.29 95.4,381.55 95.5,381.86 95.6,382.61 95.7,382.78 95.8,382.90 95.9,383.23 96.0,383.44 96.1,383.41 96.2,383.74 96.4,384.14 96.5,383.86 96.6,384.11 96.7,384.26 96.8,384.49 96.9,384.10 97.0,384.76 97.1,384.72 97.2,384.51 97.3,384.29 97.4,384.32 97.5,384.81 97.6,384.67 97.7,384.94 97.8,384.51 97.9,384.99 98.0,384.76 98.1,384.54 98.2,384.73 98.3,384.32 98.4,384.53 98.5,383.89 98.6,383.08 98.7,382.07 98.8,379.98 98.9,377.57 99.0,374.71 99.1,370.03 99.2,367.35 99.3,366.74 99.4,369.13 99.5,370.71 99.6,372.42 99.7,373.62 99.8,374.90 99.9,375.71 100.0,376.97 100.2,377.73 100.3,378.49 100.4,379.22 100.5,379.79 100.6,380.05 100.7,380.55 100.8,381.20 100.9,381.63 101.0,381.74 101.1,381.79 101.2,382.25 101.3,382.14 101.4,382.79 101.5,382.80 101.6,383.44 101.7,383.22 101.8,383.30 101.9,383.26 102.0,383.14 102.1,383.54 102.2,383.36 102.3,383.58 102.4,383.59 102.5,383.92 102.6,383.64 102.7,384.14 102.8,383.90 102.9,384.21 103.0,384.17 103.1,384.37 103.2,384.22 103.3,384.07 103.4,384.13 103.5,384.29 103.6,383.60 103.7,383.47 103.8,382.75 104.0,381.77 104.1,380.45 104.2,378.36 104.3,375.04 104.4,370.85 104.5,367.22 104.6,363.56 104.7,364.17 104.8,366.27 104.9,368.67 105.0,369.88 105.1,371.64 105.2,372.83 105.3,374.15 105.4,375.09 105.5,376.19 105.6,376.85 105.7,377.99 105.8,378.55 105.9,378.79 106.0,379.44 106.1,379.92 106.2,380.31 106.3,380.55 106.4,381.06 106.5,381.15 106.6,381.66 106.7,381.80 106.8,381.75 106.9,381.92 107.0,382.48 107.1,382.27 107.2,382.75 107.3,382.55 107.4,383.14 107.5,383.10 107.6,383.08 107.8,383.11 107.9,382.89 108.0,383.06 108.1,383.00 108.2,383.13 108.3,383.45 108.4,383.50 108.5,383.30 108.6,383.52 108.7,383.58 108.8,383.81 108.9,383.58 109.0,384.01 109.1,383.44 109.2,383.25 109.3,382.43 109.4,381.77 109.5,380.35 109.6,377.96 109.7,375.49 109.8,371.50 109.9,367.56 110.0,362.85 110.1,359.60 110.2,361.01 110.3,363.76 110.4,365.68 110.5,367.58 110.6,369.31 110.7,370.76 110.8,372.02 110.9,373.19 111.0,374.48 111.1,375.43 111.2,375.56 111.3,376.39 111.4,377.64 111.6,377.88 111.7,378.36 111.8,378.79 111.9,379.31 112.0,379.87 112.1,380.06 112.2,380.41 112.3,380.56 112.4,380.87 112.5,381.06 112.6,381.04 112.7,381.18 112.8,381.77 112.9,381.79 113.0,381.98 113.1,381.73 113.2,382.07 113.3,381.89 113.4,382.33 113.5,382.32 113.6,382.64 113.7,382.23 113.8,382.59 113.9,382.85 114.0,382.74 114.1,383.10 114.2,382.73 114.3,382.73 114.4,382.72 114.5,382.49 114.6,382.77 114.7,382.45 114.8,382.30 114.9,381.95 115.0,381.52 115.1,379.73 115.2,378.10 115.4,375.28 115.5,371.84 115.6,366.99 115.7,361.88 115.8,356.94 115.9,353.62 116.0,355.70 116.1,358.50 116.2,361.02 116.3,362.75 116.4,365.42 116.5,367.12 116.6,368.79 116.7,369.90 116.8,371.34 116.9,372.80 117.0,373.51 117.1,374.15 117.2,374.76 117.3,375.93 117.4,376.39 117.5,376.87 117.6,377.48 117.7,377.71 117.8,378.21 117.9,378.53 118.0,379.05 118.1,378.94 118.2,379.50 118.3,379.51 118.4,380.05 118.5,380.07 118.6,380.49 118.7,380.71 118.8,380.82 118.9,380.85 119.0,381.01 119.2,380.81 119.3,381.41 119.4,381.50 119.5,381.09 119.6,381.38 119.7,381.91 119.8,381.55 119.9,381.67 120.0,382.17 120.1,381.91 120.2,381.89 120.3,381.80 120.4,381.78 120.5,381.93 120.6,381.69 120.7,381.75 120.8,381.58 120.9,381.04 121.0,379.85 121.1,378.86 121.2,376.22 121.3,373.49 121.4,369.31 121.5,364.17 121.6,358.47 121.7,353.63 121.8,349.52 121.9,351.21 122.0,354.42 122.1,356.92 122.2,359.93 122.3,361.69 122.4,363.65 122.5,365.49 122.6,366.88 122.7,368.72 122.8,369.57 123.0,371.05 123.1,371.82 123.2,372.94 123.3,373.56 123.4,374.32 123.5,375.41 123.6,375.79 123.7,376.34 123.8,376.87 123.9,377.43 124.0,377.37 124.1,378.05 124.2,378.15 124.3,378.86 124.4,379.24 124.5,379.29 124.6,379.67 124.7,379.35 124.8,379.96 124.9,379.98 125.0,380.42 125.1,380.60 125.2,380.70 125.3,380.78 125.4,380.82 125.5,381.13 125.6,381.35 125.7,381.53 125.8,381.45 125.9,381.43 126.0,381.54 126.1,381.72 126.2,381.90 126.3,381.84 126.4,381.82 126.5,381.97 126.6,381.96 126.8,381.97 126.9,381.67 127.0,381.68 127.1,381.13 127.2,380.36 127.3,379.15 127.4,377.29 127.5,375.00 127.6,371.75 127.7,368.06 127.8,362.98 127.9,357.81 128.0,354.21 128.1,353.04 128.2,355.75 128.3,358.09 128.4,360.48 128.5,362.73 128.6,364.51 128.7,365.99 128.8,367.56 128.9,368.60 129.0,370.08 129.1,371.31 129.2,372.26 129.3,373.34 129.4,374.27 129.5,374.80 129.6,375.41 129.7,376.36 129.8,376.75 129.9,377.23 130.0,377.57 130.1,378.08 130.2,378.33 130.3,378.75 130.4,378.89 130.6,379.69 130.7,379.34 130.8,379.63 130.9,380.11 131.0,380.21 131.1,380.41 131.2,380.84 131.3,380.84 131.4,380.88 131.5,381.11 131.6,381.11 131.7,381.41 131.8,381.53 131.9,381.79 132.0,381.82 132.1,381.93 132.2,381.63 132.3,381.98 132.4,382.29 132.5,382.11 132.6,382.28 132.7,382.87 132.8,382.28 132.9,382.69 133.0,382.33 133.1,382.60 133.2,382.63 133.3,382.12 133.4,382.20 133.5,381.52 133.6,380.62 133.7,379.36 133.8,377.62 133.9,375.40 134.0,372.46 134.1,368.18 134.2,364.37 134.4,359.56 134.5,356.27 134.6,354.83 134.7,357.41 134.8,360.12 134.9,361.96 135.0,363.77 135.1,365.49 135.2,367.20 135.3,368.51 135.4,369.90 135.5,371.19 135.6,371.83 135.7,373.06 135.8,373.56 135.9,374.48 136.0,375.46 136.1,375.97 136.2,376.58 136.3,377.22 136.4,377.46 136.5,378.09 136.6,378.12 136.7,378.63 136.8,379.30 136.9,379.46 137.0,379.79 137.1,380.30 137.2,380.10 137.3,380.32 137.4,380.54 137.5,380.99 137.6,380.90 137.7,381.30 137.8,381.25 137.9,381.24 138.0,381.68 138.2,382.10 138.3,382.02 138.4,381.96 138.5,381.96 138.6,382.49 138.7,382.42 138.8,382.43 138.9,382.48 139.0,382.48 139.1,382.89 139.2,382.87 139.3,382.68 139.4,382.85 139.5,382.90 139.6,382.82 139.7,383.04 139.8,382.96 139.9,383.08 140.0,383.17 140.1,382.97 140.2,382.38 140.3,381.88 140.4,381.12 140.5,379.72 140.6,378.24 140.7,375.81 140.8,373.03 140.9,369.88 141.0,366.57 141.1,362.44 141.2,360.02 141.3,360.97 141.4,362.61 141.5,364.31 141.6,366.11 141.7,367.49 141.8,369.16 142.0,370.21 142.1,371.40 142.2,372.47 142.3,373.43 142.4,374.22 142.5,374.88 142.6,375.87 142.7,376.50 142.8,377.00 142.9,377.61 143.0,378.02 143.1,378.43 143.2,378.75 143.3,379.40 143.4,380.15 143.5,380.08 143.6,380.32 143.7,380.70 143.8,380.96 143.9,381.62 144.0,381.31 144.1,381.67 144.2,382.08 144.3,382.15 144.4,382.32 144.5,382.21 144.6,382.37 144.7,382.33 144.8,382.62 144.9,383.11 145.0,383.24 145.1,382.89 145.2,382.91 145.3,383.34 145.4,383.29 145.5,383.76 145.6,383.92 145.8,383.86 145.9,383.79 146.0,383.89 146.1,383.91 146.2,384.02 146.3,383.87 146.4,383.79 146.5,384.10 146.6,383.78 146.7,384.30 146.8,384.29 146.9,384.11 147.0,384.20 147.1,383.80 147.2,383.92 147.3,383.22 147.4,382.91 147.5,381.71 147.6,381.21 147.7,379.77 147.8,377.94 147.9,376.26 148.0,373.40 148.1,371.03 148.2,368.99 148.3,368.05 148.4,369.36 148.5,370.30 148.6,371.40 148.7,372.43 148.8,373.89 148.9,374.83 149.0,375.54 149.1,376.61 149.2,377.06 149.3,377.44 149.4,377.89 149.6,378.67 149.7,378.92 149.8,379.60 149.9,380.06 150.0,380.50 150.1,380.79 150.2,381.20 150.3,381.47 150.4,381.85 150.5,381.93 150.6,382.21 150.7,382.70 150.8,382.68 150.9,382.98 151.0,383.37 151.1,383.07 151.2,383.02 151.3,383.02 151.4,383.29 151.5,383.86 151.6,383.60 151.7,383.72 151.8,384.38 151.9,383.96 152.0,384.09 152.1,384.26 152.2,384.31 152.3,384.43 152.4,384.21 152.5,384.65 152.6,384.68 152.7,384.70 152.8,384.71 152.9,385.13 153.0,384.61 153.1,384.87 153.2,384.85 153.4,384.97 153.5,385.08 153.6,385.15 153.7,385.10 153.8,385.13 153.9,384.97 154.0,385.14 154.1,385.23 154.2,384.83 154.3,385.38 154.4,385.31 154.5,384.85 154.6,384.71 154.7,384.64 154.8,383.85 154.9,383.21 155.0,381.93 155.1,381.05 155.2,379.29 155.3,377.74 155.4,376.11 155.5,374.38 155.6,372.97 155.7,373.38 155.8,373.92 155.9,374.98 156.0,375.44 156.1,376.67 156.2,377.06 156.3,378.38 156.4,378.38 156.5,379.03 156.6,379.64 156.7,380.08 156.8,380.54 156.9,380.81 157.0,381.28 157.2,381.92 157.3,381.93 157.4,381.78 157.5,382.44 157.6,382.64 157.7,383.00 157.8,383.10 157.9,383.29 158.0,383.55 158.1,383.51 158.2,384.00 158.3,384.00 158.4,384.01 158.5,384.28 158.6,384.57 158.7,384.36 158.8,384.74 158.9,384.74 159.0,384.90 159.1,384.85 159.2,384.99 159.3,385.07 159.4,384.93 159.5,384.80 159.6,385.25 159.7,385.15 159.8,385.36 159.9,385.34 160.0,385.20 160.1,385.44 160.2,385.65 160.3,385.67 160.4,385.70 160.5,385.63 160.6,385.50 160.7,385.95 160.8,385.92 161.0,385.93 161.1,386.12 161.2,385.58 161.3,385.86 161.4,385.53 161.5,386.16 161.6,385.68 161.7,386.05 161.8,385.99 161.9,386.07 162.0,386.02 162.1,385.99 162.2,385.57 162.3,385.63 162.4,385.13 162.5,384.65 162.6,383.95 162.7,383.32 162.8,382.37 162.9,381.26 163.0,380.17 163.1,378.87 163.2,377.97 163.3,377.09 163.4,376.74 163.5,377.79 163.6,378.57 163.7,378.78 163.8,379.61 163.9,380.20 164.0,380.81 164.1,380.83 164.2,381.57 164.3,381.83 164.4,381.95 164.5,382.35 164.6,382.68 164.8,382.97 164.9,382.97 165.0,383.00 165.1,383.71 165.2,383.70 165.3,383.64 165.4,383.96 165.5,384.44 165.6,384.54 165.7,384.70 165.8,384.88 165.9,384.95 166.0,384.89 166.1,385.15 166.2,384.98 166.3,385.21 166.4,385.38 166.5,385.23 166.6,385.40 166.7,385.48 166.8,385.41 166.9,385.55 167.0,385.73 167.1,385.60 167.2,385.76 167.3,385.34 167.4,385.71 167.5,385.75 167.6,385.76 167.7,386.02 167.8,385.83 167.9,386.10 168.0,386.29 168.1,386.28 168.2,386.11 168.3,386.52 168.4,386.22 168.6,386.42 168.7,386.18 168.8,386.48 168.9,386.02 169.0,386.25 169.1,386.64 169.2,386.11 169.3,386.49 169.4,386.59 169.5,386.66 169.6,386.38 169.7,386.21 169.8,386.58 169.9,386.64 170.0,386.62 170.1,386.07 170.2,385.93 170.3,386.13 170.4,385.75 170.5,385.54 170.6,385.14 170.7,384.44 170.8,383.90 170.9,383.19 171.0,382.48 171.1,381.42 171.2,380.80 171.3,380.07 171.4,379.80 171.5,380.57 171.6,380.87 171.7,381.30 171.8,381.62 171.9,382.20 172.0,382.56 172.1,382.36 172.2,382.73 172.4,383.05 172.5,383.13 172.6,383.61 172.7,383.92 172.8,384.01 172.9,384.63 173.0,384.66 173.1,384.48 173.2,384.76 173.3,385.13 173.4,384.91 173.5,384.96 173.6,385.13 173.7,385.36 173.8,385.61 173.9,385.52 174.0,385.55 174.1,385.77 174.2,385.67 174.3,385.79 174.4,385.85 174.5,386.34 174.6,385.83 174.7,385.77 174.8,386.21 174.9,386.45 175.0,386.11 175.1,386.35 175.2,386.48 175.3,386.12 175.4,386.63 175.5,386.28 175.6,386.67 175.7,386.20 175.8,386.40 175.9,386.57 176.0,386.52 176.2,386.47 176.3,386.45 176.4,386.47 176.5,386.54 176.6,386.75 176.7,386.56 176.8,386.94 176.9,386.53 177.0,386.57 177.1,386.50 177.2,386.87 177.3,386.75 177.4,386.64 177.5,386.75 177.6,386.90 177.7,386.77 177.8,386.82 177.9,386.66 178.0,386.96 178.1,386.77 178.2,386.77 178.3,386.66 178.4,386.76 178.5,386.65 178.6,386.59 178.7,386.42 178.8,386.23 178.9,386.03 179.0,385.12 179.1,385.37 179.2,384.93 179.3,384.28 179.4,383.63 179.5,382.85 179.6,381.97 179.7,381.41 179.8,381.44 180.0,382.33 180.1,382.15 180.2,382.79 180.3,382.95 180.4,383.35 180.5,383.32 180.6,383.76 180.7,383.73 180.8,384.00 180.9,384.32 181.0,384.45 181.1,384.46 181.2,384.85 181.3,384.77 181.4,385.07 181.5,385.15 181.6,385.17 181.7,385.18 181.8,385.44 181.9,385.62 182.0,385.59 182.1,386.08 182.2,385.58 182.3,386.20 182.4,385.86 182.5,386.19 182.6,386.06 182.7,386.23 182.8,386.20 182.9,386.46 183.0,386.75 183.1,386.33 183.2,386.55 183.3,386.60 183.4,386.65 183.5,386.20 183.6,386.70 183.8,386.56 183.9,386.86 184.0,386.40 184.1,386.81 184.2,387.21 184.3,386.26 184.4,386.98 184.5,386.56 184.6,386.69 184.7,386.72 184.8,386.90 184.9,386.85 185.0,386.67 185.1,386.97 185.2,386.88 185.3,386.78 185.4,386.94 185.5,387.05 185.6,386.72 185.7,386.94 185.8,387.04 185.9,387.17 186.0,387.22 186.1,386.88 186.2,386.88 186.3,387.46 186.4,387.19 186.5,386.90 186.6,386.64 186.7,386.69 186.8,386.91 186.9,386.82 187.0,387.15 187.1,386.89 187.2,387.21 187.3,387.02 187.4,386.77 187.6,386.30 187.7,386.39 187.8,386.26 187.9,386.07 188.0,385.95 188.1,385.21 188.2,384.94 188.3,384.36 188.4,384.07 188.5,383.42 188.6,383.34 188.7,382.77 188.8,382.90 188.9,383.24 189.0,383.27 189.1,383.83 189.2,384.01 189.3,384.21 189.4,384.65 189.5,384.27 189.6,384.65 189.7,385.03 189.8,385.29 189.9,385.15 190.0,385.23 190.1,385.47 190.2,385.57 190.3,385.74 190.4,385.80 190.5,385.65 190.6,385.72 190.7,386.33 190.8,386.10 190.9,386.41 191.0,386.50 191.1,386.21 191.2,386.53 191.4,387.00 191.5,386.36 191.6,386.29 191.7,386.20 191.8,386.68 191.9,386.39 192.0,387.16 192.1,386.91 192.2,386.66 192.3,386.70 192.4,386.57 192.5,386.67 192.6,386.89 192.7,386.62 192.8,386.79 192.9,386.63 193.0,387.11 193.1,386.93 193.2,387.08 193.3,386.87 193.4,387.08 193.5,387.10 193.6,387.31 193.7,387.03 193.8,386.90 193.9,386.93 194.0,387.68 194.1,387.44 194.2,386.79 194.3,387.20 194.4,387.21 194.5,386.98 194.6,387.16 194.7,387.32 194.8,387.26 194.9,386.88 195.0,387.49 195.2,387.01 195.3,387.31 195.4,387.31 195.5,386.93 195.6,387.39 195.7,387.13 195.8,387.35 195.9,387.55 196.0,387.32 196.1,387.07 196.2,387.31 196.3,387.16 196.4,387.20 196.5,387.18 196.6,387.21 196.7,387.04 196.8,387.33 196.9,386.92 197.0,387.00 197.1,386.41 197.2,386.15 197.3,386.08 197.4,385.46 197.5,385.18 197.6,384.83 197.7,384.60 197.8,384.14 197.9,383.82 198.0,384.24 198.1,384.47 198.2,384.29 198.3,385.11 198.4,385.33 198.5,385.34 198.6,385.12 198.7,385.26 198.8,385.33 198.9,385.53 199.1,385.37 199.2,385.47 199.3,385.64 199.4,386.16 199.5,385.97 199.6,386.27 199.7,386.28 199.8,386.45 199.9,386.33 200.0,386.30 200.1,386.44 200.2,386.73 200.3,386.84 200.4,386.75 200.5,386.80 200.6,386.56 200.7,386.80 200.8,386.82 200.9,386.85 201.0,386.66 201.1,386.59 201.2,386.84 201.3,387.00 201.4,386.72 201.5,386.93 201.6,387.11 201.7,386.87 201.8,387.04 201.9,387.36 202.0,387.00 202.1,387.08 202.2,387.50 202.3,387.57 202.4,387.17 202.5,387.08 202.6,387.11 202.7,387.48 202.9,387.31 203.0,387.14 203.1,387.56 203.2,387.27 203.3,387.26 203.4,387.14 203.5,387.77 203.6,387.31 203.7,386.97 203.8,387.47 203.9,387.42 204.0,387.20 204.1,387.52 204.2,387.18 204.3,387.30 204.4,387.69 204.5,387.39 204.6,387.68 204.7,387.25 204.8,387.74 204.9,387.77 205.0,387.65 205.1,387.59 205.2,387.21 205.3,387.46 205.4,387.41 205.5,387.27 205.6,387.59 205.7,387.57 205.8,387.61 205.9,387.30 206.0,387.13 206.1,387.36 206.2,387.48 206.3,387.42 206.4,387.46 206.5,387.05 206.7,387.27 206.8,387.00 206.9,387.01 207.0,386.96 207.1,386.87 207.2,386.33 207.3,385.88 207.4,385.72 207.5,385.46 207.6,385.40 207.7,385.24 207.8,385.33 207.9,385.24 208.0,385.04 208.1,385.56 208.2,385.90 208.3,385.53 208.4,386.05 208.5,385.86 208.6,386.14 208.7,386.13 208.8,385.60 208.9,386.44 209.0,386.48 209.1,386.37 209.2,386.51 209.3,386.64 209.4,386.75 209.5,386.57 209.6,386.53 209.7,386.95 209.8,387.02 209.9,386.52 210.0,387.16 210.1,386.80 210.2,386.89 210.3,387.21 210.5,386.90 210.6,387.27 210.7,387.29 210.8,387.37 210.9,386.99 211.0,387.25 211.1,386.99 211.2,387.36 211.3,387.12 211.4,387.00 211.5,387.29 211.6,387.49 211.7,387.37 211.8,387.09 211.9,387.20 212.0,387.42 212.1,387.68 212.2,387.25 212.3,387.09 212.4,387.10 212.5,387.33 212.6,387.46 212.7,387.58 212.8,387.55 212.9,387.75 213.0,387.07 213.1,387.48 213.2,387.04 213.3,387.50 213.4,387.79 213.5,387.16 213.6,387.67 213.7,387.60 213.8,387.22 213.9,387.26 214.0,387.91 214.1,387.54 214.3,387.75 214.4,387.45 214.5,387.23 214.6,387.66 214.7,387.30 214.8,387.74 214.9,387.18 215.0,387.73 215.1,387.67 215.2,387.54 215.3,387.85 215.4,387.31 215.5,387.79 215.6,387.49 215.7,387.84 215.8,387.58 215.9,387.60 216.0,387.67 216.1,387.50 216.2,387.78 216.3,387.28 216.4,387.50 216.5,388.01 216.6,387.10 216.7,387.33 216.8,387.06 216.9,387.29 217.0,387.57 217.1,387.11 217.2,387.12 217.3,386.75 217.4,386.65 217.5,386.35 217.6,386.52 217.7,386.02 217.8,385.96 217.9,385.66 218.1,386.13 218.2,386.00 218.3,385.72 218.4,386.33 218.5,386.06 218.6,386.04 218.7,386.36 218.8,386.25 218.9,386.30 219.0,386.27 219.1,386.69 219.2,386.70 219.3,386.58 219.4,386.92 219.5,386.82 219.6,387.00 219.7,387.34 219.8,386.89 219.9,386.68 220.0,387.10 220.1,387.05 220.2,387.18 220.3,387.26 220.4,387.13 220.5,386.99 220.6,386.81 220.7,387.08 220.8,387.43 220.9,387.54 221.0,387.06 221.1,387.26 221.2,387.45 221.3,387.55 221.4,387.52 221.5,387.17 221.6,387.41 221.7,387.68 221.9,387.28 222.0,387.39 222.1,387.52 222.2,387.36 222.3,387.64 222.4,387.32 222.5,387.77 222.6,387.68 222.7,387.78 222.8,387.61 222.9,387.68 223.0,387.62 223.1,387.56 223.2,387.47 223.3,387.55 223.4,387.54 223.5,387.30 223.6,387.65 223.7,387.87 223.8,387.44 223.9,387.28 224.0,387.59 224.1,387.48 224.2,387.75 224.3,387.61 224.4,387.53 224.5,387.58 224.6,387.75 224.7,387.36 224.8,387.63 224.9,387.50 225.0,387.60 225.1,387.52 225.2,387.51 225.3,387.72 225.4,387.53 225.5,387.30 225.7,387.33 225.8,387.56 225.9,387.39 226.0,387.94 226.1,387.44 226.2,387.69 226.3,388.03 226.4,387.68 226.5,387.53 226.6,387.84 226.7,387.35 226.8,387.46 226.9,387.93 227.0,387.50 227.1,387.65 227.2,387.76 227.3,387.69 227.4,387.68 227.5,387.79 227.6,387.60 227.7,387.33 227.8,387.13 227.9,387.04 228.0,387.32 228.1,387.13 228.2,387.14 228.3,386.68 228.4,387.04 228.5,386.87 228.6,386.63 228.7,386.38 228.8,386.47 228.9,386.48 229.0,386.54 229.1,386.57 229.2,386.86 229.3,386.79 229.5,386.68 229.6,386.78 229.7,386.68 229.8,387.06 229.9,386.81 230.0,386.74 230.1,387.08 230.2,387.04 230.3,387.08 230.4,387.06 230.5,387.11 230.6,386.95 230.7,387.15 230.8,387.11 230.9,387.23 231.0,387.51 231.1,387.26 231.2,387.40 231.3,387.50 231.4,387.57 231.5,387.43 231.6,387.55 231.7,387.08 231.8,387.18 231.9,387.54 232.0,387.37 232.1,387.30 232.2,387.56 232.3,387.20 232.4,387.38 232.5,387.58 232.6,387.90 232.7,387.76 232.8,387.54 232.9,387.68 233.0,387.62 233.1,387.77 233.3,387.58 233.4,387.72 233.5,387.93 233.6,387.71 233.7,387.76 233.8,387.95 233.9,387.41 234.0,387.69 234.1,387.74 234.2,387.55 234.3,387.71 234.4,387.56 234.5,387.98 234.6,387.90 234.7,387.62 234.8,387.45 234.9,387.72 235.0,387.69 235.1,387.88 235.2,387.74 235.3,387.87 235.4,387.77 235.5,387.62 235.6,388.11 235.7,387.71 235.8,387.90 235.9,387.88 236.0,387.56 236.1,387.71 236.2,387.60 236.3,388.09 236.4,387.85 236.5,387.86 236.6,387.89 236.7,387.70 236.8,387.62 236.9,387.99 237.1,387.96 237.2,388.02 237.3,387.58 237.4,387.89 237.5,387.81 237.6,387.86 237.7,387.97 237.8,387.73 237.9,387.73 238.0,387.62 238.1,387.83 238.2,387.84 238.3,387.89 238.4,387.50 238.5,387.58 238.6,387.76 238.7,387.61 238.8,387.82 238.9,387.31 239.0,387.75 239.1,387.67 239.2,387.62 239.3,387.18 239.4,387.40 239.5,387.16 239.6,387.30 239.7,387.42 239.8,386.97 239.9,387.14 240.0,387.20 240.1,386.97 240.2,386.75 240.3,386.58 240.4,387.20 240.5,387.40 240.6,386.87 240.7,387.02 240.9,387.22 241.0,387.07 241.1,387.05 241.2,386.86 241.3,387.27 241.4,387.04 241.5,387.38 241.6,387.42 241.7,387.27 241.8,387.58 241.9,387.63 242.0,387.24 242.1,387.80 242.2,387.44 242.3,387.53 242.4,387.56 242.5,387.75 242.6,387.90 242.7,387.66 242.8,387.77 242.9,387.65 243.0,387.56 243.1,387.73 243.2,387.80 243.3,387.56 243.4,387.77 243.5,387.81 243.6,387.70 243.7,387.60 243.8,387.28 243.9,387.38 244.0,387.91 244.1,387.93 244.2,387.69 244.3,387.60 244.4,387.73 244.5,387.32 244.7,387.51 244.8,387.43 244.9,387.81 245.0,387.90 245.1,387.94 245.2,387.77 245.3,387.99 245.4,387.88 245.5,387.84 245.6,387.60 245.7,387.86 245.8,388.03 245.9,387.86 246.0,387.75 246.1,387.69 246.2,387.96 246.3,387.68 246.4,387.55 246.5,387.71 246.6,387.76 246.7,387.89 246.8,387.92 246.9,388.18 247.0,387.71 247.1,387.88 247.2,387.79 247.3,387.73 247.4,387.97 247.5,387.64 247.6,387.81 247.7,387.56 247.8,387.80 247.9,387.78 248.0,387.89 248.1,387.57 248.2,388.22 248.3,387.94 248.5,387.90 248.6,388.12 248.7,387.99 248.8,388.24 248.9,387.81 249.0,388.11" fill="none" stroke="#0a0a0a" stroke-width="0.85" stroke-linejoin="round"/>
<text transform="translate(90.94 372.82) rotate(-90)" font-size="4.8" fill="#333" stroke="#333" stroke-width="0.16">2647.7897</text>
<text transform="translate(101.00 365.35) rotate(-90)" font-size="4.8" fill="#333" stroke="#333" stroke-width="0.16">2745.7714</text>
<text transform="translate(111.85 358.65) rotate(-90)" font-size="4.8" fill="#333" stroke="#333" stroke-width="0.16">2851.3689</text>
<text transform="translate(123.55 348.27) rotate(-90)" font-size="4.8" fill="#333" stroke="#333" stroke-width="0.16">2965.2916</text>
<text transform="translate(129.77 351.89) rotate(-90)" font-size="4.8" fill="#333" stroke="#333" stroke-width="0.16">3025.9168</text>
<text transform="translate(136.24 354.06) rotate(-90)" font-size="4.8" fill="#333" stroke="#333" stroke-width="0.16">3088.8142</text>
<text transform="translate(142.99 358.90) rotate(-90)" font-size="4.8" fill="#333" stroke="#333" stroke-width="0.16">3157.8785</text>
<text transform="translate(150.03 367.20) rotate(-90)" font-size="4.8" fill="#333" stroke="#333" stroke-width="0.16">3222.9082</text>
<text transform="translate(157.38 371.88) rotate(-90)" font-size="4.8" fill="#333" stroke="#333" stroke-width="0.16">3299.4961</text>
<text x="4.20" y="435.90" font-size="13.0" fill="#000" stroke="#000" stroke-width="0.3">E1</text>
<text x="37.00" y="493.35" font-size="4.8" text-anchor="end" fill="#262626" stroke="#262626" stroke-width="0.16">0</text>
<text x="37.00" y="486.01" font-size="4.8" text-anchor="end" fill="#262626" stroke="#262626" stroke-width="0.16">0.5</text>
<text x="37.00" y="478.68" font-size="4.8" text-anchor="end" fill="#262626" stroke="#262626" stroke-width="0.16">1</text>
<text x="37.00" y="471.34" font-size="4.8" text-anchor="end" fill="#262626" stroke="#262626" stroke-width="0.16">1.5</text>
<text x="37.00" y="464.01" font-size="4.8" text-anchor="end" fill="#262626" stroke="#262626" stroke-width="0.16">2</text>
<text x="37.00" y="456.67" font-size="4.8" text-anchor="end" fill="#262626" stroke="#262626" stroke-width="0.16">2.5</text>
<text x="37.00" y="449.34" font-size="4.8" text-anchor="end" fill="#262626" stroke="#262626" stroke-width="0.16">3</text>
<text x="37.00" y="442.00" font-size="4.8" text-anchor="end" fill="#262626" stroke="#262626" stroke-width="0.16">3.5</text>
<text x="37.00" y="434.67" font-size="4.8" text-anchor="end" fill="#262626" stroke="#262626" stroke-width="0.16">4</text>
<text x="33.20" y="427.60" font-size="4.6" text-anchor="end" fill="#262626" stroke="#262626" stroke-width="0.16">x10</text>
<text x="34.80" y="426.30" font-size="3.8" fill="#262626" stroke="#262626" stroke-width="0.16">3</text>
<text x="62.20" y="499.90" font-size="5.1" text-anchor="middle" fill="#262626" stroke="#262626" stroke-width="0.16">2400</text>
<text x="82.76" y="499.90" font-size="5.1" text-anchor="middle" fill="#262626" stroke="#262626" stroke-width="0.16">2600</text>
<text x="103.32" y="499.90" font-size="5.1" text-anchor="middle" fill="#262626" stroke="#262626" stroke-width="0.16">2800</text>
<text x="123.88" y="499.90" font-size="5.1" text-anchor="middle" fill="#262626" stroke="#262626" stroke-width="0.16">3000</text>
<text x="144.44" y="499.90" font-size="5.1" text-anchor="middle" fill="#262626" stroke="#262626" stroke-width="0.16">3200</text>
<text x="165.00" y="499.90" font-size="5.1" text-anchor="middle" fill="#262626" stroke="#262626" stroke-width="0.16">3400</text>
<text x="185.56" y="499.90" font-size="5.1" text-anchor="middle" fill="#262626" stroke="#262626" stroke-width="0.16">3600</text>
<text x="206.12" y="499.90" font-size="5.1" text-anchor="middle" fill="#262626" stroke="#262626" stroke-width="0.16">3800</text>
<text x="226.68" y="499.90" font-size="5.1" text-anchor="middle" fill="#262626" stroke="#262626" stroke-width="0.16">4000</text>
<text x="144.00" y="505.00" font-size="4.95" text-anchor="middle" fill="#262626" stroke="#262626" stroke-width="0.16">Counts vs. Mass-to-Charge (m/z)</text>
<polyline points="39.8,489.72 39.9,489.69 40.0,489.74 40.1,490.08 40.2,489.94 40.3,490.65 40.4,490.07 40.5,490.61 40.6,490.50 40.7,490.67 40.8,490.42 40.9,491.08 41.0,490.81 41.1,490.85 41.2,490.61 41.3,491.02 41.4,490.88 41.5,491.02 41.7,490.87 41.8,490.78 41.9,491.09 42.0,490.70 42.1,490.75 42.2,490.82 42.3,490.76 42.4,491.04 42.5,490.95 42.6,491.09 42.7,490.95 42.8,490.76 42.9,490.86 43.0,490.57 43.1,490.23 43.2,489.76 43.3,489.37 43.4,489.55 43.5,490.00 43.6,489.96 43.7,489.87 43.8,490.16 43.9,490.43 44.0,490.64 44.1,490.68 44.2,490.31 44.3,490.64 44.4,490.80 44.5,490.69 44.6,490.38 44.7,490.75 44.8,490.68 44.9,490.75 45.0,490.88 45.1,491.03 45.2,490.90 45.4,490.89 45.5,490.76 45.6,490.72 45.7,490.71 45.8,490.82 45.9,490.72 46.0,491.01 46.1,490.64 46.2,490.74 46.3,490.78 46.4,490.44 46.5,490.18 46.6,489.45 46.7,488.83 46.8,488.69 46.9,489.64 47.0,489.91 47.1,489.95 47.2,490.01 47.3,490.02 47.4,490.23 47.5,490.73 47.6,490.50 47.7,490.37 47.8,490.52 47.9,490.47 48.0,490.68 48.1,490.70 48.2,490.66 48.3,490.64 48.4,490.70 48.5,490.73 48.6,490.88 48.7,490.71 48.8,490.76 48.9,490.59 49.1,490.59 49.2,490.77 49.3,490.88 49.4,490.93 49.5,490.74 49.6,490.79 49.7,490.84 49.8,490.69 49.9,490.64 50.0,490.09 50.1,489.78 50.2,488.83 50.3,488.45 50.4,488.72 50.5,489.35 50.6,489.41 50.7,489.53 50.8,490.02 50.9,490.05 51.0,490.12 51.1,490.47 51.2,490.25 51.3,490.23 51.4,490.59 51.5,490.42 51.6,490.76 51.7,490.57 51.8,490.87 51.9,490.41 52.0,490.56 52.1,490.65 52.2,490.80 52.3,490.45 52.4,490.34 52.5,491.02 52.7,490.49 52.8,490.42 52.9,490.66 53.0,490.93 53.1,490.57 53.2,490.75 53.3,490.80 53.4,490.85 53.5,490.41 53.6,490.09 53.7,489.88 53.8,489.00 53.9,488.54 54.0,487.86 54.1,488.45 54.2,488.86 54.3,489.14 54.4,489.22 54.5,489.45 54.6,489.65 54.7,489.86 54.8,489.98 54.9,489.98 55.0,490.13 55.1,490.12 55.2,490.35 55.3,490.77 55.4,490.19 55.5,490.02 55.6,490.36 55.7,490.48 55.8,490.50 55.9,490.51 56.0,490.50 56.1,490.72 56.2,490.62 56.4,490.71 56.5,490.50 56.6,490.60 56.7,490.47 56.8,490.59 56.9,490.38 57.0,490.50 57.1,490.10 57.2,490.71 57.3,490.24 57.4,489.50 57.5,488.46 57.6,487.93 57.7,486.84 57.8,486.73 57.9,487.08 58.0,487.87 58.1,488.12 58.2,488.65 58.3,489.10 58.4,489.06 58.5,489.23 58.6,489.25 58.7,489.64 58.8,489.85 58.9,489.74 59.0,489.87 59.1,489.94 59.2,490.06 59.3,489.89 59.4,490.08 59.5,489.84 59.6,490.02 59.7,490.12 59.8,490.55 59.9,490.18 60.1,490.23 60.2,490.18 60.3,490.15 60.4,490.42 60.5,490.21 60.6,490.46 60.7,490.03 60.8,490.60 60.9,490.65 61.0,490.57 61.1,490.29 61.2,490.02 61.3,488.92 61.4,488.45 61.5,487.48 61.6,485.89 61.7,486.03 61.8,486.84 61.9,487.04 62.0,487.57 62.1,488.15 62.2,488.16 62.3,488.66 62.4,488.63 62.5,489.02 62.6,489.00 62.7,489.39 62.8,489.74 62.9,489.19 63.0,489.81 63.1,489.82 63.2,489.96 63.3,489.93 63.4,489.89 63.5,489.94 63.6,489.89 63.8,489.72 63.9,490.08 64.0,490.30 64.1,490.31 64.2,490.23 64.3,490.43 64.4,490.00 64.5,490.24 64.6,490.21 64.7,490.16 64.8,490.40 64.9,490.27 65.0,489.92 65.1,489.74 65.2,489.55 65.3,488.47 65.4,487.95 65.5,486.34 65.6,484.77 65.7,484.47 65.8,484.57 65.9,485.62 66.0,486.52 66.1,486.52 66.2,487.23 66.3,487.65 66.4,488.15 66.5,488.30 66.6,488.81 66.7,488.60 66.8,488.97 66.9,489.02 67.0,488.95 67.1,489.22 67.2,489.31 67.4,489.38 67.5,489.62 67.6,489.40 67.7,489.33 67.8,489.51 67.9,489.52 68.0,489.87 68.1,489.89 68.2,490.02 68.3,489.57 68.4,489.85 68.5,489.58 68.6,489.97 68.7,489.92 68.8,489.84 68.9,489.69 69.0,489.81 69.1,489.71 69.2,489.57 69.3,489.18 69.4,488.75 69.5,487.45 69.6,485.94 69.7,484.05 69.8,482.30 69.9,482.80 70.0,483.73 70.1,484.65 70.2,485.26 70.3,485.82 70.4,486.65 70.5,486.83 70.6,486.94 70.7,487.89 70.8,488.05 70.9,488.29 71.1,488.38 71.2,488.21 71.3,488.64 71.4,488.89 71.5,488.77 71.6,489.08 71.7,488.86 71.8,489.07 71.9,488.94 72.0,489.36 72.1,488.76 72.2,489.19 72.3,489.25 72.4,489.41 72.5,489.56 72.6,489.61 72.7,489.50 72.8,489.64 72.9,489.46 73.0,489.67 73.1,489.42 73.2,489.35 73.3,489.59 73.4,489.13 73.5,489.12 73.6,488.37 73.7,487.60 73.8,486.07 73.9,484.50 74.0,482.09 74.1,479.93 74.2,480.86 74.3,482.34 74.4,483.36 74.5,484.35 74.6,485.03 74.8,485.37 74.9,485.61 75.0,486.38 75.1,486.64 75.2,487.06 75.3,487.33 75.4,487.61 75.5,487.82 75.6,487.90 75.7,488.35 75.8,488.10 75.9,488.24 76.0,488.54 76.1,488.45 76.2,488.80 76.3,488.84 76.4,488.78 76.5,488.90 76.6,488.99 76.7,489.08 76.8,489.09 76.9,488.86 77.0,489.40 77.1,489.02 77.2,489.15 77.3,489.00 77.4,489.05 77.5,489.64 77.6,489.03 77.7,489.03 77.8,488.95 77.9,488.75 78.0,487.98 78.1,487.26 78.2,485.37 78.4,483.47 78.5,480.61 78.6,478.64 78.7,478.21 78.8,479.30 78.9,480.58 79.0,481.84 79.1,483.07 79.2,483.69 79.3,484.19 79.4,484.93 79.5,485.43 79.6,485.88 79.7,486.39 79.8,486.65 79.9,487.09 80.0,486.77 80.1,487.38 80.2,487.39 80.3,487.82 80.4,487.64 80.5,488.23 80.6,487.85 80.7,488.11 80.8,487.82 80.9,488.49 81.0,488.31 81.1,488.32 81.2,488.22 81.3,488.56 81.4,488.51 81.5,488.93 81.6,488.74 81.7,488.54 81.8,488.45 81.9,488.71 82.1,488.31 82.2,488.36 82.3,488.65 82.4,488.96 82.5,488.64 82.6,488.03 82.7,486.91 82.8,485.74 82.9,484.17 83.0,481.14 83.1,477.66 83.2,475.13 83.3,474.96 83.4,476.28 83.5,478.19 83.6,479.62 83.7,480.62 83.8,481.66 83.9,482.59 84.0,483.03 84.1,483.68 84.2,484.28 84.3,484.92 84.4,485.11 84.5,485.68 84.6,485.90 84.7,486.07 84.8,486.35 84.9,486.38 85.0,486.80 85.1,487.34 85.2,487.39 85.3,487.07 85.4,487.48 85.5,487.45 85.6,487.75 85.8,487.51 85.9,487.82 86.0,487.56 86.1,487.97 86.2,487.73 86.3,487.85 86.4,488.14 86.5,487.85 86.6,488.24 86.7,488.25 86.8,487.99 86.9,488.23 87.0,488.20 87.1,488.06 87.2,487.97 87.3,487.18 87.4,486.49 87.5,485.31 87.6,483.31 87.7,480.40 87.8,476.69 87.9,473.25 88.0,471.03 88.1,472.62 88.2,474.71 88.3,476.40 88.4,477.48 88.5,479.13 88.6,480.22 88.7,481.41 88.8,482.13 88.9,482.51 89.0,483.32 89.1,483.64 89.2,484.40 89.3,484.74 89.5,484.85 89.6,485.02 89.7,485.45 89.8,485.59 89.9,485.71 90.0,486.02 90.1,486.53 90.2,486.54 90.3,486.54 90.4,486.84 90.5,486.79 90.6,487.25 90.7,487.20 90.8,487.03 90.9,487.59 91.0,487.45 91.1,487.32 91.2,487.67 91.3,487.40 91.4,487.59 91.5,487.54 91.6,487.56 91.7,487.50 91.8,487.62 91.9,487.47 92.0,487.46 92.1,486.99 92.2,486.28 92.3,485.62 92.4,484.12 92.5,482.05 92.6,478.52 92.7,474.80 92.8,470.61 92.9,467.16 93.1,468.56 93.2,470.70 93.3,472.64 93.4,474.73 93.5,476.12 93.6,477.15 93.7,478.44 93.8,479.49 93.9,480.26 94.0,481.36 94.1,481.81 94.2,482.26 94.3,482.74 94.4,483.62 94.5,483.93 94.6,484.17 94.7,484.60 94.8,484.90 94.9,484.95 95.0,485.36 95.1,485.80 95.2,485.60 95.3,485.90 95.4,486.09 95.5,486.36 95.6,486.02 95.7,486.70 95.8,486.70 95.9,486.53 96.0,486.34 96.1,486.40 96.2,486.90 96.3,486.78 96.4,487.07 96.5,486.67 96.6,487.15 96.8,486.95 96.9,486.75 97.0,486.96 97.1,486.59 97.2,486.82 97.3,486.24 97.4,485.48 97.5,484.50 97.6,482.40 97.7,479.84 97.8,476.58 97.9,471.19 98.0,467.22 98.1,463.93 98.2,465.80 98.3,468.05 98.4,470.33 98.5,472.05 98.6,473.78 98.7,474.98 98.8,476.57 98.9,477.63 99.0,478.65 99.1,479.61 99.2,480.38 99.3,480.83 99.4,481.48 99.5,482.26 99.6,482.81 99.7,483.04 99.8,483.19 99.9,483.72 100.0,483.70 100.1,484.40 100.2,484.47 100.3,485.15 100.5,485.00 100.6,485.11 100.7,485.12 100.8,485.04 100.9,485.46 101.0,485.32 101.1,485.56 101.2,485.60 101.3,485.93 101.4,485.68 101.5,486.19 101.6,485.97 101.7,486.28 101.8,486.26 101.9,486.47 102.0,486.34 102.1,486.21 102.2,486.28 102.3,486.45 102.4,485.81 102.5,485.72 102.6,485.05 102.7,484.12 102.8,482.80 102.9,480.62 103.0,477.04 103.1,472.26 103.2,467.54 103.3,462.17 103.4,459.05 103.5,461.40 103.6,464.58 103.7,466.51 103.8,468.88 103.9,470.61 104.1,472.41 104.2,473.77 104.3,475.23 104.4,476.23 104.5,477.64 104.6,478.46 104.7,478.94 104.8,479.78 104.9,480.44 105.0,480.99 105.1,481.36 105.2,482.00 105.3,482.20 105.4,482.81 105.5,483.04 105.6,483.08 105.7,483.32 105.8,483.94 105.9,483.81 106.0,484.33 106.1,484.19 106.2,484.81 106.3,484.81 106.4,484.84 106.5,484.90 106.6,484.73 106.7,484.92 106.8,484.89 106.9,485.04 107.0,485.38 107.1,485.45 107.2,485.28 107.3,485.52 107.4,485.61 107.5,485.85 107.6,485.65 107.8,486.10 107.9,485.60 108.0,485.48 108.1,484.76 108.2,484.21 108.3,482.92 108.4,480.66 108.5,478.19 108.6,474.02 108.7,469.50 108.8,463.67 108.9,458.48 109.0,455.45 109.1,459.05 109.2,461.74 109.3,464.31 109.4,466.64 109.5,468.62 109.6,470.35 109.7,471.94 109.8,473.59 109.9,474.87 110.0,475.32 110.1,476.41 110.2,477.87 110.3,478.33 110.4,479.00 110.5,479.61 110.6,480.27 110.7,480.97 110.8,481.29 110.9,481.75 111.0,482.01 111.1,482.41 111.2,482.68 111.3,482.75 111.5,482.96 111.6,483.61 111.7,483.69 111.8,483.94 111.9,483.75 112.0,484.14 112.1,484.02 112.2,484.49 112.3,484.52 112.4,484.88 112.5,484.52 112.6,484.91 112.7,485.19 112.8,485.12 112.9,485.50 113.0,485.17 113.1,485.21 113.2,485.23 113.3,485.05 113.4,485.37 113.5,485.13 113.6,485.09 113.7,484.89 113.8,484.70 113.9,483.27 114.0,482.08 114.1,479.82 114.2,476.95 114.3,472.59 114.4,467.64 114.5,462.22 114.6,457.28 114.7,454.51 114.8,457.76 114.9,460.67 115.0,462.76 115.2,465.72 115.3,467.69 115.4,469.60 115.5,470.95 115.6,472.57 115.7,474.20 115.8,475.08 115.9,475.87 116.0,476.61 116.1,477.88 116.2,478.45 116.3,479.02 116.4,479.72 116.5,480.03 116.6,480.60 116.7,480.98 116.8,481.56 116.9,481.51 117.0,482.10 117.1,482.17 117.2,482.74 117.3,482.80 117.4,483.25 117.5,483.49 117.6,483.64 117.7,483.69 117.8,483.88 117.9,483.71 118.0,484.31 118.1,484.43 118.2,484.05 118.3,484.34 118.4,484.88 118.5,484.55 118.6,484.68 118.8,485.17 118.9,484.93 119.0,484.94 119.1,484.86 119.2,484.86 119.3,485.04 119.4,484.86 119.5,485.00 119.6,484.96 119.7,484.64 119.8,483.79 119.9,483.25 120.0,481.25 120.1,479.29 120.2,475.99 120.3,471.69 120.4,466.53 120.5,461.55 120.6,456.14 120.7,452.58 120.8,455.30 120.9,458.05 121.0,461.25 121.1,463.21 121.2,465.35 121.3,467.33 121.4,468.86 121.5,470.81 121.6,471.78 121.7,473.34 121.8,474.20 121.9,475.39 122.0,476.09 122.1,476.91 122.2,478.04 122.3,478.47 122.5,479.06 122.6,479.63 122.7,480.21 122.8,480.20 122.9,480.90 123.0,481.03 123.1,481.74 123.2,482.14 123.3,482.21 123.4,482.59 123.5,482.31 123.6,482.91 123.7,482.95 123.8,483.38 123.9,483.57 124.0,483.67 124.1,483.75 124.2,483.80 124.3,484.10 124.4,484.32 124.5,484.50 124.6,484.43 124.7,484.42 124.8,484.53 124.9,484.70 125.0,484.88 125.1,484.83 125.2,484.82 125.3,484.98 125.4,484.99 125.5,485.04 125.6,484.80 125.7,484.90 125.8,484.52 125.9,483.99 126.0,483.12 126.2,481.72 126.3,479.97 126.4,477.34 126.5,474.18 126.6,469.45 126.7,464.15 126.8,459.58 126.9,455.32 127.0,454.39 127.1,457.16 127.2,459.93 127.3,462.51 127.4,464.60 127.5,466.36 127.6,468.18 127.7,469.45 127.8,471.13 127.9,472.53 128.0,473.64 128.1,474.86 128.2,475.92 128.3,476.57 128.4,477.29 128.5,478.33 128.6,478.82 128.7,479.37 128.8,479.79 128.9,480.36 129.0,480.68 129.1,481.14 129.2,481.34 129.3,482.17 129.4,481.89 129.5,482.22 129.6,482.72 129.8,482.86 129.9,483.09 130.0,483.53 130.1,483.57 130.2,483.64 130.3,483.89 130.4,483.91 130.5,484.22 130.6,484.36 130.7,484.64 130.8,484.69 130.9,484.81 131.0,484.54 131.1,484.90 131.2,485.21 131.3,485.05 131.4,485.24 131.5,485.82 131.6,485.27 131.7,485.69 131.8,485.36 131.9,485.66 132.0,485.74 132.1,485.34 132.2,485.54 132.3,485.08 132.4,484.48 132.5,483.62 132.6,482.41 132.7,480.83 132.8,478.60 132.9,475.03 133.0,471.70 133.1,466.99 133.2,463.01 133.3,459.00 133.5,457.81 133.6,460.76 133.7,462.85 133.8,464.89 133.9,466.80 134.0,468.68 134.1,470.15 134.2,471.68 134.3,473.09 134.4,473.87 134.5,475.19 134.6,475.80 134.7,476.80 134.8,477.85 134.9,478.44 135.0,479.12 135.1,479.81 135.2,480.12 135.3,480.79 135.4,480.87 135.5,481.42 135.6,482.11 135.7,482.31 135.8,482.67 135.9,483.21 136.0,483.04 136.1,483.29 136.2,483.53 136.3,483.99 136.4,483.93 136.5,484.34 136.6,484.31 136.7,484.32 136.8,484.77 136.9,485.19 137.0,485.13 137.2,485.08 137.3,485.10 137.4,485.63 137.5,485.56 137.6,485.59 137.7,485.65 137.8,485.65 137.9,486.06 138.0,486.05 138.1,485.88 138.2,486.05 138.3,486.11 138.4,486.05 138.5,486.28 138.6,486.24 138.7,486.40 138.8,486.55 138.9,486.45 139.0,486.04 139.1,485.77 139.2,485.34 139.3,484.38 139.4,483.44 139.5,481.66 139.6,479.57 139.7,477.04 139.8,474.15 139.9,470.04 140.0,466.87 140.1,464.74 140.2,464.34 140.3,466.19 140.4,468.12 140.5,469.62 140.6,471.39 140.7,472.54 140.9,473.82 141.0,474.97 141.1,475.99 141.2,476.85 141.3,477.57 141.4,478.60 141.5,479.29 141.6,479.84 141.7,480.48 141.8,480.93 141.9,481.37 142.0,481.72 142.1,482.39 142.2,483.15 142.3,483.12 142.4,483.37 142.5,483.77 142.6,484.04 142.7,484.70 142.8,484.42 142.9,484.78 143.0,485.20 143.1,485.28 143.2,485.45 143.3,485.36 143.4,485.52 143.5,485.50 143.6,485.79 143.7,486.27 143.8,486.40 143.9,486.07 144.0,486.10 144.1,486.52 144.2,486.47 144.3,486.92 144.5,487.09 144.6,487.03 144.7,486.97 144.8,487.07 144.9,487.09 145.0,487.20 145.1,487.06 145.2,486.99 145.3,487.29 145.4,486.99 145.5,487.50 145.6,487.51 145.7,487.37 145.8,487.49 145.9,487.17 146.0,487.38 146.1,486.83 146.2,486.71 146.3,485.79 146.4,485.60 146.5,484.54 146.6,483.12 146.7,481.81 146.8,479.24 146.9,476.91 147.0,474.53 147.1,472.59 147.2,471.09 147.3,471.64 147.4,472.91 147.5,474.08 147.6,475.66 147.7,476.72 147.8,477.54 147.9,478.71 148.0,479.26 148.2,479.73 148.3,480.25 148.4,481.10 148.5,481.42 148.6,482.15 148.7,482.65 148.8,483.15 148.9,483.48 149.0,483.93 149.1,484.24 149.2,484.64 149.3,484.77 149.4,485.08 149.5,485.58 149.6,485.59 149.7,485.91 149.8,486.31 149.9,486.05 150.0,486.03 150.1,486.04 150.2,486.33 150.3,486.90 150.4,486.66 150.5,486.79 150.6,487.45 150.7,487.06 150.8,487.20 150.9,487.37 151.0,487.44 151.1,487.56 151.2,487.36 151.3,487.79 151.4,487.83 151.5,487.86 151.6,487.87 151.7,488.29 151.9,487.80 152.0,488.06 152.1,488.05 152.2,488.16 152.3,488.28 152.4,488.35 152.5,488.32 152.6,488.35 152.7,488.21 152.8,488.38 152.9,488.49 153.0,488.13 153.1,488.70 153.2,488.68 153.3,488.32 153.4,488.30 153.5,488.37 153.6,487.81 153.7,487.44 153.8,486.49 153.9,485.97 154.0,484.61 154.1,483.41 154.2,482.01 154.3,480.32 154.4,478.62 154.5,477.71 154.6,476.56 154.7,477.68 154.8,478.20 154.9,479.47 155.0,479.91 155.1,481.26 155.2,481.31 155.3,482.00 155.5,482.63 155.6,483.10 155.7,483.59 155.8,483.89 155.9,484.37 156.0,485.02 156.1,485.07 156.2,484.94 156.3,485.61 156.4,485.82 156.5,486.19 156.6,486.31 156.7,486.51 156.8,486.78 156.9,486.76 157.0,487.23 157.1,487.25 157.2,487.28 157.3,487.55 157.4,487.84 157.5,487.64 157.6,488.02 157.7,488.02 157.8,488.19 157.9,488.15 158.0,488.29 158.1,488.37 158.2,488.24 158.3,488.12 158.4,488.56 158.5,488.47 158.6,488.68 158.7,488.66 158.8,488.53 158.9,488.77 159.0,488.97 159.2,489.00 159.3,489.02 159.4,488.96 159.5,488.84 159.6,489.27 159.7,489.25 159.8,489.27 159.9,489.44 160.0,488.94 160.1,489.21 160.2,488.89 160.3,489.50 160.4,489.05 160.5,489.42 160.6,489.38 160.7,489.48 160.8,489.46 160.9,489.50 161.0,489.16 161.1,489.32 161.2,488.97 161.3,488.69 161.4,488.23 161.5,487.87 161.6,487.23 161.7,486.44 161.8,485.64 161.9,484.55 162.0,483.69 162.1,482.60 162.2,481.24 162.3,481.20 162.4,481.97 162.5,482.20 162.6,483.02 162.7,483.61 162.9,484.22 163.0,484.26 163.1,484.98 163.2,485.25 163.3,485.38 163.4,485.77 163.5,486.10 163.6,486.39 163.7,486.39 163.8,486.43 163.9,487.13 164.0,487.13 164.1,487.07 164.2,487.38 164.3,487.85 164.4,487.95 164.5,488.11 164.6,488.29 164.7,488.36 164.8,488.31 164.9,488.56 165.0,488.40 165.1,488.62 165.2,488.79 165.3,488.64 165.4,488.82 165.5,488.89 165.6,488.82 165.7,488.96 165.8,489.14 165.9,489.01 166.0,489.17 166.1,488.76 166.2,489.12 166.3,489.16 166.4,489.17 166.6,489.42 166.7,489.24 166.8,489.50 166.9,489.69 167.0,489.67 167.1,489.51 167.2,489.90 167.3,489.62 167.4,489.81 167.5,489.58 167.6,489.86 167.7,489.43 167.8,489.64 167.9,490.02 168.0,489.51 168.1,489.88 168.2,489.98 168.3,490.05 168.4,489.78 168.5,489.63 168.6,490.00 168.7,490.07 168.8,490.09 168.9,489.60 169.0,489.52 169.1,489.80 169.2,489.53 169.3,489.46 169.4,489.24 169.5,488.76 169.6,488.46 169.7,487.99 169.8,487.52 169.9,486.66 170.0,486.13 170.2,485.35 170.3,484.67 170.4,484.48 170.5,484.53 170.6,484.95 170.7,485.25 170.8,485.82 170.9,486.16 171.0,485.96 171.1,486.32 171.2,486.63 171.3,486.70 171.4,487.17 171.5,487.46 171.6,487.55 171.7,488.14 171.8,488.17 171.9,488.00 172.0,488.26 172.1,488.63 172.2,488.41 172.3,488.46 172.4,488.63 172.5,488.85 172.6,489.08 172.7,489.00 172.8,489.03 172.9,489.24 173.0,489.14 173.1,489.26 173.2,489.32 173.3,489.79 173.4,489.30 173.5,489.23 173.6,489.66 173.7,489.89 173.9,489.56 174.0,489.80 174.1,489.92 174.2,489.57 174.3,490.06 174.4,489.73 174.5,490.10 174.6,489.66 174.7,489.85 174.8,490.01 174.9,489.96 175.0,489.91 175.1,489.89 175.2,489.91 175.3,489.98 175.4,490.18 175.5,490.00 175.6,490.37 175.7,489.98 175.8,490.02 175.9,489.94 176.0,490.30 176.1,490.18 176.2,490.08 176.3,490.19 176.4,490.33 176.5,490.21 176.6,490.27 176.7,490.11 176.8,490.41 176.9,490.24 177.0,490.25 177.1,490.16 177.2,490.30 177.3,490.24 177.4,490.23 177.6,490.16 177.7,490.07 177.8,490.01 177.9,489.29 178.0,489.72 178.1,489.51 178.2,489.11 178.3,488.70 178.4,488.13 178.5,487.40 178.6,486.88 178.7,486.70 178.8,486.86 178.9,486.41 179.0,486.98 179.1,487.09 179.2,487.45 179.3,487.39 179.4,487.78 179.5,487.72 179.6,487.95 179.7,488.24 179.8,488.34 179.9,488.33 180.0,488.69 180.1,488.59 180.2,488.87 180.3,488.92 180.4,488.93 180.5,488.93 180.6,489.16 180.7,489.32 180.8,489.28 180.9,489.75 181.0,489.25 181.2,489.84 181.3,489.50 181.4,489.81 181.5,489.68 181.6,489.83 181.7,489.80 181.8,490.04 181.9,490.32 182.0,489.90 182.1,490.12 182.2,490.16 182.3,490.20 182.4,489.75 182.5,490.23 182.6,490.10 182.7,490.39 182.8,489.94 182.9,490.32 183.0,490.70 183.1,489.79 183.2,490.48 183.3,490.07 183.4,490.19 183.5,490.22 183.6,490.39 183.7,490.33 183.8,490.16 183.9,490.45 184.0,490.36 184.1,490.25 184.2,490.41 184.3,490.51 184.4,490.19 184.5,490.40 184.6,490.49 184.7,490.62 184.9,490.67 185.0,490.34 185.1,490.34 185.2,490.90 185.3,490.63 185.4,490.36 185.5,490.11 185.6,490.16 185.7,490.37 185.8,490.30 185.9,490.63 186.0,490.39 186.1,490.73 186.2,490.58 186.3,490.39 186.4,490.01 186.5,490.19 186.6,490.17 186.7,490.11 186.8,490.14 186.9,489.58 187.0,489.49 187.1,489.09 187.2,488.95 187.3,488.41 187.4,488.34 187.5,487.64 187.6,487.24 187.7,487.28 187.8,487.28 187.9,487.79 188.0,487.94 188.1,488.11 188.2,488.51 188.3,488.12 188.4,488.46 188.6,488.81 188.7,489.05 188.8,488.90 188.9,488.95 189.0,489.18 189.1,489.26 189.2,489.41 189.3,489.46 189.4,489.30 189.5,489.35 189.6,489.93 189.7,489.70 189.8,490.00 189.9,490.07 190.0,489.79 190.1,490.09 190.2,490.54 190.3,489.91 190.4,489.84 190.5,489.74 190.6,490.21 190.7,489.92 190.8,490.66 190.9,490.41 191.0,490.17 191.1,490.20 191.2,490.08 191.3,490.17 191.4,490.37 191.5,490.11 191.6,490.28 191.7,490.12 191.8,490.58 191.9,490.40 192.0,490.55 192.1,490.34 192.3,490.54 192.4,490.56 192.5,490.76 192.6,490.49 192.7,490.36 192.8,490.39 192.9,491.11 193.0,490.87 193.1,490.25 193.2,490.64 193.3,490.65 193.4,490.42 193.5,490.60 193.6,490.76 193.7,490.69 193.8,490.33 193.9,490.92 194.0,490.45 194.1,490.74 194.2,490.74 194.3,490.37 194.4,490.82 194.5,490.57 194.6,490.78 194.7,490.98 194.8,490.76 194.9,490.52 195.0,490.76 195.1,490.63 195.2,490.69 195.3,490.71 195.4,490.77 195.5,490.65 195.6,491.00 195.7,490.67 195.9,490.84 196.0,490.39 196.1,490.27 196.2,490.34 196.3,489.90 196.4,489.78 196.5,489.59 196.6,489.48 196.7,489.11 196.8,488.78 196.9,488.90 197.0,488.81 197.1,488.55 197.2,489.30 197.3,489.47 197.4,489.44 197.5,489.20 197.6,489.30 197.7,489.33 197.8,489.49 197.9,489.32 198.0,489.39 198.1,489.53 198.2,490.00 198.3,489.80 198.4,490.08 198.5,490.07 198.6,490.21 198.7,490.08 198.8,490.03 198.9,490.15 199.0,490.42 199.1,490.51 199.2,490.42 199.3,490.45 199.4,490.21 199.6,490.43 199.7,490.44 199.8,490.46 199.9,490.26 200.0,490.19 200.1,490.43 200.2,490.57 200.3,490.30 200.4,490.49 200.5,490.66 200.6,490.42 200.7,490.58 200.8,490.88 200.9,490.53 201.0,490.61 201.1,491.00 201.2,491.06 201.3,490.67 201.4,490.59 201.5,490.61 201.6,490.97 201.7,490.80 201.8,490.63 201.9,491.03 202.0,490.75 202.1,490.74 202.2,490.62 202.3,491.22 202.4,490.77 202.5,490.45 202.6,490.92 202.7,490.87 202.8,490.65 202.9,490.96 203.0,490.63 203.1,490.74 203.3,491.12 203.4,490.83 203.5,491.11 203.6,490.69 203.7,491.16 203.8,491.19 203.9,491.07 204.0,491.02 204.1,490.65 204.2,490.89 204.3,490.84 204.4,490.70 204.5,491.02 204.6,491.00 204.7,491.04 204.8,490.76 204.9,490.60 205.0,490.84 205.1,490.98 205.2,490.95 205.3,491.04 205.4,490.68 205.5,490.96 205.6,490.77 205.7,490.87 205.8,490.93 205.9,490.95 206.0,490.55 206.1,490.23 206.2,490.19 206.3,490.02 206.4,490.02 206.5,489.85 206.6,489.76 206.7,489.45 206.9,489.17 207.0,489.64 207.1,489.93 207.2,489.54 207.3,490.01 207.4,489.80 207.5,490.04 207.6,490.01 207.7,489.47 207.8,490.26 207.9,490.28 208.0,490.15 208.1,490.26 208.2,490.37 208.3,490.46 208.4,490.27 208.5,490.22 208.6,490.61 208.7,490.67 208.8,490.17 208.9,490.77 209.0,490.42 209.1,490.49 209.2,490.79 209.3,490.48 209.4,490.83 209.5,490.85 209.6,490.92 209.7,490.54 209.8,490.78 209.9,490.53 210.0,490.88 210.1,490.64 210.2,490.51 210.3,490.79 210.4,490.98 210.6,490.86 210.7,490.58 210.8,490.69 210.9,490.89 211.0,491.14 211.1,490.72 211.2,490.56 211.3,490.57 211.4,490.79 211.5,490.91 211.6,491.02 211.7,490.99 211.8,491.18 211.9,490.52 212.0,490.91 212.1,490.49 212.2,490.93 212.3,491.21 212.4,490.60 212.5,491.08 212.6,491.01 212.7,490.65 212.8,490.69 212.9,491.30 213.0,490.95 213.1,491.15 213.2,490.86 213.3,490.64 213.4,491.06 213.5,490.71 213.6,491.14 213.7,490.59 213.8,491.12 213.9,491.06 214.0,490.93 214.1,491.23 214.3,490.72 214.4,491.18 214.5,490.88 214.6,491.22 214.7,490.98 214.8,491.00 214.9,491.07 215.0,490.91 215.1,491.19 215.2,490.72 215.3,490.95 215.4,491.47 215.5,490.61 215.6,490.87 215.7,490.65 215.8,490.93 215.9,491.26 216.0,490.89 216.1,490.98 216.2,490.70 216.3,490.71 216.4,490.50 216.5,490.75 216.6,490.33 216.7,490.32 216.8,490.04 216.9,490.36 217.0,490.08 217.1,489.73 217.2,490.29 217.3,490.00 217.4,489.95 217.5,490.23 217.6,490.10 217.7,490.13 217.8,490.08 218.0,490.46 218.1,490.45 218.2,490.32 218.3,490.62 218.4,490.51 218.5,490.67 218.6,490.99 218.7,490.54 218.8,490.32 218.9,490.71 219.0,490.65 219.1,490.77 219.2,490.84 219.3,490.70 219.4,490.55 219.5,490.37 219.6,490.63 219.7,490.96 219.8,491.05 219.9,490.58 220.0,490.77 220.1,490.94 220.2,491.03 220.3,491.00 220.4,490.65 220.5,490.88 220.6,491.13 220.7,490.74 220.8,490.85 220.9,490.96 221.0,490.81 221.1,491.07 221.2,490.76 221.3,491.19 221.4,491.10 221.6,491.19 221.7,491.03 221.8,491.10 221.9,491.03 222.0,490.97 222.1,490.88 222.2,490.96 222.3,490.94 222.4,490.71 222.5,491.04 222.6,491.25 222.7,490.83 222.8,490.68 222.9,490.97 223.0,490.86 223.1,491.13 223.2,490.98 223.3,490.91 223.4,490.96 223.5,491.12 223.6,490.74 223.7,491.00 223.8,490.87 223.9,490.96 224.0,490.88 224.1,490.88 224.2,491.08 224.3,490.90 224.4,490.67 224.5,490.70 224.6,490.92 224.7,490.75 224.8,491.28 224.9,490.80 225.0,491.04 225.1,491.37 225.3,491.03 225.4,490.89 225.5,491.18 225.6,490.72 225.7,490.82 225.8,491.28 225.9,490.88 226.0,491.03 226.1,491.15 226.2,491.10 226.3,491.11 226.4,491.23 226.5,491.08 226.6,490.86 226.7,490.71 226.8,490.67 226.9,490.99 227.0,490.86 227.1,490.94 227.2,490.55 227.3,490.96 227.4,490.84 227.5,490.64 227.6,490.41 227.7,490.45 227.8,490.34 227.9,490.31 228.0,490.31 228.1,490.57 228.2,490.49 228.3,490.36 228.4,490.45 228.5,490.33 228.6,490.69 228.7,490.42 228.8,490.35 229.0,490.66 229.1,490.61 229.2,490.64 229.3,490.61 229.4,490.65 229.5,490.48 229.6,490.67 229.7,490.62 229.8,490.73 229.9,490.99 230.0,490.74 230.1,490.87 230.2,490.96 230.3,491.01 230.4,490.88 230.5,490.99 230.6,490.53 230.7,490.62 230.8,490.96 230.9,490.79 231.0,490.72 231.1,490.97 231.2,490.62 231.3,490.79 231.4,490.98 231.5,491.28 231.6,491.14 231.7,490.92 231.8,491.06 231.9,490.99 232.0,491.13 232.1,490.96 232.2,491.09 232.3,491.28 232.4,491.07 232.6,491.12 232.7,491.30 232.8,490.78 232.9,491.04 233.0,491.09 233.1,490.90 233.2,491.05 233.3,490.91 233.4,491.31 233.5,491.23 233.6,490.96 233.7,490.79 233.8,491.05 233.9,491.02 234.0,491.21 234.1,491.07 234.2,491.19 234.3,491.10 234.4,490.94 234.5,491.43 234.6,491.04 234.7,491.22 234.8,491.19 234.9,490.88 235.0,491.03 235.1,490.92 235.2,491.40 235.3,491.16 235.4,491.17 235.5,491.19 235.6,491.01 235.7,490.94 235.8,491.29 235.9,491.27 236.0,491.32 236.1,490.90 236.3,491.19 236.4,491.12 236.5,491.16 236.6,491.27 236.7,491.04 236.8,491.04 236.9,490.94 237.0,491.14 237.1,491.15 237.2,491.20 237.3,490.84 237.4,490.92 237.5,491.10 237.6,490.97 237.7,491.18 237.8,490.71 237.9,491.16 238.0,491.10 238.1,491.08 238.2,490.69 238.3,490.94 238.4,490.74 238.5,490.91 238.6,491.07 238.7,490.67 238.8,490.87 238.9,490.94 239.0,490.73 239.1,490.50 239.2,490.26 239.3,490.79 239.4,490.94 239.5,490.42 239.6,490.55 239.7,490.73 239.8,490.58 240.0,490.55 240.1,490.36 240.2,490.74 240.3,490.51 240.4,490.84 240.5,490.87 240.6,490.72 240.7,491.01 240.8,491.05 240.9,490.67 241.0,491.20 241.1,490.85 241.2,490.93 241.3,490.96 241.4,491.14 241.5,491.27 241.6,491.04 241.7,491.14 241.8,491.02 241.9,490.93 242.0,491.09 242.1,491.15 242.2,490.92 242.3,491.11 242.4,491.16 242.5,491.05 242.6,490.95 242.7,490.64 242.8,490.73 242.9,491.24 243.0,491.26 243.1,491.02 243.2,490.93 243.3,491.06 243.4,490.66 243.5,490.84 243.7,490.76 243.8,491.13 243.9,491.22 244.0,491.25 244.1,491.08 244.2,491.29 244.3,491.18 244.4,491.15 244.5,490.91 244.6,491.16 244.7,491.33 244.8,491.16 244.9,491.05 245.0,490.99 245.1,491.25 245.2,490.98 245.3,490.85 245.4,491.01 245.5,491.06 245.6,491.18 245.7,491.21 245.8,491.46 245.9,491.00 246.0,491.17 246.1,491.08 246.2,491.02 246.3,491.25 246.4,490.94 246.5,491.10 246.6,490.86 246.7,491.09 246.8,491.06 246.9,491.17 247.0,490.86 247.1,491.49 247.3,491.22 247.4,491.18 247.5,491.40 247.6,491.27 247.7,491.51" fill="none" stroke="#0a0a0a" stroke-width="0.85" stroke-linejoin="round"/>
<text transform="translate(71.56 481.03) rotate(-90)" font-size="4.8" fill="#333" stroke="#333" stroke-width="0.16">2474.5978</text>
<text transform="translate(80.33 476.55) rotate(-90)" font-size="4.8" fill="#333" stroke="#333" stroke-width="0.16">2559.9017</text>
<text transform="translate(89.73 470.03) rotate(-90)" font-size="4.8" fill="#333" stroke="#333" stroke-width="0.16">2651.2462</text>
<text transform="translate(99.82 462.89) rotate(-90)" font-size="4.8" fill="#333" stroke="#333" stroke-width="0.16">2749.4069</text>
<text transform="translate(110.68 455.01) rotate(-90)" font-size="4.8" fill="#333" stroke="#333" stroke-width="0.16">2855.1230</text>
<text transform="translate(122.42 451.90) rotate(-90)" font-size="4.8" fill="#333" stroke="#333" stroke-width="0.16">2969.2858</text>
<text transform="translate(135.13 457.09) rotate(-90)" font-size="4.8" fill="#333" stroke="#333" stroke-width="0.16">3092.9450</text>
<text transform="translate(141.90 462.94) rotate(-90)" font-size="4.8" fill="#333" stroke="#333" stroke-width="0.16">3158.6781</text>
<text transform="translate(148.95 470.07) rotate(-90)" font-size="4.8" fill="#333" stroke="#333" stroke-width="0.16">3227.3672</text>
<text transform="translate(156.32 475.85) rotate(-90)" font-size="4.8" fill="#333" stroke="#333" stroke-width="0.16">3299.0659</text>
<text x="296.60" y="16.60" font-size="13.0" fill="#000" stroke="#000" stroke-width="0.3">A2</text>
<text transform="translate(329.10 79.35) scale(0.86 1)" font-size="4.9" text-anchor="end" fill="#222" stroke="#222" stroke-width="0.16">0</text>
<text transform="translate(329.10 69.35) scale(0.86 1)" font-size="4.9" text-anchor="end" fill="#222" stroke="#222" stroke-width="0.16">1</text>
<text transform="translate(329.10 59.35) scale(0.86 1)" font-size="4.9" text-anchor="end" fill="#222" stroke="#222" stroke-width="0.16">2</text>
<text transform="translate(329.10 49.35) scale(0.86 1)" font-size="4.9" text-anchor="end" fill="#222" stroke="#222" stroke-width="0.16">3</text>
<text transform="translate(329.10 39.35) scale(0.86 1)" font-size="4.9" text-anchor="end" fill="#222" stroke="#222" stroke-width="0.16">4</text>
<text transform="translate(329.10 29.35) scale(0.86 1)" font-size="4.9" text-anchor="end" fill="#222" stroke="#222" stroke-width="0.16">5</text>
<text transform="translate(329.10 19.35) scale(0.86 1)" font-size="4.9" text-anchor="end" fill="#222" stroke="#222" stroke-width="0.16">6</text>
<text transform="translate(324.70 14.00) scale(0.85 1)" font-size="4.9" text-anchor="end" fill="#262626" stroke="#262626" stroke-width="0.16">x10</text>
<text transform="translate(325.90 12.80) scale(0.85 1)" font-size="4.0" fill="#262626" stroke="#262626" stroke-width="0.16">2</text>
<text transform="translate(339.90 85.70) scale(0.87 1)" font-size="4.9" text-anchor="middle" fill="#222" stroke="#222" stroke-width="0.16">147800</text>
<text transform="translate(371.10 85.70) scale(0.87 1)" font-size="4.9" text-anchor="middle" fill="#222" stroke="#222" stroke-width="0.16">148000</text>
<text transform="translate(402.30 85.70) scale(0.87 1)" font-size="4.9" text-anchor="middle" fill="#222" stroke="#222" stroke-width="0.16">148200</text>
<text transform="translate(433.50 85.70) scale(0.87 1)" font-size="4.9" text-anchor="middle" fill="#222" stroke="#222" stroke-width="0.16">148400</text>
<text transform="translate(464.70 85.70) scale(0.87 1)" font-size="4.9" text-anchor="middle" fill="#222" stroke="#222" stroke-width="0.16">148600</text>
<text transform="translate(495.90 85.70) scale(0.87 1)" font-size="4.9" text-anchor="middle" fill="#222" stroke="#222" stroke-width="0.16">148800</text>
<text transform="translate(527.10 85.70) scale(0.87 1)" font-size="4.9" text-anchor="middle" fill="#222" stroke="#222" stroke-width="0.16">149000</text>
<text transform="translate(435.30 90.80) scale(0.885 1)" font-size="5.0" text-anchor="middle" fill="#262626" stroke="#262626" stroke-width="0.16">Counts vs. Deconvoluted Mass (amu)</text>
<polyline points="331.7,77.60 331.9,77.60 332.2,77.60 332.4,77.60 332.6,77.60 332.9,77.60 333.1,77.60 333.3,77.60 333.6,77.60 333.8,77.60 334.0,77.60 334.3,77.60 334.5,77.60 334.7,77.60 335.0,77.60 335.2,77.60 335.4,77.60 335.7,77.60 335.9,77.60 336.1,77.60 336.4,77.60 336.6,77.60 336.8,77.60 337.1,77.60 337.3,77.60 337.6,77.60 337.8,77.60 338.0,77.60 338.3,77.60 338.5,77.60 338.7,77.60 339.0,77.60 339.2,77.60 339.4,77.60 339.7,77.60 339.9,77.60 340.1,77.60 340.4,77.60 340.6,77.60 340.8,77.59 341.1,77.59 341.3,77.59 341.5,77.59 341.8,77.59 342.0,77.59 342.2,77.59 342.5,77.59 342.7,77.59 342.9,77.59 343.2,77.59 343.4,77.59 343.6,77.59 343.9,77.59 344.1,77.59 344.3,77.59 344.6,77.59 344.8,77.59 345.0,77.59 345.3,77.59 345.5,77.59 345.7,77.59 346.0,77.59 346.2,77.59 346.4,77.59 346.7,77.59 346.9,77.59 347.1,77.59 347.4,77.59 347.6,77.59 347.8,77.59 348.1,77.59 348.3,77.59 348.5,77.59 348.8,77.59 349.0,77.59 349.3,77.59 349.5,77.59 349.7,77.59 350.0,77.59 350.2,77.59 350.4,77.59 350.7,77.59 350.9,77.59 351.1,77.59 351.4,77.59 351.6,77.59 351.8,77.58 352.1,77.58 352.3,77.58 352.5,77.58 352.8,77.58 353.0,77.58 353.2,77.58 353.5,77.58 353.7,77.58 353.9,77.58 354.2,77.58 354.4,77.58 354.6,77.58 354.9,77.58 355.1,77.58 355.3,77.58 355.6,77.58 355.8,77.58 356.0,77.58 356.3,77.58 356.5,77.58 356.7,77.58 357.0,77.58 357.2,77.58 357.4,77.57 357.7,77.57 357.9,77.57 358.1,77.57 358.4,77.57 358.6,77.57 358.8,77.57 359.1,77.57 359.3,77.57 359.5,77.57 359.8,77.57 360.0,77.57 360.2,77.57 360.5,77.57 360.7,77.57 361.0,77.57 361.2,77.57 361.4,77.56 361.7,77.56 361.9,77.56 362.1,77.56 362.4,77.56 362.6,77.56 362.8,77.56 363.1,77.56 363.3,77.56 363.5,77.56 363.8,77.56 364.0,77.56 364.2,77.55 364.5,77.55 364.7,77.55 364.9,77.55 365.2,77.55 365.4,77.55 365.6,77.55 365.9,77.55 366.1,77.55 366.3,77.55 366.6,77.55 366.8,77.54 367.0,77.54 367.3,77.54 367.5,77.54 367.7,77.54 368.0,77.54 368.2,77.54 368.4,77.54 368.7,77.54 368.9,77.53 369.1,77.53 369.4,77.53 369.6,77.53 369.8,77.53 370.1,77.53 370.3,77.53 370.5,77.52 370.8,77.52 371.0,77.52 371.2,77.52 371.5,77.52 371.7,77.52 371.9,77.52 372.2,77.51 372.4,77.51 372.7,77.51 372.9,77.51 373.1,77.51 373.4,77.51 373.6,77.51 373.8,77.50 374.1,77.50 374.3,77.50 374.5,77.50 374.8,77.50 375.0,77.50 375.2,77.49 375.5,77.49 375.7,77.49 375.9,77.49 376.2,77.49 376.4,77.48 376.6,77.48 376.9,77.48 377.1,77.48 377.3,77.48 377.6,77.47 377.8,77.47 378.0,77.47 378.3,77.47 378.5,77.47 378.7,77.46 379.0,77.46 379.2,77.46 379.4,77.46 379.7,77.45 379.9,77.45 380.1,77.45 380.4,77.45 380.6,77.44 380.8,77.44 381.1,77.44 381.3,77.43 381.5,77.41 381.8,77.38 382.0,77.30 382.2,77.13 382.5,76.78 382.7,76.15 382.9,75.05 383.2,73.32 383.4,70.80 383.6,67.46 383.9,63.46 384.1,59.17 384.4,55.18 384.6,52.16 384.8,50.68 385.1,51.04 385.3,53.15 385.5,56.61 385.8,60.78 386.0,65.01 386.2,68.79 386.5,71.82 386.7,74.02 386.9,75.48 387.2,76.37 387.4,76.87 387.6,77.13 387.9,77.26 388.1,77.31 388.3,77.33 388.6,77.33 388.8,77.33 389.0,77.33 389.3,77.33 389.5,77.32 389.7,77.32 390.0,77.32 390.2,77.31 390.4,77.31 390.7,77.30 390.9,77.28 391.1,77.24 391.4,77.17 391.6,77.01 391.8,76.73 392.1,76.22 392.3,75.41 392.5,74.21 392.8,72.57 393.0,70.56 393.2,68.33 393.5,66.16 393.7,64.42 393.9,63.40 394.2,63.33 394.4,64.20 394.6,65.84 394.9,67.95 395.1,70.18 395.3,72.24 395.6,73.93 395.8,75.19 396.1,76.04 396.3,76.58 396.5,76.88 396.8,77.03 397.0,77.10 397.2,77.11 397.5,77.08 397.7,76.99 397.9,76.81 398.2,76.49 398.4,75.96 398.6,75.15 398.9,73.99 399.1,72.47 399.3,70.62 399.6,68.59 399.8,66.61 400.0,64.96 400.3,63.89 400.5,63.60 400.7,64.14 401.0,65.40 401.2,67.18 401.4,69.19 401.7,71.17 401.9,72.91 402.1,74.31 402.4,75.34 402.6,76.05 402.8,76.49 403.1,76.75 403.3,76.88 403.5,76.95 403.8,76.98 404.0,76.99 404.2,76.99 404.5,76.98 404.7,76.98 404.9,76.97 405.2,76.97 405.4,76.96 405.6,76.95 405.9,76.94 406.1,76.92 406.3,76.90 406.6,76.85 406.8,76.74 407.0,76.55 407.3,76.21 407.5,75.62 407.8,74.66 408.0,73.20 408.2,71.13 408.5,68.39 408.7,65.02 408.9,61.22 409.2,57.31 409.4,53.75 409.6,51.02 409.9,49.52 410.1,49.50 410.3,50.95 410.6,53.65 410.8,57.19 411.0,61.08 411.3,64.87 411.5,68.24 411.7,70.97 412.0,73.04 412.2,74.49 412.4,75.44 412.7,76.03 412.9,76.36 413.1,76.53 413.4,76.61 413.6,76.63 413.8,76.62 414.1,76.57 414.3,76.48 414.5,76.34 414.8,76.14 415.0,75.85 415.2,75.47 415.5,74.99 415.7,74.42 415.9,73.79 416.2,73.14 416.4,72.53 416.6,72.02 416.9,71.66 417.1,71.50 417.3,71.54 417.6,71.75 417.8,72.09 418.0,72.47 418.3,72.83 418.5,73.10 418.7,73.23 419.0,73.22 419.2,73.08 419.5,72.86 419.7,72.62 419.9,72.44 420.2,72.36 420.4,72.42 420.6,72.63 420.9,72.98 421.1,73.40 421.3,73.87 421.6,74.31 421.8,74.67 422.0,74.91 422.3,74.98 422.5,74.86 422.7,74.51 423.0,73.94 423.2,73.12 423.4,72.08 423.7,70.85 423.9,69.49 424.1,68.09 424.4,66.76 424.6,65.63 424.8,64.79 425.1,64.34 425.3,64.33 425.5,64.75 425.8,65.56 426.0,66.67 426.2,67.97 426.5,69.34 426.7,70.68 426.9,71.89 427.2,72.91 427.4,73.71 427.6,74.29 427.9,74.65 428.1,74.83 428.3,74.84 428.6,74.73 428.8,74.53 429.0,74.26 429.3,73.97 429.5,73.68 429.7,73.43 430.0,73.24 430.2,73.12 430.4,73.08 430.7,73.14 430.9,73.28 431.2,73.47 431.4,73.70 431.6,73.92 431.9,74.12 432.1,74.24 432.3,74.27 432.6,74.15 432.8,73.88 433.0,73.44 433.3,72.82 433.5,72.04 433.7,71.12 434.0,70.10 434.2,69.06 434.4,68.06 434.7,67.18 434.9,66.49 435.1,66.06 435.4,65.93 435.6,66.11 435.8,66.58 436.1,67.30 436.3,68.21 436.5,69.23 436.8,70.29 437.0,71.32 437.2,72.28 437.5,73.11 437.7,73.81 437.9,74.37 438.2,74.80 438.4,75.10 438.6,75.30 438.9,75.41 439.1,75.45 439.3,75.43 439.6,75.36 439.8,75.24 440.0,75.07 440.3,74.85 440.5,74.59 440.7,74.30 441.0,73.97 441.2,73.62 441.4,73.27 441.7,72.93 441.9,72.61 442.1,72.34 442.4,72.13 442.6,71.99 442.9,71.94 443.1,71.97 443.3,72.09 443.6,72.29 443.8,72.54 444.0,72.85 444.3,73.18 444.5,73.52 444.7,73.86 445.0,74.18 445.2,74.47 445.4,74.72 445.7,74.93 445.9,75.10 446.1,75.22 446.4,75.30 446.6,75.34 446.8,75.34 447.1,75.28 447.3,75.18 447.5,75.02 447.8,74.79 448.0,74.51 448.2,74.15 448.5,73.73 448.7,73.25 448.9,72.72 449.2,72.18 449.4,71.64 449.6,71.14 449.9,70.71 450.1,70.39 450.3,70.18 450.6,70.12 450.8,70.21 451.0,70.43 451.3,70.77 451.5,71.21 451.7,71.72 452.0,72.25 452.2,72.79 452.4,73.31 452.7,73.77 452.9,74.18 453.1,74.53 453.4,74.81 453.6,75.02 453.8,75.18 454.1,75.29 454.3,75.36 454.6,75.39 454.8,75.38 455.0,75.35 455.3,75.29 455.5,75.19 455.7,75.07 456.0,74.93 456.2,74.75 456.4,74.55 456.7,74.34 456.9,74.11 457.1,73.88 457.4,73.67 457.6,73.47 457.8,73.31 458.1,73.19 458.3,73.12 458.5,73.11 458.8,73.16 459.0,73.26 459.2,73.41 459.5,73.59 459.7,73.80 459.9,74.03 460.2,74.26 460.4,74.48 460.6,74.68 460.9,74.86 461.1,75.01 461.3,75.13 461.6,75.21 461.8,75.25 462.0,75.26 462.3,75.23 462.5,75.16 462.7,75.06 463.0,74.93 463.2,74.79 463.4,74.63 463.7,74.47 463.9,74.32 464.1,74.20 464.4,74.12 464.6,74.08 464.8,74.09 465.1,74.15 465.3,74.25 465.5,74.39 465.8,74.55 466.0,74.72 466.3,74.90 466.5,75.06 466.7,75.21 467.0,75.33 467.2,75.43 467.4,75.51 467.7,75.57 467.9,75.60 468.1,75.62 468.4,75.62 468.6,75.61 468.8,75.59 469.1,75.55 469.3,75.50 469.5,75.43 469.8,75.36 470.0,75.28 470.2,75.18 470.5,75.08 470.7,74.97 470.9,74.87 471.2,74.76 471.4,74.67 471.6,74.59 471.9,74.52 472.1,74.48 472.3,74.45 472.6,74.45 472.8,74.48 473.0,74.53 473.3,74.60 473.5,74.69 473.7,74.79 474.0,74.90 474.2,75.02 474.4,75.14 474.7,75.26 474.9,75.37 475.1,75.47 475.4,75.56 475.6,75.65 475.8,75.72 476.1,75.78 476.3,75.83 476.5,75.87 476.8,75.90 477.0,75.93 477.2,75.95 477.5,75.96 477.7,75.97 478.0,75.97 478.2,75.97 478.4,75.96 478.7,75.95 478.9,75.93 479.1,75.90 479.4,75.87 479.6,75.83 479.8,75.77 480.1,75.71 480.3,75.65 480.5,75.57 480.8,75.49 481.0,75.41 481.2,75.34 481.5,75.26 481.7,75.20 481.9,75.15 482.2,75.11 482.4,75.09 482.6,75.09 482.9,75.10 483.1,75.14 483.3,75.19 483.6,75.26 483.8,75.34 484.0,75.43 484.3,75.52 484.5,75.62 484.7,75.71 485.0,75.80 485.2,75.89 485.4,75.97 485.7,76.04 485.9,76.10 486.1,76.15 486.4,76.19 486.6,76.23 486.8,76.26 487.1,76.29 487.3,76.31 487.5,76.32 487.8,76.33 488.0,76.34 488.2,76.34 488.5,76.34 488.7,76.33 488.9,76.32 489.2,76.31 489.4,76.28 489.7,76.25 489.9,76.22 490.1,76.18 490.4,76.13 490.6,76.07 490.8,76.02 491.1,75.96 491.3,75.90 491.5,75.84 491.8,75.79 492.0,75.75 492.2,75.72 492.5,75.70 492.7,75.69 492.9,75.70 493.2,75.73 493.4,75.77 493.6,75.82 493.9,75.88 494.1,75.95 494.3,76.02 494.6,76.10 494.8,76.18 495.0,76.25 495.3,76.32 495.5,76.38 495.7,76.44 496.0,76.49 496.2,76.54 496.4,76.57 496.7,76.61 496.9,76.63 497.1,76.66 497.4,76.67 497.6,76.69 497.8,76.70 498.1,76.71 498.3,76.71 498.5,76.71 498.8,76.71 499.0,76.70 499.2,76.69 499.5,76.68 499.7,76.66 499.9,76.63 500.2,76.60 500.4,76.57 500.6,76.53 500.9,76.48 501.1,76.44 501.4,76.39 501.6,76.35 501.8,76.31 502.1,76.28 502.3,76.25 502.5,76.23 502.8,76.23 503.0,76.23 503.2,76.25 503.5,76.27 503.7,76.31 503.9,76.36 504.2,76.41 504.4,76.47 504.6,76.53 504.9,76.59 505.1,76.64 505.3,76.70 505.6,76.75 505.8,76.80 506.0,76.84 506.3,76.88 506.5,76.91 506.7,76.94 507.0,76.96 507.2,76.98 507.4,76.99 507.7,77.00 507.9,77.01 508.1,77.02 508.4,77.03 508.6,77.03 508.8,77.03 509.1,77.02 509.3,77.02 509.5,77.01 509.8,76.99 510.0,76.97 510.2,76.95 510.5,76.92 510.7,76.89 510.9,76.86 511.2,76.83 511.4,76.79 511.6,76.76 511.9,76.72 512.1,76.69 512.3,76.67 512.6,76.66 512.8,76.65 513.1,76.65 513.3,76.66 513.5,76.68 513.8,76.70 514.0,76.74 514.2,76.77 514.5,76.82 514.7,76.86 514.9,76.91 515.2,76.96 515.4,77.00 515.6,77.04 515.9,77.08 516.1,77.11 516.3,77.14 516.6,77.17 516.8,77.19 517.0,77.21 517.3,77.22 517.5,77.23 517.7,77.24 518.0,77.25 518.2,77.26 518.4,77.26 518.7,77.26 518.9,77.26 519.1,77.26 519.4,77.25 519.6,77.25 519.8,77.24 520.1,77.22 520.3,77.20 520.5,77.18 520.8,77.16 521.0,77.14 521.2,77.11 521.5,77.08 521.7,77.05 521.9,77.02 522.2,77.00 522.4,76.98 522.6,76.97 522.9,76.96 523.1,76.95 523.3,76.96 523.6,76.97 523.8,76.99 524.0,77.01 524.3,77.04 524.5,77.07 524.8,77.11 525.0,77.14 525.2,77.18 525.5,77.21 525.7,77.24 525.9,77.27 526.2,77.30 526.4,77.32 526.6,77.34 526.9,77.36 527.1,77.37 527.3,77.39 527.6,77.39 527.8,77.40 528.0,77.41 528.3,77.41 528.5,77.41 528.7,77.42 529.0,77.42 529.2,77.41 529.4,77.41 529.7,77.40 529.9,77.40 530.1,77.38 530.4,77.37 530.6,77.36 530.8,77.34 531.1,77.32 531.3,77.30 531.5,77.27 531.8,77.25 532.0,77.23 532.2,77.21 532.5,77.19 532.7,77.18 532.9,77.17 533.2,77.16 533.4,77.16 533.6,77.17 533.9,77.18 534.1,77.20 534.3,77.22 534.6,77.24 534.8,77.27 535.0,77.29 535.3,77.32 535.5,77.35 535.7,77.37 536.0,77.40 536.2,77.42 536.5,77.43 536.7,77.45 536.9,77.46 537.2,77.48 537.4,77.48 537.6,77.49 537.9,77.50 538.1,77.50 538.3,77.51 538.6,77.51 538.8,77.51" fill="none" stroke="#222" stroke-width="0.58" stroke-linejoin="round"/>
<text transform="translate(386.24 48.80) rotate(-90)" font-size="4.85" fill="#222" stroke="#222" stroke-width="0.16">148,088.4177</text>
<text transform="translate(395.43 61.60) rotate(-90)" font-size="4.85" fill="#222" stroke="#222" stroke-width="0.16">148,147.3307</text>
<text transform="translate(401.81 62.10) rotate(-90)" font-size="4.85" fill="#222" stroke="#222" stroke-width="0.16">148,188.1786</text>
<text transform="translate(411.33 47.80) rotate(-90)" font-size="4.85" fill="#222" stroke="#222" stroke-width="0.16">148,249.1539</text>
<text transform="translate(426.54 62.60) rotate(-90)" font-size="4.85" fill="#222" stroke="#222" stroke-width="0.16">148,346.6749</text>
<text transform="translate(436.69 64.10) rotate(-90)" font-size="4.85" fill="#222" stroke="#222" stroke-width="0.16">148,411.8103</text>
<text transform="translate(451.90 68.30) rotate(-90)" font-size="4.85" fill="#222" stroke="#222" stroke-width="0.16">148,509.2695</text>
<text x="363.00" y="38.60" font-size="5.05" text-anchor="middle" font-weight="bold" fill="#000" stroke="#000" stroke-width="0.12">2G0F,2K loss</text>
<polygon points="367.40,41.00 370.62,42.11 369.18,43.90" fill="#111"/>
<text x="393.20" y="11.00" font-size="5.05" text-anchor="middle" font-weight="bold" fill="#000" stroke="#000" stroke-width="0.12">2G0F,2K loss,</text>
<text x="393.20" y="16.00" font-size="5.05" text-anchor="middle" font-weight="bold" fill="#000" stroke="#000" stroke-width="0.12">Carboxymethylation</text>
<polygon points="392.30,17.20 393.45,20.40 391.15,20.40" fill="#111"/>
<text x="440.80" y="11.60" font-size="5.05" text-anchor="middle" font-weight="bold" fill="#000" stroke="#000" stroke-width="0.12">G0F/G1F,2K loss</text>
<polygon points="431.40,13.00 430.00,16.10 428.35,14.50" fill="#111"/>
<text x="452.60" y="24.00" font-size="5.05" text-anchor="middle" font-weight="bold" fill="#000" stroke="#000" stroke-width="0.12">2G1F(or G0F/G2F),</text>
<text x="452.60" y="28.30" font-size="5.05" text-anchor="middle" font-weight="bold" fill="#000" stroke="#000" stroke-width="0.12">2K loss</text>
<polygon points="445.60,30.00 444.44,33.20 442.67,31.72" fill="#111"/>
<text x="295.40" y="119.80" font-size="13.0" fill="#000" stroke="#000" stroke-width="0.3">B2</text>
<text transform="translate(329.50 183.25) scale(0.86 1)" font-size="4.9" text-anchor="end" fill="#222" stroke="#222" stroke-width="0.16">0</text>
<text transform="translate(329.50 175.79) scale(0.86 1)" font-size="4.9" text-anchor="end" fill="#222" stroke="#222" stroke-width="0.16">0.25</text>
<text transform="translate(329.50 168.32) scale(0.86 1)" font-size="4.9" text-anchor="end" fill="#222" stroke="#222" stroke-width="0.16">0.5</text>
<text transform="translate(329.50 160.86) scale(0.86 1)" font-size="4.9" text-anchor="end" fill="#222" stroke="#222" stroke-width="0.16">0.75</text>
<text transform="translate(329.50 153.40) scale(0.86 1)" font-size="4.9" text-anchor="end" fill="#222" stroke="#222" stroke-width="0.16">1</text>
<text transform="translate(329.50 145.94) scale(0.86 1)" font-size="4.9" text-anchor="end" fill="#222" stroke="#222" stroke-width="0.16">1.25</text>
<text transform="translate(329.50 138.47) scale(0.86 1)" font-size="4.9" text-anchor="end" fill="#222" stroke="#222" stroke-width="0.16">1.5</text>
<text transform="translate(329.50 131.01) scale(0.86 1)" font-size="4.9" text-anchor="end" fill="#222" stroke="#222" stroke-width="0.16">1.75</text>
<text transform="translate(329.50 123.55) scale(0.86 1)" font-size="4.9" text-anchor="end" fill="#222" stroke="#222" stroke-width="0.16">2</text>
<text transform="translate(325.10 117.00) scale(0.85 1)" font-size="4.9" text-anchor="end" fill="#262626" stroke="#262626" stroke-width="0.16">x10</text>
<text transform="translate(326.30 115.80) scale(0.85 1)" font-size="4.0" fill="#262626" stroke="#262626" stroke-width="0.16">1</text>
<text transform="translate(339.90 189.10) scale(0.87 1)" font-size="4.9" text-anchor="middle" fill="#222" stroke="#222" stroke-width="0.16">147800</text>
<text transform="translate(371.58 189.10) scale(0.87 1)" font-size="4.9" text-anchor="middle" fill="#222" stroke="#222" stroke-width="0.16">148000</text>
<text transform="translate(403.26 189.10) scale(0.87 1)" font-size="4.9" text-anchor="middle" fill="#222" stroke="#222" stroke-width="0.16">148200</text>
<text transform="translate(434.94 189.10) scale(0.87 1)" font-size="4.9" text-anchor="middle" fill="#222" stroke="#222" stroke-width="0.16">148400</text>
<text transform="translate(466.62 189.10) scale(0.87 1)" font-size="4.9" text-anchor="middle" fill="#222" stroke="#222" stroke-width="0.16">148600</text>
<text transform="translate(498.30 189.10) scale(0.87 1)" font-size="4.9" text-anchor="middle" fill="#222" stroke="#222" stroke-width="0.16">148800</text>
<text transform="translate(529.98 189.10) scale(0.87 1)" font-size="4.9" text-anchor="middle" fill="#222" stroke="#222" stroke-width="0.16">149000</text>
<text transform="translate(437.10 194.20) scale(0.885 1)" font-size="5.0" text-anchor="middle" fill="#262626" stroke="#262626" stroke-width="0.16">Counts vs. Deconvoluted Mass (amu)</text>
<polyline points="332.1,181.50 332.3,181.50 332.6,181.50 332.8,181.50 333.1,181.50 333.3,181.50 333.5,181.50 333.8,181.50 334.0,181.50 334.2,181.50 334.5,181.50 334.7,181.50 335.0,181.50 335.2,181.50 335.4,181.50 335.7,181.50 335.9,181.50 336.1,181.50 336.4,181.50 336.6,181.50 336.9,181.50 337.1,181.50 337.3,181.50 337.6,181.50 337.8,181.50 338.0,181.50 338.3,181.50 338.5,181.50 338.8,181.50 339.0,181.50 339.2,181.50 339.5,181.50 339.7,181.50 339.9,181.50 340.2,181.50 340.4,181.50 340.7,181.50 340.9,181.50 341.1,181.50 341.4,181.50 341.6,181.50 341.8,181.50 342.1,181.50 342.3,181.50 342.6,181.50 342.8,181.50 343.0,181.50 343.3,181.50 343.5,181.50 343.7,181.50 344.0,181.50 344.2,181.50 344.5,181.50 344.7,181.50 344.9,181.50 345.2,181.50 345.4,181.50 345.6,181.50 345.9,181.50 346.1,181.50 346.4,181.50 346.6,181.50 346.8,181.50 347.1,181.50 347.3,181.50 347.5,181.50 347.8,181.50 348.0,181.50 348.3,181.50 348.5,181.50 348.7,181.50 349.0,181.50 349.2,181.50 349.4,181.50 349.7,181.50 349.9,181.50 350.2,181.50 350.4,181.50 350.6,181.50 350.9,181.50 351.1,181.50 351.3,181.50 351.6,181.50 351.8,181.50 352.1,181.50 352.3,181.50 352.5,181.50 352.8,181.50 353.0,181.50 353.2,181.50 353.5,181.50 353.7,181.50 354.0,181.50 354.2,181.50 354.4,181.50 354.7,181.50 354.9,181.50 355.1,181.50 355.4,181.50 355.6,181.50 355.9,181.50 356.1,181.50 356.3,181.50 356.6,181.50 356.8,181.50 357.0,181.50 357.3,181.50 357.5,181.50 357.8,181.50 358.0,181.50 358.2,181.50 358.5,181.50 358.7,181.50 358.9,181.50 359.2,181.50 359.4,181.50 359.7,181.50 359.9,181.50 360.1,181.50 360.4,181.50 360.6,181.50 360.8,181.50 361.1,181.50 361.3,181.50 361.6,181.50 361.8,181.50 362.0,181.50 362.3,181.50 362.5,181.50 362.8,181.49 363.0,181.49 363.2,181.49 363.5,181.49 363.7,181.49 363.9,181.49 364.2,181.49 364.4,181.49 364.7,181.49 364.9,181.49 365.1,181.49 365.4,181.49 365.6,181.49 365.8,181.49 366.1,181.49 366.3,181.49 366.6,181.49 366.8,181.49 367.0,181.49 367.3,181.49 367.5,181.49 367.7,181.49 368.0,181.49 368.2,181.49 368.5,181.49 368.7,181.49 368.9,181.49 369.2,181.49 369.4,181.49 369.6,181.49 369.9,181.49 370.1,181.49 370.4,181.49 370.6,181.49 370.8,181.49 371.1,181.49 371.3,181.49 371.5,181.49 371.8,181.49 372.0,181.49 372.3,181.49 372.5,181.49 372.7,181.49 373.0,181.49 373.2,181.49 373.4,181.49 373.7,181.49 373.9,181.49 374.2,181.49 374.4,181.49 374.6,181.49 374.9,181.49 375.1,181.49 375.3,181.49 375.6,181.48 375.8,181.48 376.1,181.48 376.3,181.48 376.5,181.48 376.8,181.48 377.0,181.48 377.2,181.48 377.5,181.48 377.7,181.48 378.0,181.48 378.2,181.48 378.4,181.48 378.7,181.48 378.9,181.48 379.1,181.48 379.4,181.48 379.6,181.48 379.9,181.48 380.1,181.48 380.3,181.48 380.6,181.48 380.8,181.48 381.0,181.48 381.3,181.48 381.5,181.47 381.8,181.47 382.0,181.46 382.2,181.43 382.5,181.38 382.7,181.25 382.9,181.00 383.2,180.54 383.4,179.72 383.7,178.40 383.9,176.41 384.1,173.63 384.4,170.06 384.6,165.87 384.8,161.41 385.1,157.25 385.3,153.99 385.6,152.17 385.8,152.12 386.0,153.84 386.3,157.03 386.5,161.16 386.7,165.61 387.0,169.83 387.2,173.44 387.5,176.26 387.7,178.29 387.9,179.63 388.2,180.45 388.4,180.92 388.6,181.16 388.9,181.26 389.1,181.28 389.4,181.26 389.6,181.22 389.8,181.16 390.1,181.09 390.3,181.01 390.5,180.93 390.8,180.85 391.0,180.77 391.3,180.69 391.5,180.63 391.7,180.59 392.0,180.56 392.2,180.55 392.5,180.57 392.7,180.60 392.9,180.65 393.2,180.71 393.4,180.79 393.6,180.87 393.9,180.95 394.1,181.03 394.4,181.10 394.6,181.17 394.8,181.23 395.1,181.27 395.3,181.32 395.5,181.35 395.8,181.37 396.0,181.39 396.3,181.40 396.5,181.41 396.7,181.42 397.0,181.42 397.2,181.42 397.4,181.42 397.7,181.41 397.9,181.39 398.2,181.35 398.4,181.26 398.6,181.08 398.9,180.77 399.1,180.25 399.3,179.45 399.6,178.29 399.8,176.76 400.1,174.91 400.3,172.85 400.5,170.84 400.8,169.13 401.0,168.02 401.2,167.68 401.5,168.19 401.7,169.45 402.0,171.24 402.2,173.28 402.4,175.31 402.7,177.10 402.9,178.55 403.1,179.62 403.4,180.36 403.6,180.83 403.9,181.10 404.1,181.25 404.3,181.33 404.6,181.36 404.8,181.38 405.0,181.38 405.3,181.39 405.5,181.39 405.8,181.38 406.0,181.38 406.2,181.38 406.5,181.38 406.7,181.38 406.9,181.38 407.2,181.37 407.4,181.37 407.7,181.36 407.9,181.35 408.1,181.31 408.4,181.24 408.6,181.09 408.8,180.80 409.1,180.30 409.3,179.47 409.6,178.20 409.8,176.40 410.0,174.03 410.3,171.19 410.5,168.10 410.7,165.11 411.0,162.65 411.2,161.12 411.5,160.78 411.7,161.71 411.9,163.72 412.2,166.48 412.4,169.57 412.6,172.57 412.9,175.20 413.1,177.30 413.4,178.84 413.6,179.88 413.8,180.53 414.1,180.90 414.3,181.09 414.5,181.15 414.8,181.12 415.0,181.01 415.3,180.80 415.5,180.47 415.7,179.99 416.0,179.37 416.2,178.60 416.4,177.73 416.7,176.84 416.9,176.03 417.2,175.41 417.4,175.07 417.6,175.07 417.9,175.41 418.1,176.02 418.3,176.83 418.6,177.72 418.8,178.58 419.1,179.35 419.3,179.97 419.5,180.44 419.8,180.76 420.0,180.98 420.2,181.11 420.5,181.19 420.7,181.23 421.0,181.24 421.2,181.25 421.4,181.26 421.7,181.25 421.9,181.25 422.2,181.25 422.4,181.25 422.6,181.24 422.9,181.24 423.1,181.23 423.3,181.21 423.6,181.18 423.8,181.11 424.1,180.99 424.3,180.77 424.5,180.41 424.8,179.86 425.0,179.07 425.2,177.99 425.5,176.65 425.7,175.09 426.0,173.46 426.2,171.91 426.4,170.66 426.7,169.90 426.9,169.73 427.1,170.19 427.4,171.20 427.6,172.61 427.9,174.22 428.1,175.83 428.3,177.29 428.6,178.50 428.8,179.44 429.0,180.11 429.3,180.55 429.5,180.83 429.8,180.99 430.0,181.08 430.2,181.13 430.5,181.15 430.7,181.16 430.9,181.16 431.2,181.16 431.4,181.15 431.7,181.15 431.9,181.15 432.1,181.15 432.4,181.14 432.6,181.14 432.8,181.14 433.1,181.13 433.3,181.12 433.6,181.10 433.8,181.06 434.0,180.98 434.3,180.85 434.5,180.63 434.7,180.28 435.0,179.76 435.2,179.05 435.5,178.13 435.7,177.05 435.9,175.86 436.2,174.70 436.4,173.70 436.6,173.01 436.9,172.74 437.1,172.92 437.4,173.53 437.6,174.48 437.8,175.61 438.1,176.80 438.3,177.91 438.5,178.85 438.8,179.60 439.0,180.14 439.3,180.51 439.5,180.73 439.7,180.84 440.0,180.88 440.2,180.84 440.4,180.75 440.7,180.60 440.9,180.38 441.2,180.11 441.4,179.78 441.6,179.41 441.9,179.02 442.1,178.66 442.3,178.35 442.6,178.14 442.8,178.05 443.1,178.09 443.3,178.26 443.5,178.54 443.8,178.88 444.0,179.26 444.2,179.64 444.5,179.98 444.7,180.27 445.0,180.50 445.2,180.67 445.4,180.80 445.7,180.88 445.9,180.93 446.1,180.96 446.4,180.98 446.6,180.99 446.9,180.99 447.1,180.99 447.3,180.99 447.6,180.99 447.8,180.99 448.0,180.99 448.3,180.98 448.5,180.98 448.8,180.97 449.0,180.95 449.2,180.92 449.5,180.88 449.7,180.81 449.9,180.72 450.2,180.58 450.4,180.39 450.7,180.15 450.9,179.86 451.1,179.55 451.4,179.22 451.6,178.91 451.9,178.66 452.1,178.49 452.3,178.42 452.6,178.46 452.8,178.61 453.0,178.85 453.3,179.15 453.5,179.47 453.8,179.79 454.0,180.08 454.2,180.32 454.5,180.51 454.7,180.66 454.9,180.76 455.2,180.83 455.4,180.88 455.7,180.90 455.9,180.92 456.1,180.92 456.4,180.93 456.6,180.93 456.8,180.93 457.1,180.93 457.3,180.92 457.6,180.92 457.8,180.91 458.0,180.90 458.3,180.89 458.5,180.86 458.7,180.82 459.0,180.77 459.2,180.68 459.5,180.57 459.7,180.41 459.9,180.22 460.2,179.99 460.4,179.73 460.6,179.46 460.9,179.18 461.1,178.93 461.4,178.72 461.6,178.58 461.8,178.52 462.1,178.55 462.3,178.67 462.5,178.85 462.8,179.09 463.0,179.36 463.3,179.64 463.5,179.90 463.7,180.14 464.0,180.35 464.2,180.51 464.4,180.64 464.7,180.73 464.9,180.79 465.2,180.84 465.4,180.86 465.6,180.88 465.9,180.89 466.1,180.90 466.3,180.90 466.6,180.90 466.8,180.90 467.1,180.90 467.3,180.90 467.5,180.90 467.8,180.90 468.0,180.90 468.2,180.90 468.5,180.90 468.7,180.90 469.0,180.90 469.2,180.90 469.4,180.91 469.7,180.91 469.9,180.91 470.1,180.91 470.4,180.91 470.6,180.91 470.9,180.91 471.1,180.91 471.3,180.91 471.6,180.91 471.8,180.91 472.0,180.91 472.3,180.91 472.5,180.91 472.8,180.91 473.0,180.91 473.2,180.91 473.5,180.91 473.7,180.90 473.9,180.89 474.2,180.88 474.4,180.86 474.7,180.83 474.9,180.79 475.1,180.73 475.4,180.66 475.6,180.57 475.8,180.47 476.1,180.35 476.3,180.23 476.6,180.10 476.8,179.98 477.0,179.88 477.3,179.80 477.5,179.75 477.7,179.74 478.0,179.77 478.2,179.83 478.5,179.92 478.7,180.03 478.9,180.16 479.2,180.28 479.4,180.41 479.6,180.53 479.9,180.63 480.1,180.71 480.4,180.78 480.6,180.83 480.8,180.87 481.1,180.90 481.3,180.92 481.6,180.94 481.8,180.95 482.0,180.96 482.3,180.96 482.5,180.96 482.7,180.97 483.0,180.97 483.2,180.97 483.5,180.97 483.7,180.98 483.9,180.98 484.2,180.98 484.4,180.98 484.6,180.98 484.9,180.98 485.1,180.99 485.4,180.99 485.6,180.99 485.8,180.99 486.1,180.99 486.3,181.00 486.5,181.00 486.8,181.00 487.0,181.00 487.3,181.00 487.5,181.00 487.7,180.99 488.0,180.99 488.2,180.98 488.4,180.97 488.7,180.95 488.9,180.93 489.2,180.90 489.4,180.87 489.6,180.83 489.9,180.79 490.1,180.74 490.3,180.69 490.6,180.63 490.8,180.58 491.1,180.54 491.3,180.50 491.5,180.47 491.8,180.46 492.0,180.45 492.2,180.47 492.5,180.49 492.7,180.53 493.0,180.57 493.2,180.62 493.4,180.68 493.7,180.74 493.9,180.79 494.1,180.85 494.4,180.89 494.6,180.94 494.9,180.97 495.1,181.00 495.3,181.03 495.6,181.05 495.8,181.06 496.0,181.07 496.3,181.08 496.5,181.09 496.8,181.10 497.0,181.10 497.2,181.10 497.5,181.11 497.7,181.11 497.9,181.11 498.2,181.12 498.4,181.12 498.7,181.12 498.9,181.12 499.1,181.13 499.4,181.13 499.6,181.13 499.8,181.13 500.1,181.14 500.3,181.14 500.6,181.14 500.8,181.14 501.0,181.15 501.3,181.15 501.5,181.15 501.7,181.15 502.0,181.16 502.2,181.16 502.5,181.16 502.7,181.16 502.9,181.17 503.2,181.17 503.4,181.17 503.6,181.17 503.9,181.18 504.1,181.18 504.4,181.18 504.6,181.18 504.8,181.19 505.1,181.19 505.3,181.19 505.5,181.19 505.8,181.20 506.0,181.20 506.3,181.20 506.5,181.20 506.7,181.21 507.0,181.21 507.2,181.21 507.4,181.21 507.7,181.22 507.9,181.22 508.2,181.22 508.4,181.22 508.6,181.23 508.9,181.23 509.1,181.23 509.3,181.23 509.6,181.24 509.8,181.24 510.1,181.24 510.3,181.24 510.5,181.25 510.8,181.25 511.0,181.25 511.3,181.25 511.5,181.26 511.7,181.26 512.0,181.26 512.2,181.26 512.4,181.26 512.7,181.27 512.9,181.27 513.2,181.27 513.4,181.27 513.6,181.28 513.9,181.28 514.1,181.28 514.3,181.28 514.6,181.28 514.8,181.29 515.1,181.29 515.3,181.29 515.5,181.29 515.8,181.30 516.0,181.30 516.2,181.30 516.5,181.30 516.7,181.30 517.0,181.31 517.2,181.31 517.4,181.31 517.7,181.31 517.9,181.31 518.1,181.32 518.4,181.32 518.6,181.32 518.9,181.32 519.1,181.32 519.3,181.33 519.6,181.33 519.8,181.33 520.0,181.33 520.3,181.33 520.5,181.34 520.8,181.34 521.0,181.34 521.2,181.34 521.5,181.34 521.7,181.34 521.9,181.35 522.2,181.35 522.4,181.35 522.7,181.35 522.9,181.35 523.1,181.35 523.4,181.36 523.6,181.36 523.8,181.36 524.1,181.36 524.3,181.36 524.6,181.36 524.8,181.37 525.0,181.37 525.3,181.37 525.5,181.37 525.7,181.37 526.0,181.37 526.2,181.38 526.5,181.38 526.7,181.38 526.9,181.38 527.2,181.38 527.4,181.38 527.6,181.39 527.9,181.39 528.1,181.39 528.4,181.39 528.6,181.39 528.8,181.39 529.1,181.39 529.3,181.40 529.5,181.40 529.8,181.40 530.0,181.40 530.3,181.40 530.5,181.40 530.7,181.40 531.0,181.40 531.2,181.41 531.4,181.41 531.7,181.41 531.9,181.41 532.2,181.41 532.4,181.41 532.6,181.41 532.9,181.41 533.1,181.42 533.3,181.42 533.6,181.42 533.8,181.42 534.1,181.42 534.3,181.42 534.5,181.42 534.8,181.42 535.0,181.42 535.2,181.43 535.5,181.43 535.7,181.43 536.0,181.43 536.2,181.43 536.4,181.43 536.7,181.43 536.9,181.43 537.1,181.43 537.4,181.44 537.6,181.44 537.9,181.44 538.1,181.44 538.3,181.44 538.6,181.44 538.8,181.44 539.0,181.44 539.3,181.44 539.5,181.44 539.8,181.44 540.0,181.44 540.2,181.45 540.5,181.45 540.7,181.45 541.0,181.45 541.2,181.45 541.4,181.45 541.7,181.45 541.9,181.45" fill="none" stroke="#222" stroke-width="0.58" stroke-linejoin="round"/>
<text transform="translate(387.04 150.15) rotate(-90)" font-size="4.85" fill="#222" stroke="#222" stroke-width="0.16">148,089.0539</text>
<text transform="translate(402.57 165.67) rotate(-90)" font-size="4.85" fill="#222" stroke="#222" stroke-width="0.16">148,187.1142</text>
<text transform="translate(412.75 159.10) rotate(-90)" font-size="4.85" fill="#222" stroke="#222" stroke-width="0.16">148,251.4304</text>
<text transform="translate(428.20 168.06) rotate(-90)" font-size="4.85" fill="#222" stroke="#222" stroke-width="0.16">148,348.8826</text>
<text transform="translate(438.25 171.04) rotate(-90)" font-size="4.85" fill="#222" stroke="#222" stroke-width="0.16">148,412.3674</text>
<text transform="translate(453.70 176.72) rotate(-90)" font-size="4.85" fill="#222" stroke="#222" stroke-width="0.16">148,509.9143</text>
<text x="345.00" y="136.20" font-size="5.05" font-weight="bold" fill="#000" stroke="#000" stroke-width="0.12">2G0F,2K loss,</text>
<text x="345.00" y="141.20" font-size="5.05" font-weight="bold" fill="#000" stroke="#000" stroke-width="0.12">deamidation</text>
<polygon points="366.60,143.60 369.85,144.59 368.48,146.44" fill="#111"/>
<text x="411.00" y="114.60" font-size="5.05" text-anchor="middle" font-weight="bold" fill="#000" stroke="#000" stroke-width="0.12">G0F/G1F,2K loss,</text>
<text x="411.00" y="119.60" font-size="5.05" text-anchor="middle" font-weight="bold" fill="#000" stroke="#000" stroke-width="0.12">deamidation</text>
<polygon points="410.40,121.60 411.55,124.80 409.25,124.80" fill="#111"/>
<text x="450.00" y="126.30" font-size="5.05" text-anchor="middle" font-weight="bold" fill="#000" stroke="#000" stroke-width="0.12">2G1F(or G0F/G2F),</text>
<text x="450.00" y="130.50" font-size="5.05" text-anchor="middle" font-weight="bold" fill="#000" stroke="#000" stroke-width="0.12">2K loss,deamidation</text>
<polygon points="444.40,131.50 442.98,134.59 441.34,132.98" fill="#111"/>
<text x="295.10" y="223.00" font-size="13.0" fill="#000" stroke="#000" stroke-width="0.3">C2</text>
<text transform="translate(331.40 285.75) scale(0.86 1)" font-size="4.9" text-anchor="end" fill="#222" stroke="#222" stroke-width="0.16">0</text>
<text transform="translate(331.40 271.75) scale(0.86 1)" font-size="4.9" text-anchor="end" fill="#222" stroke="#222" stroke-width="0.16">1</text>
<text transform="translate(331.40 257.75) scale(0.86 1)" font-size="4.9" text-anchor="end" fill="#222" stroke="#222" stroke-width="0.16">2</text>
<text transform="translate(331.40 243.75) scale(0.86 1)" font-size="4.9" text-anchor="end" fill="#222" stroke="#222" stroke-width="0.16">3</text>
<text transform="translate(331.40 229.75) scale(0.86 1)" font-size="4.9" text-anchor="end" fill="#222" stroke="#222" stroke-width="0.16">4</text>
<text transform="translate(327.00 220.10) scale(0.85 1)" font-size="4.9" text-anchor="end" fill="#262626" stroke="#262626" stroke-width="0.16">x10</text>
<text transform="translate(328.20 218.90) scale(0.85 1)" font-size="4.0" fill="#262626" stroke="#262626" stroke-width="0.16">1</text>
<text transform="translate(341.70 291.80) scale(0.87 1)" font-size="4.9" text-anchor="middle" fill="#222" stroke="#222" stroke-width="0.16">147800</text>
<text transform="translate(373.42 291.80) scale(0.87 1)" font-size="4.9" text-anchor="middle" fill="#222" stroke="#222" stroke-width="0.16">148000</text>
<text transform="translate(405.14 291.80) scale(0.87 1)" font-size="4.9" text-anchor="middle" fill="#222" stroke="#222" stroke-width="0.16">148200</text>
<text transform="translate(436.86 291.80) scale(0.87 1)" font-size="4.9" text-anchor="middle" fill="#222" stroke="#222" stroke-width="0.16">148400</text>
<text transform="translate(468.58 291.80) scale(0.87 1)" font-size="4.9" text-anchor="middle" fill="#222" stroke="#222" stroke-width="0.16">148600</text>
<text transform="translate(500.30 291.80) scale(0.87 1)" font-size="4.9" text-anchor="middle" fill="#222" stroke="#222" stroke-width="0.16">148800</text>
<text transform="translate(532.02 291.80) scale(0.87 1)" font-size="4.9" text-anchor="middle" fill="#222" stroke="#222" stroke-width="0.16">149000</text>
<text transform="translate(439.15 296.90) scale(0.885 1)" font-size="5.0" text-anchor="middle" fill="#262626" stroke="#262626" stroke-width="0.16">Counts vs. Deconvoluted Mass (amu)</text>
<polyline points="334.0,284.00 334.2,284.00 334.5,284.00 334.7,284.00 335.0,284.00 335.2,284.00 335.4,284.00 335.7,284.00 335.9,284.00 336.1,284.00 336.4,284.00 336.6,284.00 336.9,284.00 337.1,284.00 337.3,284.00 337.6,284.00 337.8,284.00 338.0,284.00 338.3,284.00 338.5,284.00 338.8,284.00 339.0,284.00 339.2,284.00 339.5,284.00 339.7,284.00 339.9,284.00 340.2,284.00 340.4,284.00 340.7,284.00 340.9,284.00 341.1,284.00 341.4,284.00 341.6,284.00 341.9,284.00 342.1,284.00 342.3,284.00 342.6,284.00 342.8,284.00 343.0,284.00 343.3,284.00 343.5,284.00 343.8,284.00 344.0,284.00 344.2,284.00 344.5,284.00 344.7,284.00 344.9,284.00 345.2,284.00 345.4,284.00 345.7,284.00 345.9,284.00 346.1,284.00 346.4,284.00 346.6,284.00 346.8,284.00 347.1,284.00 347.3,284.00 347.6,284.00 347.8,284.00 348.0,284.00 348.3,284.00 348.5,284.00 348.7,284.00 349.0,284.00 349.2,284.00 349.5,284.00 349.7,284.00 349.9,284.00 350.2,284.00 350.4,284.00 350.7,284.00 350.9,284.00 351.1,284.00 351.4,284.00 351.6,284.00 351.8,284.00 352.1,284.00 352.3,284.00 352.6,284.00 352.8,284.00 353.0,284.00 353.3,284.00 353.5,284.00 353.7,284.00 354.0,284.00 354.2,284.00 354.5,283.99 354.7,283.99 354.9,283.98 355.2,283.96 355.4,283.93 355.6,283.88 355.9,283.82 356.1,283.75 356.4,283.65 356.6,283.55 356.8,283.46 357.1,283.38 357.3,283.32 357.6,283.30 357.8,283.32 358.0,283.37 358.3,283.45 358.5,283.55 358.7,283.65 359.0,283.74 359.2,283.82 359.5,283.88 359.7,283.92 359.9,283.96 360.2,283.98 360.4,283.99 360.6,283.99 360.9,284.00 361.1,284.00 361.4,284.00 361.6,284.00 361.8,284.00 362.1,284.00 362.3,284.00 362.5,284.00 362.8,284.00 363.0,284.00 363.3,284.00 363.5,284.00 363.7,284.00 364.0,284.00 364.2,284.00 364.5,284.00 364.7,284.00 364.9,284.00 365.2,284.00 365.4,284.00 365.6,284.00 365.9,284.00 366.1,284.00 366.4,284.00 366.6,284.00 366.8,284.00 367.1,284.00 367.3,284.00 367.5,284.00 367.8,284.00 368.0,284.00 368.3,284.00 368.5,284.00 368.7,284.00 369.0,284.00 369.2,284.00 369.4,284.00 369.7,284.00 369.9,284.00 370.2,284.00 370.4,284.00 370.6,284.00 370.9,284.00 371.1,284.00 371.4,284.00 371.6,284.00 371.8,284.00 372.1,284.00 372.3,284.00 372.5,284.00 372.8,284.00 373.0,284.00 373.3,284.00 373.5,284.00 373.7,284.00 374.0,284.00 374.2,284.00 374.4,284.00 374.7,284.00 374.9,284.00 375.2,284.00 375.4,284.00 375.6,284.00 375.9,284.00 376.1,284.00 376.3,284.00 376.6,284.00 376.8,284.00 377.1,284.00 377.3,284.00 377.5,284.00 377.8,284.00 378.0,284.00 378.2,284.00 378.5,284.00 378.7,284.00 379.0,284.00 379.2,284.00 379.4,284.00 379.7,284.00 379.9,284.00 380.2,284.00 380.4,284.00 380.6,284.00 380.9,284.00 381.1,284.00 381.3,284.00 381.6,284.00 381.8,284.00 382.1,284.00 382.3,284.00 382.5,284.00 382.8,284.00 383.0,284.00 383.2,284.00 383.5,283.99 383.7,283.99 384.0,283.97 384.2,283.93 384.4,283.83 384.7,283.63 384.9,283.25 385.1,282.56 385.4,281.40 385.6,279.60 385.9,276.99 386.1,273.51 386.3,269.26 386.6,264.53 386.8,259.84 387.1,255.82 387.3,253.13 387.5,252.22 387.8,253.26 388.0,256.06 388.2,260.14 388.5,264.85 388.7,269.56 389.0,273.77 389.2,277.18 389.4,279.73 389.7,281.48 389.9,282.59 390.1,283.25 390.4,283.60 390.6,283.77 390.9,283.84 391.1,283.85 391.3,283.83 391.6,283.79 391.8,283.74 392.0,283.68 392.3,283.62 392.5,283.56 392.8,283.49 393.0,283.43 393.2,283.38 393.5,283.34 393.7,283.31 394.0,283.30 394.2,283.30 394.4,283.32 394.7,283.35 394.9,283.39 395.1,283.45 395.4,283.51 395.6,283.57 395.9,283.64 396.1,283.70 396.3,283.75 396.6,283.80 396.8,283.85 397.0,283.88 397.3,283.91 397.5,283.93 397.8,283.95 398.0,283.96 398.2,283.97 398.5,283.98 398.7,283.98 398.9,283.99 399.2,283.99 399.4,283.98 399.7,283.97 399.9,283.94 400.1,283.88 400.4,283.76 400.6,283.55 400.8,283.17 401.1,282.58 401.3,281.71 401.6,280.53 401.8,279.04 402.0,277.34 402.3,275.60 402.5,274.04 402.8,272.91 403.0,272.39 403.2,272.58 403.5,273.45 403.7,274.83 403.9,276.52 404.2,278.26 404.4,279.86 404.7,281.20 404.9,282.21 405.1,282.93 405.4,283.39 405.6,283.67 405.8,283.83 406.1,283.91 406.3,283.95 406.6,283.97 406.8,283.98 407.0,283.98 407.3,283.98 407.5,283.98 407.7,283.98 408.0,283.98 408.2,283.98 408.5,283.98 408.7,283.98 408.9,283.98 409.2,283.98 409.4,283.97 409.7,283.95 409.9,283.91 410.1,283.82 410.4,283.64 410.6,283.29 410.8,282.66 411.1,281.60 411.3,279.94 411.6,277.55 411.8,274.37 412.0,270.47 412.3,266.13 412.5,261.83 412.7,258.16 413.0,255.69 413.2,254.85 413.5,255.80 413.7,258.37 413.9,262.11 414.2,266.42 414.4,270.74 414.6,274.60 414.9,277.73 415.1,280.06 415.4,281.67 415.6,282.70 415.8,283.30 416.1,283.63 416.3,283.78 416.6,283.83 416.8,283.81 417.0,283.73 417.3,283.58 417.5,283.35 417.7,283.04 418.0,282.63 418.2,282.16 418.5,281.64 418.7,281.14 418.9,280.71 419.2,280.42 419.4,280.31 419.6,280.40 419.9,280.68 420.1,281.10 420.4,281.60 420.6,282.11 420.8,282.59 421.1,283.00 421.3,283.32 421.5,283.55 421.8,283.71 422.0,283.81 422.3,283.87 422.5,283.90 422.7,283.92 423.0,283.93 423.2,283.93 423.5,283.93 423.7,283.93 423.9,283.93 424.2,283.93 424.4,283.93 424.6,283.92 424.9,283.92 425.1,283.90 425.4,283.87 425.6,283.81 425.8,283.70 426.1,283.49 426.3,283.15 426.5,282.61 426.8,281.81 427.0,280.70 427.3,279.28 427.5,277.59 427.7,275.75 428.0,273.94 428.2,272.39 428.4,271.31 428.7,270.89 428.9,271.17 429.2,272.12 429.4,273.59 429.6,275.36 429.9,277.21 430.1,278.94 430.3,280.42 430.6,281.59 430.8,282.45 431.1,283.03 431.3,283.40 431.5,283.63 431.8,283.75 432.0,283.82 432.3,283.85 432.5,283.86 432.7,283.87 433.0,283.87 433.2,283.87 433.4,283.87 433.7,283.86 433.9,283.86 434.2,283.86 434.4,283.86 434.6,283.85 434.9,283.85 435.1,283.84 435.3,283.81 435.6,283.77 435.8,283.68 436.1,283.52 436.3,283.24 436.5,282.77 436.8,282.05 437.0,281.00 437.2,279.59 437.5,277.82 437.7,275.78 438.0,273.63 438.2,271.60 438.4,269.95 438.7,268.94 438.9,268.72 439.2,269.32 439.4,270.64 439.6,272.50 439.9,274.61 440.1,276.73 440.3,278.66 440.6,280.26 440.8,281.49 441.1,282.36 441.3,282.94 441.5,283.28 441.8,283.46 442.0,283.52 442.2,283.49 442.5,283.38 442.7,283.20 443.0,282.95 443.2,282.64 443.4,282.28 443.7,281.88 443.9,281.49 444.1,281.14 444.4,280.86 444.6,280.70 444.9,280.67 445.1,280.77 445.3,281.00 445.6,281.32 445.8,281.70 446.1,282.09 446.3,282.46 446.5,282.79 446.8,283.06 447.0,283.27 447.2,283.43 447.5,283.53 447.7,283.60 448.0,283.64 448.2,283.67 448.4,283.68 448.7,283.68 448.9,283.68 449.1,283.68 449.4,283.68 449.6,283.68 449.9,283.67 450.1,283.67 450.3,283.66 450.6,283.65 450.8,283.63 451.0,283.60 451.3,283.54 451.5,283.45 451.8,283.30 452.0,283.06 452.2,282.72 452.5,282.23 452.7,281.59 453.0,280.79 453.2,279.85 453.4,278.82 453.7,277.78 453.9,276.83 454.1,276.08 454.4,275.61 454.6,275.49 454.9,275.72 455.1,276.29 455.3,277.11 455.6,278.09 455.8,279.13 456.0,280.13 456.3,281.02 456.5,281.76 456.8,282.34 457.0,282.77 457.2,283.07 457.5,283.27 457.7,283.39 457.9,283.46 458.2,283.50 458.4,283.52 458.7,283.53 458.9,283.53 459.1,283.53 459.4,283.53 459.6,283.53 459.8,283.52 460.1,283.52 460.3,283.51 460.6,283.50 460.8,283.49 461.0,283.47 461.3,283.43 461.5,283.36 461.8,283.25 462.0,283.08 462.2,282.83 462.5,282.48 462.7,282.01 462.9,281.41 463.2,280.70 463.4,279.91 463.7,279.10 463.9,278.34 464.1,277.72 464.4,277.31 464.6,277.16 464.8,277.28 465.1,277.67 465.3,278.28 465.6,279.02 465.8,279.82 466.0,280.61 466.3,281.32 466.5,281.92 466.7,282.39 467.0,282.74 467.2,282.99 467.5,283.14 467.7,283.23 467.9,283.26 468.2,283.24 468.4,283.17 468.7,283.06 468.9,282.89 469.1,282.66 469.4,282.37 469.6,282.04 469.8,281.69 470.1,281.33 470.3,281.01 470.6,280.76 470.8,280.61 471.0,280.58 471.3,280.68 471.5,280.88 471.7,281.18 472.0,281.52 472.2,281.88 472.5,282.21 472.7,282.51 472.9,282.76 473.2,282.95 473.4,283.09 473.6,283.19 473.9,283.25 474.1,283.29 474.4,283.32 474.6,283.33 474.8,283.33 475.1,283.33 475.3,283.33 475.6,283.33 475.8,283.33 476.0,283.32 476.3,283.31 476.5,283.29 476.7,283.26 477.0,283.22 477.2,283.16 477.5,283.07 477.7,282.96 477.9,282.80 478.2,282.61 478.4,282.37 478.6,282.10 478.9,281.79 479.1,281.46 479.4,281.13 479.6,280.82 479.8,280.56 480.1,280.36 480.3,280.25 480.5,280.23 480.8,280.31 481.0,280.47 481.3,280.71 481.5,281.00 481.7,281.32 482.0,281.65 482.2,281.96 482.4,282.25 482.7,282.50 482.9,282.71 483.2,282.88 483.4,283.01 483.6,283.11 483.9,283.17 484.1,283.22 484.4,283.25 484.6,283.27 484.8,283.28 485.1,283.29 485.3,283.29 485.5,283.29 485.8,283.29 486.0,283.29 486.3,283.28 486.5,283.27 486.7,283.25 487.0,283.23 487.2,283.20 487.4,283.16 487.7,283.11 487.9,283.04 488.2,282.96 488.4,282.87 488.6,282.76 488.9,282.64 489.1,282.52 489.3,282.39 489.6,282.26 489.8,282.15 490.1,282.05 490.3,281.98 490.5,281.93 490.8,281.92 491.0,281.93 491.3,281.98 491.5,282.06 491.7,282.15 492.0,282.27 492.2,282.40 492.4,282.53 492.7,282.65 492.9,282.77 493.2,282.88 493.4,282.98 493.6,283.06 493.9,283.13 494.1,283.18 494.3,283.22 494.6,283.24 494.8,283.26 495.1,283.27 495.3,283.26 495.5,283.25 495.8,283.23 496.0,283.21 496.2,283.17 496.5,283.12 496.7,283.07 497.0,283.01 497.2,282.94 497.4,282.86 497.7,282.77 497.9,282.68 498.2,282.58 498.4,282.49 498.6,282.39 498.9,282.30 499.1,282.22 499.3,282.14 499.6,282.08 499.8,282.04 500.1,282.01 500.3,282.00 500.5,282.02 500.8,282.05 501.0,282.10 501.2,282.16 501.5,282.24 501.7,282.33 502.0,282.42 502.2,282.53 502.4,282.63 502.7,282.73 502.9,282.83 503.1,282.92 503.4,283.00 503.6,283.08 503.9,283.14 504.1,283.20 504.3,283.25 504.6,283.28 504.8,283.31 505.1,283.33 505.3,283.34 505.5,283.34 505.8,283.33 506.0,283.31 506.2,283.29 506.5,283.26 506.7,283.22 507.0,283.18 507.2,283.13 507.4,283.08 507.7,283.02 507.9,282.97 508.1,282.91 508.4,282.86 508.6,282.81 508.9,282.77 509.1,282.74 509.3,282.71 509.6,282.70 509.8,282.70 510.0,282.70 510.3,282.72 510.5,282.76 510.8,282.80 511.0,282.85 511.2,282.90 511.5,282.96 511.7,283.02 511.9,283.09 512.2,283.15 512.4,283.21 512.7,283.27 512.9,283.32 513.1,283.37 513.4,283.41 513.6,283.45 513.9,283.48 514.1,283.51 514.3,283.53 514.6,283.55 514.8,283.57 515.0,283.58 515.3,283.60 515.5,283.61 515.8,283.61 516.0,283.62 516.2,283.63 516.5,283.63 516.7,283.64 516.9,283.64 517.2,283.64 517.4,283.65 517.7,283.65 517.9,283.66 518.1,283.66 518.4,283.66 518.6,283.67 518.8,283.67 519.1,283.67 519.3,283.68 519.6,283.68 519.8,283.68 520.0,283.69 520.3,283.69 520.5,283.69 520.8,283.70 521.0,283.70 521.2,283.70 521.5,283.71 521.7,283.71 521.9,283.71 522.2,283.72 522.4,283.72 522.7,283.72 522.9,283.73 523.1,283.73 523.4,283.73 523.6,283.74 523.8,283.74 524.1,283.74 524.3,283.75 524.6,283.75 524.8,283.75 525.0,283.75 525.3,283.76 525.5,283.76 525.7,283.76 526.0,283.77 526.2,283.77 526.5,283.77 526.7,283.78 526.9,283.78 527.2,283.78 527.4,283.78 527.7,283.79 527.9,283.79 528.1,283.79 528.4,283.79 528.6,283.80 528.8,283.80 529.1,283.80 529.3,283.81 529.6,283.81 529.8,283.81 530.0,283.81 530.3,283.82 530.5,283.82 530.7,283.82 531.0,283.82 531.2,283.83 531.5,283.83 531.7,283.83 531.9,283.83 532.2,283.84 532.4,283.84 532.6,283.84 532.9,283.84 533.1,283.84 533.4,283.85 533.6,283.85 533.8,283.85 534.1,283.85 534.3,283.86 534.5,283.86 534.8,283.86 535.0,283.86 535.3,283.86 535.5,283.87 535.7,283.87 536.0,283.87 536.2,283.87 536.5,283.87 536.7,283.88 536.9,283.88 537.2,283.88 537.4,283.88 537.6,283.88 537.9,283.89 538.1,283.89 538.4,283.89 538.6,283.89 538.8,283.89 539.1,283.90 539.3,283.90 539.5,283.90 539.8,283.90 540.0,283.90 540.3,283.90 540.5,283.91 540.7,283.91 541.0,283.91 541.2,283.91 541.4,283.91 541.7,283.91 541.9,283.91 542.2,283.92 542.4,283.92 542.6,283.92 542.9,283.92 543.1,283.92 543.4,283.92 543.6,283.92 543.8,283.93 544.1,283.93" fill="none" stroke="#222" stroke-width="0.58" stroke-linejoin="round"/>
<text transform="translate(388.87 250.30) rotate(-90)" font-size="4.85" fill="#222" stroke="#222" stroke-width="0.16">148,088.9299</text>
<text transform="translate(404.40 270.60) rotate(-90)" font-size="4.85" fill="#222" stroke="#222" stroke-width="0.16">148,186.7673</text>
<text transform="translate(414.56 253.10) rotate(-90)" font-size="4.85" fill="#222" stroke="#222" stroke-width="0.16">148,250.8971</text>
<text transform="translate(430.06 269.20) rotate(-90)" font-size="4.85" fill="#222" stroke="#222" stroke-width="0.16">148,348.5642</text>
<text transform="translate(440.21 267.10) rotate(-90)" font-size="4.85" fill="#222" stroke="#222" stroke-width="0.16">148,412.5969</text>
<text transform="translate(455.93 274.10) rotate(-90)" font-size="4.85" fill="#222" stroke="#222" stroke-width="0.16">148,511.6980</text>
<text x="364.00" y="243.00" font-size="5.05" text-anchor="middle" font-weight="bold" fill="#000" stroke="#000" stroke-width="0.12">2G0F,2K loss</text>
<polygon points="373.00,246.00 375.90,247.78 374.10,249.22" fill="#111"/>
<text x="403.00" y="218.60" font-size="5.05" text-anchor="middle" font-weight="bold" fill="#000" stroke="#000" stroke-width="0.12">G0F/G1F,2K loss</text>
<polygon points="400.40,220.40 403.01,222.57 401.03,223.74" fill="#111"/>
<text x="456.40" y="227.00" font-size="5.05" text-anchor="middle" font-weight="bold" fill="#000" stroke="#000" stroke-width="0.12">2G1F(or G0F/G2F),</text>
<text x="456.40" y="232.00" font-size="5.05" text-anchor="middle" font-weight="bold" fill="#000" stroke="#000" stroke-width="0.12">2K loss</text>
<polygon points="450.20,234.40 448.93,237.56 447.21,236.03" fill="#111"/>
<text x="295.40" y="326.60" font-size="13.0" fill="#000" stroke="#000" stroke-width="0.3">D2</text>
<text transform="translate(329.50 389.05) scale(0.86 1)" font-size="4.9" text-anchor="end" fill="#222" stroke="#222" stroke-width="0.16">0</text>
<text transform="translate(329.50 378.19) scale(0.86 1)" font-size="4.9" text-anchor="end" fill="#222" stroke="#222" stroke-width="0.16">0.2</text>
<text transform="translate(329.50 367.33) scale(0.86 1)" font-size="4.9" text-anchor="end" fill="#222" stroke="#222" stroke-width="0.16">0.4</text>
<text transform="translate(329.50 356.47) scale(0.86 1)" font-size="4.9" text-anchor="end" fill="#222" stroke="#222" stroke-width="0.16">0.6</text>
<text transform="translate(329.50 345.61) scale(0.86 1)" font-size="4.9" text-anchor="end" fill="#222" stroke="#222" stroke-width="0.16">0.8</text>
<text transform="translate(329.50 334.75) scale(0.86 1)" font-size="4.9" text-anchor="end" fill="#222" stroke="#222" stroke-width="0.16">1</text>
<text transform="translate(325.10 323.00) scale(0.85 1)" font-size="4.9" text-anchor="end" fill="#262626" stroke="#262626" stroke-width="0.16">x10</text>
<text transform="translate(326.30 321.80) scale(0.85 1)" font-size="4.0" fill="#262626" stroke="#262626" stroke-width="0.16">1</text>
<text transform="translate(339.60 395.10) scale(0.87 1)" font-size="4.9" text-anchor="middle" fill="#222" stroke="#222" stroke-width="0.16">147800</text>
<text transform="translate(371.40 395.10) scale(0.87 1)" font-size="4.9" text-anchor="middle" fill="#222" stroke="#222" stroke-width="0.16">148000</text>
<text transform="translate(403.20 395.10) scale(0.87 1)" font-size="4.9" text-anchor="middle" fill="#222" stroke="#222" stroke-width="0.16">148200</text>
<text transform="translate(435.00 395.10) scale(0.87 1)" font-size="4.9" text-anchor="middle" fill="#222" stroke="#222" stroke-width="0.16">148400</text>
<text transform="translate(466.80 395.10) scale(0.87 1)" font-size="4.9" text-anchor="middle" fill="#222" stroke="#222" stroke-width="0.16">148600</text>
<text transform="translate(498.60 395.10) scale(0.87 1)" font-size="4.9" text-anchor="middle" fill="#222" stroke="#222" stroke-width="0.16">148800</text>
<text transform="translate(530.40 395.10) scale(0.87 1)" font-size="4.9" text-anchor="middle" fill="#222" stroke="#222" stroke-width="0.16">149000</text>
<text transform="translate(437.10 400.20) scale(0.885 1)" font-size="5.0" text-anchor="middle" fill="#262626" stroke="#262626" stroke-width="0.16">Counts vs. Deconvoluted Mass (amu)</text>
<polyline points="332.1,387.30 332.3,387.30 332.6,387.30 332.8,387.30 333.1,387.30 333.3,387.30 333.5,387.30 333.8,387.30 334.0,387.30 334.2,387.30 334.5,387.30 334.7,387.30 335.0,387.30 335.2,387.30 335.4,387.30 335.7,387.30 335.9,387.30 336.2,387.30 336.4,387.30 336.6,387.30 336.9,387.30 337.1,387.30 337.3,387.30 337.6,387.30 337.8,387.30 338.1,387.30 338.3,387.30 338.5,387.30 338.8,387.30 339.0,387.30 339.3,387.30 339.5,387.30 339.7,387.30 340.0,387.30 340.2,387.30 340.4,387.30 340.7,387.30 340.9,387.30 341.2,387.30 341.4,387.30 341.6,387.30 341.9,387.30 342.1,387.30 342.4,387.30 342.6,387.30 342.8,387.30 343.1,387.30 343.3,387.30 343.5,387.30 343.8,387.30 344.0,387.30 344.3,387.30 344.5,387.30 344.7,387.30 345.0,387.30 345.2,387.30 345.5,387.30 345.7,387.30 345.9,387.30 346.2,387.30 346.4,387.30 346.6,387.30 346.9,387.30 347.1,387.30 347.4,387.30 347.6,387.30 347.8,387.30 348.1,387.30 348.3,387.30 348.6,387.30 348.8,387.30 349.0,387.30 349.3,387.30 349.5,387.30 349.7,387.30 350.0,387.30 350.2,387.30 350.5,387.30 350.7,387.30 350.9,387.30 351.2,387.30 351.4,387.30 351.7,387.30 351.9,387.30 352.1,387.30 352.4,387.30 352.6,387.30 352.8,387.30 353.1,387.30 353.3,387.30 353.6,387.30 353.8,387.30 354.0,387.30 354.3,387.30 354.5,387.30 354.8,387.30 355.0,387.30 355.2,387.30 355.5,387.30 355.7,387.30 356.0,387.30 356.2,387.30 356.4,387.30 356.7,387.30 356.9,387.30 357.1,387.30 357.4,387.30 357.6,387.30 357.9,387.30 358.1,387.30 358.3,387.30 358.6,387.30 358.8,387.30 359.1,387.30 359.3,387.30 359.5,387.30 359.8,387.30 360.0,387.30 360.2,387.30 360.5,387.30 360.7,387.30 361.0,387.30 361.2,387.30 361.4,387.30 361.7,387.30 361.9,387.30 362.2,387.30 362.4,387.30 362.6,387.30 362.9,387.30 363.1,387.30 363.3,387.30 363.6,387.30 363.8,387.30 364.1,387.30 364.3,387.30 364.5,387.30 364.8,387.30 365.0,387.30 365.3,387.30 365.5,387.30 365.7,387.30 366.0,387.30 366.2,387.30 366.4,387.30 366.7,387.30 366.9,387.30 367.2,387.30 367.4,387.30 367.6,387.30 367.9,387.30 368.1,387.30 368.4,387.30 368.6,387.30 368.8,387.30 369.1,387.30 369.3,387.30 369.5,387.30 369.8,387.30 370.0,387.30 370.3,387.30 370.5,387.30 370.7,387.30 371.0,387.30 371.2,387.30 371.5,387.29 371.7,387.28 371.9,387.26 372.2,387.24 372.4,387.19 372.6,387.13 372.9,387.03 373.1,386.92 373.4,386.77 373.6,386.62 373.8,386.47 374.1,386.34 374.3,386.25 374.6,386.21 374.8,386.24 375.0,386.32 375.3,386.44 375.5,386.59 375.7,386.74 376.0,386.88 376.2,387.01 376.5,387.11 376.7,387.18 376.9,387.23 377.2,387.26 377.4,387.28 377.7,387.29 377.9,387.29 378.1,387.30 378.4,387.30 378.6,387.30 378.8,387.30 379.1,387.30 379.3,387.30 379.6,387.30 379.8,387.30 380.0,387.30 380.3,387.30 380.5,387.30 380.8,387.30 381.0,387.30 381.2,387.30 381.5,387.29 381.7,387.28 381.9,387.26 382.2,387.21 382.4,387.13 382.7,386.98 382.9,386.73 383.1,386.34 383.4,385.78 383.6,385.01 383.9,384.04 384.1,382.92 384.3,381.72 384.6,380.58 384.8,379.64 385.0,379.05 385.3,378.89 385.5,379.19 385.8,379.90 386.0,380.91 386.2,382.09 386.5,383.27 386.7,384.36 387.0,385.27 387.2,385.97 387.4,386.48 387.7,386.82 387.9,387.03 388.1,387.16 388.4,387.23 388.6,387.27 388.9,387.28 389.1,387.29 389.3,387.30 389.6,387.30 389.8,387.30 390.1,387.30 390.3,387.30 390.5,387.30 390.8,387.30 391.0,387.30 391.2,387.30 391.5,387.30 391.7,387.30 392.0,387.30 392.2,387.30 392.4,387.30 392.7,387.30 392.9,387.29 393.2,387.29 393.4,387.29 393.6,387.28 393.9,387.27 394.1,387.25 394.3,387.23 394.6,387.19 394.8,387.13 395.1,387.06 395.3,386.98 395.5,386.88 395.8,386.77 396.0,386.67 396.3,386.58 396.5,386.52 396.7,386.48 397.0,386.48 397.2,386.52 397.4,386.59 397.7,386.68 397.9,386.78 398.2,386.89 398.4,386.98 398.6,387.07 398.9,387.14 399.1,387.19 399.4,387.23 399.6,387.25 399.8,387.27 400.1,387.28 400.3,387.28 400.5,387.29 400.8,387.29 401.0,387.29 401.3,387.29 401.5,387.29 401.7,387.29 402.0,387.28 402.2,387.26 402.5,387.22 402.7,387.13 402.9,386.94 403.2,386.58 403.4,385.92 403.7,384.82 403.9,383.10 404.1,380.62 404.4,377.30 404.6,373.24 404.8,368.72 405.1,364.22 405.3,360.37 405.6,357.77 405.8,356.88 406.0,357.85 406.3,360.50 406.5,364.39 406.8,368.90 407.0,373.41 407.2,377.44 407.5,380.72 407.7,383.17 407.9,384.85 408.2,385.90 408.4,386.50 408.7,386.78 408.9,386.85 409.1,386.76 409.4,386.55 409.6,386.24 409.9,385.84 410.1,385.39 410.3,384.93 410.6,384.52 410.8,384.20 411.0,384.03 411.3,384.04 411.5,384.23 411.8,384.55 412.0,384.98 412.2,385.44 412.5,385.89 412.7,386.28 413.0,386.60 413.2,386.84 413.4,387.01 413.7,387.12 413.9,387.19 414.1,387.23 414.4,387.25 414.6,387.26 414.9,387.26 415.1,387.26 415.3,387.26 415.6,387.26 415.8,387.26 416.1,387.26 416.3,387.26 416.5,387.26 416.8,387.26 417.0,387.26 417.2,387.26 417.5,387.25 417.7,387.25 418.0,387.24 418.2,387.21 418.4,387.15 418.7,387.03 418.9,386.80 419.2,386.39 419.4,385.71 419.6,384.64 419.9,383.12 420.1,381.09 420.3,378.62 420.6,375.88 420.8,373.19 421.1,370.91 421.3,369.41 421.5,368.94 421.8,369.60 422.0,371.26 422.3,373.63 422.5,376.36 422.7,379.06 423.0,381.46 423.2,383.40 423.4,384.84 423.7,385.83 423.9,386.46 424.2,386.83 424.4,387.03 424.6,387.13 424.9,387.18 425.1,387.20 425.4,387.21 425.6,387.22 425.8,387.22 426.1,387.21 426.3,387.21 426.5,387.21 426.8,387.21 427.0,387.21 427.3,387.21 427.5,387.20 427.7,387.20 428.0,387.19 428.2,387.16 428.5,387.11 428.7,386.99 428.9,386.78 429.2,386.39 429.4,385.73 429.6,384.70 429.9,383.21 430.1,381.20 430.4,378.73 430.6,375.97 430.8,373.19 431.1,370.78 431.3,369.12 431.6,368.50 431.8,369.02 432.0,370.59 432.3,372.93 432.5,375.69 432.7,378.46 433.0,380.97 433.2,383.01 433.5,384.53 433.7,385.57 433.9,386.21 434.2,386.53 434.4,386.60 434.7,386.47 434.9,386.15 435.1,385.65 435.4,384.96 435.6,384.11 435.8,383.15 436.1,382.18 436.3,381.29 436.6,380.62 436.8,380.27 437.0,380.29 437.3,380.67 437.5,381.37 437.8,382.26 438.0,383.24 438.2,384.19 438.5,385.02 438.7,385.69 438.9,386.20 439.2,386.56 439.4,386.79 439.7,386.93 439.9,387.01 440.1,387.05 440.4,387.07 440.6,387.08 440.9,387.08 441.1,387.08 441.3,387.08 441.6,387.08 441.8,387.07 442.0,387.07 442.3,387.07 442.5,387.07 442.8,387.06 443.0,387.06 443.2,387.05 443.5,387.04 443.7,387.02 444.0,386.98 444.2,386.90 444.4,386.77 444.7,386.53 444.9,386.14 445.1,385.54 445.4,384.68 445.6,383.53 445.9,382.10 446.1,380.46 446.3,378.76 446.6,377.18 446.8,375.93 447.1,375.20 447.3,375.10 447.5,375.65 447.8,376.76 448.0,378.25 448.2,379.94 448.5,381.60 448.7,383.09 449.0,384.32 449.2,385.26 449.4,385.92 449.7,386.36 449.9,386.64 450.2,386.79 450.4,386.88 450.6,386.92 450.9,386.94 451.1,386.95 451.4,386.95 451.6,386.95 451.8,386.94 452.1,386.94 452.3,386.94 452.5,386.93 452.8,386.93 453.0,386.93 453.3,386.92 453.5,386.92 453.7,386.90 454.0,386.89 454.2,386.85 454.5,386.79 454.7,386.67 454.9,386.48 455.2,386.16 455.4,385.70 455.6,385.05 455.9,384.19 456.1,383.17 456.4,382.02 456.6,380.87 456.8,379.85 457.1,379.11 457.3,378.74 457.6,378.82 457.8,379.33 458.0,380.19 458.3,381.27 458.5,382.42 458.7,383.53 459.0,384.49 459.2,385.25 459.5,385.81 459.7,386.19 459.9,386.40 460.2,386.47 460.4,386.41 460.7,386.24 460.9,385.93 461.1,385.47 461.4,384.88 461.6,384.18 461.8,383.41 462.1,382.65 462.3,382.00 462.6,381.55 462.8,381.36 463.0,381.48 463.3,381.87 463.5,382.48 463.8,383.21 464.0,383.98 464.2,384.70 464.5,385.32 464.7,385.80 464.9,386.16 465.2,386.40 465.4,386.56 465.7,386.65 465.9,386.70 466.1,386.73 466.4,386.74 466.6,386.74 466.9,386.74 467.1,386.74 467.3,386.74 467.6,386.74 467.8,386.73 468.0,386.73 468.3,386.73 468.5,386.73 468.8,386.72 469.0,386.72 469.2,386.71 469.5,386.69 469.7,386.67 470.0,386.63 470.2,386.56 470.4,386.46 470.7,386.30 470.9,386.08 471.1,385.79 471.4,385.43 471.6,385.00 471.9,384.52 472.1,384.03 472.3,383.58 472.6,383.21 472.8,382.97 473.1,382.88 473.3,382.97 473.5,383.21 473.8,383.58 474.0,384.04 474.2,384.52 474.5,384.99 474.7,385.42 475.0,385.78 475.2,386.06 475.4,386.27 475.7,386.41 475.9,386.51 476.2,386.56 476.4,386.57 476.6,386.56 476.9,386.52 477.1,386.44 477.3,386.32 477.6,386.16 477.8,385.96 478.1,385.72 478.3,385.45 478.5,385.17 478.8,384.91 479.0,384.69 479.3,384.54 479.5,384.48 479.7,384.52 480.0,384.65 480.2,384.85 480.4,385.10 480.7,385.38 480.9,385.65 481.2,385.90 481.4,386.11 481.6,386.28 481.9,386.40 482.1,386.49 482.4,386.54 482.6,386.57 482.8,386.56 483.1,386.54 483.3,386.48 483.5,386.39 483.8,386.26 484.0,386.09 484.3,385.88 484.5,385.63 484.7,385.35 485.0,385.08 485.2,384.83 485.5,384.63 485.7,384.51 485.9,384.48 486.2,384.55 486.4,384.71 486.6,384.93 486.9,385.20 487.1,385.48 487.4,385.75 487.6,385.99 487.8,386.18 488.1,386.34 488.3,386.45 488.6,386.53 488.8,386.59 489.0,386.62 489.3,386.64 489.5,386.65 489.7,386.65 490.0,386.64 490.2,386.62 490.5,386.60 490.7,386.56 490.9,386.51 491.2,386.44 491.4,386.35 491.7,386.24 491.9,386.10 492.1,385.95 492.4,385.78 492.6,385.60 492.8,385.44 493.1,385.29 493.3,385.17 493.6,385.10 493.8,385.07 494.0,385.09 494.3,385.16 494.5,385.27 494.8,385.42 495.0,385.59 495.2,385.76 495.5,385.94 495.7,386.10 495.9,386.24 496.2,386.37 496.4,386.47 496.7,386.54 496.9,386.60 497.1,386.65 497.4,386.67 497.6,386.69 497.9,386.70 498.1,386.70 498.3,386.68 498.6,386.66 498.8,386.62 499.1,386.57 499.3,386.51 499.5,386.42 499.8,386.31 500.0,386.19 500.2,386.05 500.5,385.91 500.7,385.77 501.0,385.64 501.2,385.54 501.4,385.46 501.7,385.43 501.9,385.43 502.2,385.48 502.4,385.56 502.6,385.68 502.9,385.81 503.1,385.96 503.3,386.11 503.6,386.25 503.8,386.38 504.1,386.49 504.3,386.58 504.5,386.65 504.8,386.71 505.0,386.75 505.3,386.78 505.5,386.80 505.7,386.82 506.0,386.83 506.2,386.83 506.4,386.84 506.7,386.85 506.9,386.85 507.2,386.85 507.4,386.86 507.6,386.86 507.9,386.86 508.1,386.87 508.4,386.87 508.6,386.87 508.8,386.88 509.1,386.88 509.3,386.88 509.5,386.89 509.8,386.89 510.0,386.89 510.3,386.90 510.5,386.90 510.7,386.90 511.0,386.91 511.2,386.91 511.5,386.91 511.7,386.92 511.9,386.92 512.2,386.92 512.4,386.93 512.6,386.93 512.9,386.93 513.1,386.94 513.4,386.94 513.6,386.94 513.8,386.95 514.1,386.95 514.3,386.95 514.6,386.96 514.8,386.96 515.0,386.96 515.3,386.97 515.5,386.97 515.7,386.97 516.0,386.98 516.2,386.98 516.5,386.98 516.7,386.99 516.9,386.99 517.2,386.99 517.4,387.00 517.7,387.00 517.9,387.00 518.1,387.01 518.4,387.01 518.6,387.01 518.8,387.01 519.1,387.02 519.3,387.02 519.6,387.02 519.8,387.03 520.0,387.03 520.3,387.03 520.5,387.04 520.8,387.04 521.0,387.04 521.2,387.05 521.5,387.05 521.7,387.05 521.9,387.05 522.2,387.06 522.4,387.06 522.7,387.06 522.9,387.07 523.1,387.07 523.4,387.07 523.6,387.07 523.9,387.08 524.1,387.08 524.3,387.08 524.6,387.09 524.8,387.09 525.0,387.09 525.3,387.09 525.5,387.10 525.8,387.10 526.0,387.10 526.2,387.10 526.5,387.11 526.7,387.11 527.0,387.11 527.2,387.11 527.4,387.12 527.7,387.12 527.9,387.12 528.1,387.12 528.4,387.13 528.6,387.13 528.9,387.13 529.1,387.13 529.3,387.14 529.6,387.14 529.8,387.14 530.1,387.14 530.3,387.14 530.5,387.15 530.8,387.15 531.0,387.15 531.2,387.15 531.5,387.16 531.7,387.16 532.0,387.16 532.2,387.16 532.4,387.16 532.7,387.17 532.9,387.17 533.2,387.17 533.4,387.17 533.6,387.17 533.9,387.18 534.1,387.18 534.3,387.18 534.6,387.18 534.8,387.18 535.1,387.19 535.3,387.19 535.5,387.19 535.8,387.19 536.0,387.19 536.3,387.19 536.5,387.20 536.7,387.20 537.0,387.20 537.2,387.20 537.4,387.20 537.7,387.20 537.9,387.21 538.2,387.21 538.4,387.21 538.6,387.21 538.9,387.21 539.1,387.21 539.4,387.21 539.6,387.22 539.8,387.22 540.1,387.22 540.3,387.22 540.5,387.22 540.8,387.22 541.0,387.22 541.3,387.23 541.5,387.23 541.7,387.23 542.0,387.23" fill="none" stroke="#222" stroke-width="0.58" stroke-linejoin="round"/>
<text transform="translate(386.60 376.57) rotate(-90)" font-size="4.85" fill="#222" stroke="#222" stroke-width="0.16">148,087.1382</text>
<text transform="translate(407.14 354.85) rotate(-90)" font-size="4.85" fill="#222" stroke="#222" stroke-width="0.16">148,216.2882</text>
<text transform="translate(422.87 366.80) rotate(-90)" font-size="4.85" fill="#222" stroke="#222" stroke-width="0.16">148,315.1940</text>
<text transform="translate(432.92 366.25) rotate(-90)" font-size="4.85" fill="#222" stroke="#222" stroke-width="0.16">148,378.4352</text>
<text transform="translate(448.56 372.77) rotate(-90)" font-size="4.85" fill="#222" stroke="#222" stroke-width="0.16">148,476.8035</text>
<text transform="translate(458.74 376.57) rotate(-90)" font-size="4.85" fill="#222" stroke="#222" stroke-width="0.16">148,540.8295</text>
<text transform="translate(474.40 380.91) rotate(-90)" font-size="4.85" fill="#222" stroke="#222" stroke-width="0.16">148,639.3334</text>
<text x="361.80" y="358.00" font-size="5.05" text-anchor="middle" font-weight="bold" fill="#000" stroke="#000" stroke-width="0.12">2G0F,2K loss</text>
<polygon points="364.00,360.40 367.33,361.09 366.13,363.05" fill="#111"/>
<text x="383.00" y="322.00" font-size="5.05" text-anchor="middle" font-weight="bold" fill="#000" stroke="#000" stroke-width="0.12">2G0F,1K loss</text>
<polygon points="385.00,324.40 388.16,325.66 386.64,327.38" fill="#111"/>
<text x="432.50" y="322.00" font-size="5.05" text-anchor="middle" font-weight="bold" fill="#000" stroke="#000" stroke-width="0.12">G0F/G1F,1K loss</text>
<polygon points="431.60,324.00 432.75,327.20 430.45,327.20" fill="#111"/>
<text x="467.00" y="332.10" font-size="5.05" text-anchor="middle" font-weight="bold" fill="#000" stroke="#000" stroke-width="0.12">2G1F(or G0F/G2F),</text>
<text x="467.00" y="336.70" font-size="5.05" text-anchor="middle" font-weight="bold" fill="#000" stroke="#000" stroke-width="0.12">1K loss</text>
<polygon points="463.40,337.70 462.47,340.97 460.60,339.63" fill="#111"/>
<text x="295.50" y="435.60" font-size="13.0" fill="#000" stroke="#000" stroke-width="0.3">E2</text>
<text transform="translate(329.50 492.35) scale(0.86 1)" font-size="4.9" text-anchor="end" fill="#222" stroke="#222" stroke-width="0.16">0</text>
<text transform="translate(329.50 484.35) scale(0.86 1)" font-size="4.9" text-anchor="end" fill="#222" stroke="#222" stroke-width="0.16">0.25</text>
<text transform="translate(329.50 476.35) scale(0.86 1)" font-size="4.9" text-anchor="end" fill="#222" stroke="#222" stroke-width="0.16">0.5</text>
<text transform="translate(329.50 468.35) scale(0.86 1)" font-size="4.9" text-anchor="end" fill="#222" stroke="#222" stroke-width="0.16">0.75</text>
<text transform="translate(329.50 460.35) scale(0.86 1)" font-size="4.9" text-anchor="end" fill="#222" stroke="#222" stroke-width="0.16">1</text>
<text transform="translate(329.50 452.35) scale(0.86 1)" font-size="4.9" text-anchor="end" fill="#222" stroke="#222" stroke-width="0.16">1.25</text>
<text transform="translate(329.50 444.35) scale(0.86 1)" font-size="4.9" text-anchor="end" fill="#222" stroke="#222" stroke-width="0.16">1.5</text>
<text transform="translate(329.50 436.35) scale(0.86 1)" font-size="4.9" text-anchor="end" fill="#222" stroke="#222" stroke-width="0.16">1.75</text>
<text transform="translate(325.10 426.00) scale(0.85 1)" font-size="4.9" text-anchor="end" fill="#262626" stroke="#262626" stroke-width="0.16">x10</text>
<text transform="translate(326.30 424.80) scale(0.85 1)" font-size="4.0" fill="#262626" stroke="#262626" stroke-width="0.16">1</text>
<text transform="translate(339.30 498.40) scale(0.87 1)" font-size="4.9" text-anchor="middle" fill="#222" stroke="#222" stroke-width="0.16">147800</text>
<text transform="translate(371.10 498.40) scale(0.87 1)" font-size="4.9" text-anchor="middle" fill="#222" stroke="#222" stroke-width="0.16">148000</text>
<text transform="translate(402.90 498.40) scale(0.87 1)" font-size="4.9" text-anchor="middle" fill="#222" stroke="#222" stroke-width="0.16">148200</text>
<text transform="translate(434.70 498.40) scale(0.87 1)" font-size="4.9" text-anchor="middle" fill="#222" stroke="#222" stroke-width="0.16">148400</text>
<text transform="translate(466.50 498.40) scale(0.87 1)" font-size="4.9" text-anchor="middle" fill="#222" stroke="#222" stroke-width="0.16">148600</text>
<text transform="translate(498.30 498.40) scale(0.87 1)" font-size="4.9" text-anchor="middle" fill="#222" stroke="#222" stroke-width="0.16">148800</text>
<text transform="translate(530.10 498.40) scale(0.87 1)" font-size="4.9" text-anchor="middle" fill="#222" stroke="#222" stroke-width="0.16">149000</text>
<text transform="translate(437.15 503.50) scale(0.885 1)" font-size="5.0" text-anchor="middle" fill="#262626" stroke="#262626" stroke-width="0.16">Counts vs. Deconvoluted Mass (amu)</text>
<polyline points="332.1,490.60 332.3,490.60 332.6,490.60 332.8,490.60 333.1,490.60 333.3,490.60 333.5,490.60 333.8,490.60 334.0,490.60 334.2,490.60 334.5,490.60 334.7,490.60 335.0,490.60 335.2,490.60 335.4,490.60 335.7,490.60 335.9,490.60 336.2,490.60 336.4,490.60 336.6,490.60 336.9,490.60 337.1,490.60 337.3,490.60 337.6,490.60 337.8,490.60 338.1,490.60 338.3,490.60 338.5,490.60 338.8,490.60 339.0,490.60 339.3,490.60 339.5,490.60 339.7,490.60 340.0,490.60 340.2,490.60 340.4,490.60 340.7,490.60 340.9,490.60 341.2,490.60 341.4,490.60 341.6,490.60 341.9,490.60 342.1,490.60 342.4,490.60 342.6,490.60 342.8,490.60 343.1,490.60 343.3,490.60 343.5,490.60 343.8,490.60 344.0,490.60 344.3,490.60 344.5,490.60 344.7,490.60 345.0,490.60 345.2,490.60 345.5,490.60 345.7,490.60 345.9,490.60 346.2,490.60 346.4,490.60 346.6,490.60 346.9,490.60 347.1,490.60 347.4,490.60 347.6,490.60 347.8,490.60 348.1,490.60 348.3,490.60 348.6,490.60 348.8,490.60 349.0,490.60 349.3,490.60 349.5,490.60 349.7,490.60 350.0,490.60 350.2,490.60 350.5,490.60 350.7,490.60 350.9,490.60 351.2,490.60 351.4,490.60 351.7,490.60 351.9,490.60 352.1,490.60 352.4,490.60 352.6,490.60 352.8,490.60 353.1,490.60 353.3,490.60 353.6,490.60 353.8,490.60 354.0,490.60 354.3,490.60 354.5,490.60 354.8,490.60 355.0,490.60 355.2,490.60 355.5,490.60 355.7,490.60 356.0,490.60 356.2,490.60 356.4,490.60 356.7,490.60 356.9,490.60 357.1,490.60 357.4,490.60 357.6,490.60 357.9,490.60 358.1,490.60 358.3,490.60 358.6,490.60 358.8,490.60 359.1,490.60 359.3,490.60 359.5,490.60 359.8,490.60 360.0,490.60 360.2,490.60 360.5,490.60 360.7,490.60 361.0,490.60 361.2,490.60 361.4,490.60 361.7,490.60 361.9,490.60 362.2,490.60 362.4,490.60 362.6,490.60 362.9,490.60 363.1,490.60 363.3,490.60 363.6,490.60 363.8,490.60 364.1,490.60 364.3,490.60 364.5,490.60 364.8,490.60 365.0,490.60 365.3,490.60 365.5,490.60 365.7,490.60 366.0,490.60 366.2,490.60 366.4,490.60 366.7,490.60 366.9,490.60 367.2,490.60 367.4,490.60 367.6,490.60 367.9,490.60 368.1,490.60 368.4,490.60 368.6,490.60 368.8,490.60 369.1,490.60 369.3,490.60 369.5,490.60 369.8,490.60 370.0,490.60 370.3,490.60 370.5,490.60 370.7,490.60 371.0,490.60 371.2,490.60 371.5,490.60 371.7,490.60 371.9,490.60 372.2,490.60 372.4,490.60 372.6,490.60 372.9,490.60 373.1,490.60 373.4,490.60 373.6,490.60 373.8,490.60 374.1,490.60 374.3,490.60 374.6,490.60 374.8,490.60 375.0,490.60 375.3,490.60 375.5,490.60 375.7,490.60 376.0,490.60 376.2,490.60 376.5,490.60 376.7,490.60 376.9,490.60 377.2,490.60 377.4,490.60 377.7,490.60 377.9,490.60 378.1,490.60 378.4,490.60 378.6,490.60 378.8,490.60 379.1,490.60 379.3,490.60 379.6,490.60 379.8,490.60 380.0,490.60 380.3,490.60 380.5,490.60 380.8,490.60 381.0,490.60 381.2,490.60 381.5,490.60 381.7,490.59 381.9,490.58 382.2,490.56 382.4,490.52 382.7,490.46 382.9,490.35 383.1,490.20 383.4,489.99 383.6,489.72 383.9,489.39 384.1,489.03 384.3,488.67 384.6,488.36 384.8,488.14 385.0,488.04 385.3,488.09 385.5,488.26 385.8,488.54 386.0,488.89 386.2,489.25 386.5,489.60 386.7,489.89 387.0,490.13 387.2,490.30 387.4,490.42 387.7,490.50 387.9,490.55 388.1,490.57 388.4,490.59 388.6,490.59 388.9,490.60 389.1,490.60 389.3,490.60 389.6,490.60 389.8,490.60 390.1,490.60 390.3,490.60 390.5,490.60 390.8,490.60 391.0,490.60 391.2,490.60 391.5,490.60 391.7,490.60 392.0,490.60 392.2,490.60 392.4,490.60 392.7,490.60 392.9,490.60 393.2,490.60 393.4,490.60 393.6,490.60 393.9,490.60 394.1,490.60 394.3,490.60 394.6,490.60 394.8,490.60 395.1,490.60 395.3,490.60 395.5,490.60 395.8,490.60 396.0,490.60 396.3,490.60 396.5,490.60 396.7,490.60 397.0,490.60 397.2,490.60 397.4,490.60 397.7,490.60 397.9,490.60 398.2,490.60 398.4,490.60 398.6,490.60 398.9,490.59 399.1,490.59 399.4,490.58 399.6,490.57 399.8,490.55 400.1,490.53 400.3,490.50 400.5,490.46 400.8,490.41 401.0,490.36 401.3,490.29 401.5,490.23 401.7,490.16 402.0,490.09 402.2,490.04 402.5,489.99 402.7,489.97 402.9,489.96 403.2,489.97 403.4,490.00 403.7,490.05 403.9,490.11 404.1,490.18 404.4,490.25 404.6,490.31 404.8,490.37 405.1,490.43 405.3,490.47 405.6,490.51 405.8,490.54 406.0,490.56 406.3,490.57 406.5,490.58 406.8,490.59 407.0,490.59 407.2,490.60 407.5,490.60 407.7,490.60 407.9,490.60 408.2,490.60 408.4,490.60 408.7,490.60 408.9,490.60 409.1,490.60 409.4,490.60 409.6,490.60 409.9,490.60 410.1,490.60 410.3,490.60 410.6,490.60 410.8,490.60 411.0,490.60 411.3,490.60 411.5,490.60 411.8,490.60 412.0,490.60 412.2,490.60 412.5,490.60 412.7,490.60 413.0,490.60 413.2,490.60 413.4,490.60 413.7,490.60 413.9,490.60 414.1,490.60 414.4,490.60 414.6,490.60 414.9,490.60 415.1,490.60 415.3,490.60 415.6,490.60 415.8,490.60 416.1,490.60 416.3,490.60 416.5,490.60 416.8,490.60 417.0,490.60 417.2,490.60 417.5,490.60 417.7,490.60 418.0,490.60 418.2,490.60 418.4,490.60 418.7,490.60 418.9,490.60 419.2,490.60 419.4,490.60 419.6,490.60 419.9,490.60 420.1,490.60 420.3,490.60 420.6,490.60 420.8,490.60 421.1,490.60 421.3,490.60 421.5,490.60 421.8,490.60 422.0,490.60 422.3,490.60 422.5,490.60 422.7,490.60 423.0,490.60 423.2,490.60 423.4,490.60 423.7,490.60 423.9,490.60 424.2,490.60 424.4,490.60 424.6,490.60 424.9,490.60 425.1,490.60 425.4,490.60 425.6,490.60 425.8,490.60 426.1,490.60 426.3,490.60 426.5,490.60 426.8,490.60 427.0,490.60 427.3,490.60 427.5,490.60 427.7,490.60 428.0,490.60 428.2,490.60 428.5,490.60 428.7,490.60 428.9,490.60 429.2,490.60 429.4,490.60 429.6,490.60 429.9,490.60 430.1,490.60 430.4,490.60 430.6,490.60 430.8,490.60 431.1,490.60 431.3,490.60 431.6,490.60 431.8,490.60 432.0,490.59 432.3,490.59 432.5,490.59 432.7,490.59 433.0,490.58 433.2,490.56 433.5,490.51 433.7,490.40 433.9,490.17 434.2,489.75 434.4,489.01 434.7,487.80 434.9,485.95 435.1,483.34 435.4,479.96 435.6,475.93 435.8,471.60 436.1,467.47 436.3,464.15 436.6,462.17 436.8,461.90 437.0,463.37 437.3,466.32 437.5,470.26 437.8,474.59 438.0,478.76 438.2,482.37 438.5,485.22 438.7,487.29 438.9,488.69 439.2,489.55 439.4,490.05 439.7,490.31 439.9,490.43 440.1,490.46 440.4,490.44 440.6,490.39 440.9,490.31 441.1,490.22 441.3,490.10 441.6,489.98 441.8,489.86 442.0,489.75 442.3,489.67 442.5,489.63 442.8,489.63 443.0,489.67 443.2,489.74 443.5,489.85 443.7,489.97 444.0,490.09 444.2,490.21 444.4,490.31 444.7,490.39 444.9,490.45 445.1,490.50 445.4,490.53 445.6,490.55 445.9,490.56 446.1,490.57 446.3,490.57 446.6,490.57 446.8,490.57 447.1,490.57 447.3,490.57 447.5,490.57 447.8,490.57 448.0,490.57 448.2,490.57 448.5,490.56 448.7,490.56 449.0,490.54 449.2,490.50 449.4,490.43 449.7,490.28 449.9,490.02 450.2,489.57 450.4,488.86 450.6,487.81 450.9,486.38 451.1,484.61 451.4,482.59 451.6,480.53 451.8,478.70 452.1,477.39 452.3,476.81 452.5,477.07 452.8,478.13 453.0,479.79 453.3,481.80 453.5,483.86 453.7,485.74 454.0,487.30 454.2,488.49 454.5,489.32 454.7,489.85 454.9,490.18 455.2,490.36 455.4,490.45 455.6,490.50 455.9,490.52 456.1,490.53 456.4,490.53 456.6,490.53 456.8,490.53 457.1,490.53 457.3,490.53 457.6,490.53 457.8,490.52 458.0,490.52 458.3,490.52 458.5,490.52 458.7,490.51 459.0,490.48 459.2,490.44 459.5,490.35 459.7,490.16 459.9,489.83 460.2,489.25 460.4,488.32 460.7,486.95 460.9,485.07 461.1,482.69 461.4,479.95 461.6,477.11 461.8,474.54 462.1,472.62 462.3,471.67 462.6,471.88 462.8,473.19 463.0,475.39 463.3,478.10 463.5,480.93 463.8,483.56 464.0,485.77 464.2,487.47 464.5,488.66 464.7,489.45 464.9,489.91 465.2,490.16 465.4,490.27 465.7,490.27 465.9,490.18 466.1,489.99 466.4,489.69 466.6,489.26 466.9,488.69 467.1,487.98 467.3,487.19 467.6,486.37 467.8,485.62 468.0,485.04 468.3,484.73 468.5,484.72 468.8,485.02 469.0,485.58 469.2,486.32 469.5,487.13 469.7,487.93 470.0,488.63 470.2,489.21 470.4,489.64 470.7,489.94 470.9,490.14 471.1,490.27 471.4,490.34 471.6,490.37 471.9,490.39 472.1,490.40 472.3,490.40 472.6,490.40 472.8,490.40 473.1,490.40 473.3,490.39 473.5,490.39 473.8,490.39 474.0,490.38 474.2,490.37 474.5,490.36 474.7,490.33 475.0,490.27 475.2,490.16 475.4,489.98 475.7,489.66 475.9,489.17 476.2,488.46 476.4,487.49 476.6,486.25 476.9,484.81 477.1,483.26 477.3,481.77 477.6,480.53 477.8,479.72 478.1,479.47 478.3,479.81 478.5,480.69 478.8,481.97 479.0,483.48 479.3,485.02 479.5,486.43 479.7,487.62 480.0,488.55 480.2,489.22 480.4,489.67 480.7,489.96 480.9,490.13 481.2,490.22 481.4,490.27 481.6,490.29 481.9,490.30 482.1,490.30 482.4,490.30 482.6,490.30 482.8,490.30 483.1,490.29 483.3,490.29 483.5,490.29 483.8,490.29 484.0,490.28 484.3,490.28 484.5,490.27 484.7,490.25 485.0,490.21 485.2,490.14 485.5,490.03 485.7,489.84 485.9,489.55 486.2,489.14 486.4,488.58 486.6,487.90 486.9,487.11 487.1,486.29 487.4,485.52 487.6,484.92 487.8,484.56 488.1,484.51 488.3,484.77 488.6,485.31 488.8,486.03 489.0,486.84 489.3,487.64 489.5,488.36 489.7,488.95 490.0,489.39 490.2,489.70 490.5,489.88 490.7,489.97 490.9,489.97 491.2,489.91 491.4,489.78 491.7,489.59 491.9,489.34 492.1,489.05 492.4,488.72 492.6,488.40 492.8,488.10 493.1,487.86 493.3,487.71 493.6,487.67 493.8,487.74 494.0,487.91 494.3,488.17 494.5,488.48 494.8,488.81 495.0,489.13 495.2,489.41 495.5,489.64 495.7,489.83 495.9,489.97 496.2,490.06 496.4,490.12 496.7,490.16 496.9,490.19 497.1,490.20 497.4,490.21 497.6,490.21 497.9,490.21 498.1,490.22 498.3,490.22 498.6,490.22 498.8,490.22 499.1,490.22 499.3,490.22 499.5,490.22 499.8,490.21 500.0,490.21 500.2,490.20 500.5,490.19 500.7,490.17 501.0,490.13 501.2,490.08 501.4,489.99 501.7,489.86 501.9,489.68 502.2,489.46 502.4,489.18 502.6,488.87 502.9,488.54 503.1,488.23 503.3,487.96 503.6,487.77 503.8,487.67 504.1,487.69 504.3,487.83 504.5,488.05 504.8,488.34 505.0,488.67 505.3,488.99 505.5,489.29 505.7,489.55 506.0,489.76 506.2,489.91 506.4,490.01 506.7,490.06 506.9,490.07 507.2,490.04 507.4,489.98 507.6,489.88 507.9,489.75 508.1,489.60 508.4,489.44 508.6,489.29 508.8,489.15 509.1,489.04 509.3,488.99 509.5,488.98 509.8,489.04 510.0,489.14 510.3,489.27 510.5,489.42 510.7,489.57 511.0,489.70 511.2,489.80 511.5,489.86 511.7,489.88 511.9,489.86 512.2,489.80 512.4,489.72 512.6,489.61 512.9,489.48 513.1,489.36 513.4,489.24 513.6,489.14 513.8,489.06 514.1,489.02 514.3,489.03 514.6,489.07 514.8,489.14 515.0,489.25 515.3,489.38 515.5,489.51 515.7,489.65 516.0,489.78 516.2,489.90 516.5,490.01 516.7,490.09 516.9,490.16 517.2,490.22 517.4,490.26 517.7,490.28 517.9,490.30 518.1,490.31 518.4,490.31 518.6,490.31 518.8,490.30 519.1,490.28 519.3,490.24 519.6,490.20 519.8,490.15 520.0,490.08 520.3,490.00 520.5,489.90 520.8,489.80 521.0,489.71 521.2,489.61 521.5,489.53 521.7,489.47 521.9,489.43 522.2,489.42 522.4,489.44 522.7,489.49 522.9,489.57 523.1,489.66 523.4,489.76 523.6,489.86 523.9,489.97 524.1,490.06 524.3,490.14 524.6,490.21 524.8,490.27 525.0,490.31 525.3,490.35 525.5,490.37 525.8,490.39 526.0,490.40 526.2,490.41 526.5,490.42 526.7,490.42 527.0,490.43 527.2,490.43 527.4,490.43 527.7,490.44 527.9,490.44 528.1,490.44 528.4,490.44 528.6,490.45 528.9,490.45 529.1,490.45 529.3,490.45 529.6,490.45 529.8,490.46 530.1,490.46 530.3,490.46 530.5,490.46 530.8,490.46 531.0,490.47 531.2,490.47 531.5,490.47 531.7,490.47 532.0,490.47 532.2,490.48 532.4,490.48 532.7,490.48 532.9,490.48 533.2,490.48 533.4,490.49 533.6,490.49 533.9,490.49 534.1,490.49 534.3,490.49 534.6,490.50 534.8,490.50 535.1,490.50 535.3,490.50 535.5,490.50 535.8,490.50 536.0,490.51 536.3,490.51 536.5,490.51 536.7,490.51 537.0,490.51 537.2,490.51 537.4,490.52 537.7,490.52 537.9,490.52 538.2,490.52 538.4,490.52 538.6,490.52 538.9,490.52 539.1,490.53 539.4,490.53 539.6,490.53 539.8,490.53 540.1,490.53 540.3,490.53 540.5,490.53 540.8,490.54 541.0,490.54 541.3,490.54 541.5,490.54 541.7,490.54 542.0,490.54" fill="none" stroke="#222" stroke-width="0.58" stroke-linejoin="round"/>
<text transform="translate(438.07 459.66) rotate(-90)" font-size="4.85" fill="#222" stroke="#222" stroke-width="0.16">148,412.6733</text>
<text transform="translate(453.70 474.70) rotate(-90)" font-size="4.85" fill="#222" stroke="#222" stroke-width="0.16">148,510.9710</text>
<text transform="translate(463.75 469.58) rotate(-90)" font-size="4.85" fill="#222" stroke="#222" stroke-width="0.16">148,574.2368</text>
<text transform="translate(479.39 477.58) rotate(-90)" font-size="4.85" fill="#222" stroke="#222" stroke-width="0.16">148,672.5955</text>
<text transform="translate(489.35 482.70) rotate(-90)" font-size="4.85" fill="#222" stroke="#222" stroke-width="0.16">148,735.1774</text>
<text transform="translate(505.25 485.90) rotate(-90)" font-size="4.85" fill="#222" stroke="#222" stroke-width="0.16">148,835.1968</text>
<text x="401.00" y="433.60" font-size="5.05" text-anchor="middle" font-weight="bold" fill="#000" stroke="#000" stroke-width="0.12">2G0F,2K loss,</text>
<text x="401.00" y="439.00" font-size="5.05" text-anchor="middle" font-weight="bold" fill="#000" stroke="#000" stroke-width="0.12">VHS-containing variant</text>
<polygon points="406.00,442.60 409.38,443.00 408.35,445.06" fill="#111"/>
<text x="463.80" y="423.00" font-size="5.05" text-anchor="middle" font-weight="bold" fill="#000" stroke="#000" stroke-width="0.12">G0F/G1F,2K loss,</text>
<text x="463.80" y="428.20" font-size="5.05" text-anchor="middle" font-weight="bold" fill="#000" stroke="#000" stroke-width="0.12">VHS-containing variant</text>
<polygon points="461.40,429.80 462.55,433.00 460.25,433.00" fill="#111"/>
<text x="503.00" y="436.40" font-size="5.05" text-anchor="middle" font-weight="bold" fill="#000" stroke="#000" stroke-width="0.12">2G1F(or G0F/G2F),2K loss,</text>
<text x="503.00" y="441.00" font-size="5.05" text-anchor="middle" font-weight="bold" fill="#000" stroke="#000" stroke-width="0.12">VHS-containing variant</text>
<polygon points="496.50,442.40 495.26,445.57 493.53,444.06" fill="#111"/>
</g>
</svg>
</body></html>
